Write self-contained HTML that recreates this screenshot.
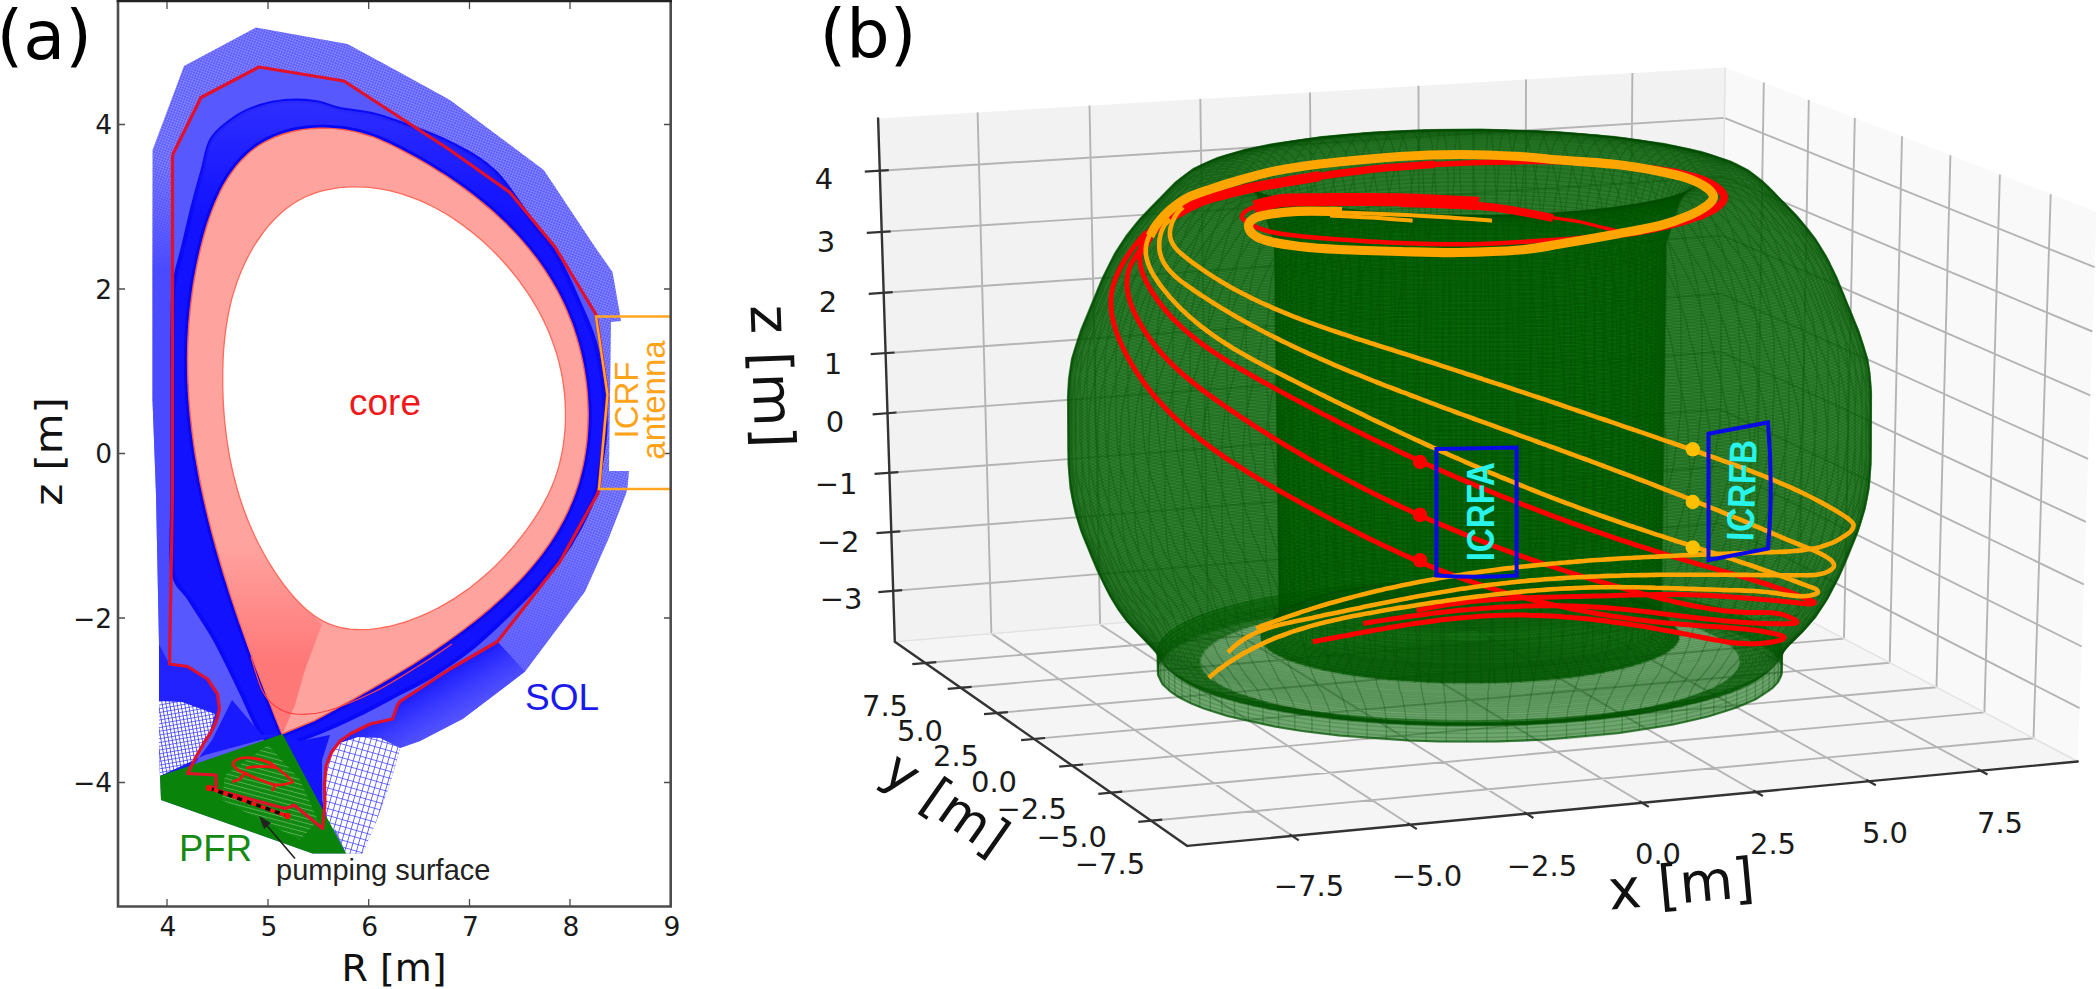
<!DOCTYPE html>
<html><head><meta charset="utf-8"><title>Figure</title>
<style>html,body{margin:0;padding:0;background:#fff}svg{display:block}</style></head><body>
<svg width="2100" height="989" viewBox="0 0 2100 989">
<rect width="2100" height="989" fill="#fff"/>
<g id="pa">
<defs>
<pattern id="mesh" width="2.6" height="2.6" patternUnits="userSpaceOnUse" patternTransform="rotate(20)"><rect width="2.6" height="2.6" fill="#5a5aff"/><path d="M0 0H2.6M0 0V2.6" stroke="#a0a0ff" stroke-width="0.9"/></pattern>
<pattern id="cmesh" width="3.7" height="3.7" patternUnits="userSpaceOnUse" patternTransform="rotate(-10)"><rect width="3.7" height="3.7" fill="#fff"/><path d="M0 0H3.7M0 0V3.7" stroke="#3a3aff" stroke-width="1.6"/></pattern>
<pattern id="cmesh2" width="5.6" height="6.6" patternUnits="userSpaceOnUse" patternTransform="rotate(16)"><rect width="5.6" height="6.6" fill="#fff"/><path d="M0 0H5.6M0 0V6.6" stroke="#3c3cff" stroke-width="1.5"/></pattern>
<pattern id="gmesh" width="4" height="4.5" patternUnits="userSpaceOnUse" patternTransform="rotate(15)"><rect width="4" height="4.5" fill="#128a12"/><path d="M0 0H4" stroke="#8fd08f" stroke-width="1.5"/><path d="M0 0V4.5" stroke="#2a962a" stroke-width="1"/></pattern>
<linearGradient id="pinkg" x1="300" y1="590" x2="283" y2="734" gradientUnits="userSpaceOnUse"><stop offset="0" stop-color="#ff7f7f"/><stop offset="1" stop-color="#ff9a9a"/></linearGradient>
<linearGradient id="lrg" x1="0" y1="510" x2="0" y2="650" gradientUnits="userSpaceOnUse"><stop offset="0" stop-color="#5a5aff" stop-opacity="0"/><stop offset="1" stop-color="#5858ff" stop-opacity="0.6"/></linearGradient>
<linearGradient id="pinkv" x1="0" y1="545" x2="0" y2="660" gradientUnits="userSpaceOnUse"><stop offset="0" stop-color="#ff7474" stop-opacity="0"/><stop offset="1" stop-color="#ff7474" stop-opacity="0.9"/></linearGradient>
<linearGradient id="bandg" x1="0" y1="105" x2="0" y2="250" gradientUnits="userSpaceOnUse"><stop offset="0" stop-color="#5a5aff" stop-opacity="0.38"/><stop offset="0.35" stop-color="#5252ff" stop-opacity="0.22"/><stop offset="0.8" stop-color="#4040ff" stop-opacity="0"/></linearGradient>
<linearGradient id="leftg" x1="0" y1="160" x2="0" y2="270" gradientUnits="userSpaceOnUse"><stop offset="0" stop-color="#4e4eff" stop-opacity="0"/><stop offset="1" stop-color="#4646ff" stop-opacity="0.9"/></linearGradient>
<linearGradient id="lwg" x1="440" y1="672" x2="470" y2="722" gradientUnits="userSpaceOnUse"><stop offset="0" stop-color="#1818ff"/><stop offset="0.45" stop-color="#3a3aff"/><stop offset="1" stop-color="#5c5cff"/></linearGradient>
</defs>
<path d="M256 27.5L347.5 44L400 72.5L450 100L543.8 170L595 247L612.5 272L620 314.5L621 321L611 322L610 400L609 471L629 471L627.5 488L626 494L608 540L585 591.5L525 671.5L462.5 719L420 741L400 748L394 770L387.5 791L376 822L362.5 853.5L346 853.5L312.5 853.5L161 800L160 776L159 741L159 644L156 494L152.5 400L152.5 150L184 66Z" fill="url(#mesh)"/>
<path d="M152.5 150L172.5 155L172.5 494L169.5 664L159 644L156 494L152.5 400Z" fill="url(#leftg)"/>
<path d="M172.5 155L201 97.5L259 67L344 81L400 117.5L450 150L510 192.5L555 247L596 314.5L607.5 394.5L599 489L597.5 494L560 561.5L497.5 641.5L450 669L400 701.5L397.5 705L392.5 719L370 724L350 734L340 741L331 753L326 766L324.5 785L325 803L322.5 828.5L294 805L290 807L285 808.5L287.5 816L209 788L216 787L216 775L187.5 773.5L196 757L205 741L210 734L216 722L219.5 709L217.5 694L207.5 679L187.5 666.5L169.5 664L171 580L172.5 494Z" fill="#5858ff"/>
<path d="M159 644L169.5 664L187.5 666.5L207.5 679L217.5 694L219.5 709L210 734L205 741L187.5 773.5L160 776L159 741Z" fill="#2222ff"/>
<path d="M597.5 494L626 494L608 540L585 591.5L525 671.5L462.5 719L450 669L497.5 641.5L560 561.5Z" fill="url(#lrg)"/>
<path d="M450 669L497.5 641.5L525 671.5L462.5 719L420 741L400 748L394 770L340 741L350 734L370 724L392.5 719L397.5 705L400 701.5Z" fill="url(#lwg)"/>
<path d="M159 701L182 702L215 714L208 738L190 770L160 776L159 741Z" fill="url(#cmesh)"/>
<path d="M340 743L358 737L380 738L400 748L394 770L387.5 791L376 822L362.5 853.5L346 853.5L336 830L328 828L325 803L324.5 785L326 766L331 753Z" fill="url(#cmesh2)"/>
<path d="M172.5 494C172.5 465.7 172.5 427.3 172.5 400C172.5 372.7 172.2 349.2 172.5 330C172.8 310.8 172.2 298.8 174 285C175.8 271.2 179.8 260.3 183 247C186.2 233.7 189.7 217.8 193 205C196.3 192.2 199.4 181.1 202.6 170C205.8 158.9 206.3 147.4 212 138.5C217.7 129.6 228.6 122.1 236.6 116.7C244.6 111.3 251.9 108.6 260 106C268.1 103.4 275.8 101.7 285 101C294.2 100.3 305.8 100.7 315 102C324.2 103.3 330.5 107 340 109C349.5 111 362 111.7 372 114C382 116.3 387 118.2 400 123C413 127.8 434.2 134.8 450 143C465.8 151.2 480.8 158.2 495 172C509.2 185.8 525.2 213 535 226C544.8 239 546.4 237.7 553.6 250C560.8 262.3 570.8 283.3 578 300C585.2 316.7 592.4 330 597 350C601.6 370 605.1 400 605.6 420C606.1 440 602.1 456.7 600 470C597.9 483.3 598 487.5 593 500C588 512.5 578.4 531.7 570 545C561.6 558.3 553.2 567.8 542.4 580C531.6 592.2 517.2 606.3 505 618C492.8 629.7 481.9 640.2 469.4 650C456.9 659.8 441.6 669.8 430 677C418.4 684.2 411.7 686.8 400 693C388.3 699.2 371.7 708.2 360 714C348.3 719.8 340 723.7 330 728C320 732.3 307.9 736.8 300 740C292.1 743.2 288.8 747.8 282.5 747C276.2 746.2 269.1 744.5 262 735C254.9 725.5 247.8 705.8 240 690C232.2 674.2 223.3 655 215 640C206.7 625 197.1 611.7 190 600C182.9 588.3 175.4 587.7 172.5 570C169.6 552.3 172.5 522.3 172.5 494Z" fill="#1212ff" stroke="#0a0af6" stroke-width="4"/>
<clipPath id="bandc"><path d="M172.5 494C172.5 465.7 172.5 427.3 172.5 400C172.5 372.7 172.2 349.2 172.5 330C172.8 310.8 172.2 298.8 174 285C175.8 271.2 179.8 260.3 183 247C186.2 233.7 189.7 217.8 193 205C196.3 192.2 199.4 181.1 202.6 170C205.8 158.9 206.3 147.4 212 138.5C217.7 129.6 228.6 122.1 236.6 116.7C244.6 111.3 251.9 108.6 260 106C268.1 103.4 275.8 101.7 285 101C294.2 100.3 305.8 100.7 315 102C324.2 103.3 330.5 107 340 109C349.5 111 362 111.7 372 114C382 116.3 387 118.2 400 123C413 127.8 434.2 134.8 450 143C465.8 151.2 480.8 158.2 495 172C509.2 185.8 525.2 213 535 226C544.8 239 546.4 237.7 553.6 250C560.8 262.3 570.8 283.3 578 300C585.2 316.7 592.4 330 597 350C601.6 370 605.1 400 605.6 420C606.1 440 602.1 456.7 600 470C597.9 483.3 598 487.5 593 500C588 512.5 578.4 531.7 570 545C561.6 558.3 553.2 567.8 542.4 580C531.6 592.2 517.2 606.3 505 618C492.8 629.7 481.9 640.2 469.4 650C456.9 659.8 441.6 669.8 430 677C418.4 684.2 411.7 686.8 400 693C388.3 699.2 371.7 708.2 360 714C348.3 719.8 340 723.7 330 728C320 732.3 307.9 736.8 300 740C292.1 743.2 288.8 747.8 282.5 747C276.2 746.2 269.1 744.5 262 735C254.9 725.5 247.8 705.8 240 690C232.2 674.2 223.3 655 215 640C206.7 625 197.1 611.7 190 600C182.9 588.3 175.4 587.7 172.5 570C169.6 552.3 172.5 522.3 172.5 494Z"/></clipPath>
<rect x="150" y="95" width="480" height="160" fill="url(#bandg)" clip-path="url(#bandc)"/>
<path d="M282.5 734L262 735L232 700L222 720L212 740L196 762L187.5 773.5L160 776L205 755L282.5 734Z" fill="#1a1aff"/>
<path d="M282.5 734L300 741L330 735L322 760L322 800L330 830L346 853.5L320 815L300 770Z" fill="#1414ff"/>
<path d="M282 734C281.4 732.5 279.6 727.8 278.3 724.7C277.1 721.6 275.9 718.5 274.6 715.4C273.4 712.3 272.2 709.2 271 706.1C269.7 703 268.5 699.9 267.3 696.8C266.1 693.6 264.9 690.5 263.7 687.4C262.4 684.3 261.2 681.1 260 678C258.8 674.8 257.6 671.7 256.4 668.5C255.3 665.4 254.1 662.2 252.9 659.1C251.7 655.9 250.5 652.7 249.4 649.6C248.2 646.4 247.1 643.2 245.9 640C244.8 636.9 243.6 633.7 242.5 630.5C241.4 627.3 240.2 624.1 239.1 620.9C238 617.7 236.9 614.5 235.8 611.3C234.7 608.1 233.7 604.9 232.6 601.7C231.5 598.5 230.5 595.3 229.4 592C228.4 588.8 227.4 585.6 226.4 582.4C225.3 579.1 224.3 575.9 223.3 572.7C222.4 569.4 221.4 566.2 220.4 563C219.5 559.7 218.5 556.5 217.6 553.2C216.7 550 215.7 546.7 214.9 543.5C214 540.2 213.1 537 212.2 533.7C211.4 530.4 210.5 527.2 209.7 523.9C208.9 520.6 208.1 517.4 207.3 514.1C206.5 510.8 205.7 507.5 205 504.2C204.2 501 203.5 497.7 202.8 494.4C202.1 491.1 201.4 487.8 200.7 484.5C200 481.2 199.4 477.9 198.8 474.6C198.2 471.3 197.6 468 197 464.7C196.4 461.4 195.9 458.1 195.3 454.8C194.8 451.5 194.3 448.2 193.8 444.9C193.3 441.5 192.9 438.2 192.5 434.9C192 431.6 191.6 428.3 191.3 425C190.9 421.6 190.5 418.3 190.2 415C189.9 411.6 189.6 408.3 189.3 405C189.1 401.7 188.8 398.3 188.6 395C188.4 391.6 188.2 388.3 188.1 385C187.9 381.6 187.8 378.3 187.7 374.9C187.6 371.6 187.6 368.3 187.6 364.9C187.5 361.6 187.5 358.2 187.6 354.9C187.6 351.5 187.7 348.2 187.8 344.8C187.9 341.5 188 338.1 188.2 334.7C188.4 331.4 188.6 328 188.8 324.7C189.1 321.3 189.3 318 189.7 314.6C190 311.2 190.3 307.9 190.7 304.5C191.1 301.2 191.5 297.8 192 294.4C192.4 291.1 192.9 287.7 193.4 284.3C194 281 194.5 277.6 195.2 274.2C195.8 270.9 196.4 267.5 197.1 264.1C197.8 260.8 198.5 257.4 199.3 254C200.1 250.6 200.9 247.3 201.7 243.9C202.6 240.5 203.5 237.2 204.4 233.8C205.4 230.5 206.4 227.1 207.4 223.8C208.5 220.5 209.6 217.3 210.8 214C212 210.8 213.2 207.6 214.5 204.5C215.8 201.3 217.1 198.2 218.6 195.2C220 192.1 221.5 189.1 223.1 186.2C224.7 183.3 226.4 180.5 228.1 177.7C229.9 175 231.7 172.3 233.7 169.7C235.6 167.1 237.6 164.6 239.7 162.3C241.8 159.9 244 157.6 246.4 155.4C248.7 153.2 251.1 151.2 253.6 149.3C256.1 147.3 258.7 145.5 261.5 143.9C264.2 142.2 267.1 140.6 270 139.3C272.9 137.9 276 136.6 279.1 135.5C282.3 134.3 285.5 133.4 288.8 132.5C292 131.6 295.4 130.9 298.8 130.3C302.1 129.7 305.6 129.2 309 128.9C312.5 128.6 316 128.4 319.5 128.3C323 128.2 326.5 128.2 330 128.4C333.5 128.6 337 128.9 340.5 129.3C344 129.7 347.4 130.2 350.8 130.9C354.2 131.5 357.6 132.3 360.9 133.2C364.2 134.1 367.4 135.1 370.6 136.2C373.8 137.3 377 138.6 380.1 139.8C383.2 141.1 386.2 142.5 389.2 143.9C392.3 145.4 395.3 146.9 398.3 148.4C401.2 149.9 404.2 151.5 407.2 153.1C410.2 154.6 413.1 156.3 416.1 157.9C419 159.5 422 161.2 424.9 162.9C427.8 164.6 430.7 166.4 433.6 168.1C436.5 169.9 439.4 171.7 442.2 173.5C445.1 175.4 447.9 177.2 450.7 179.1C453.5 181 456.3 182.9 459.1 184.9C461.8 186.8 464.6 188.8 467.3 190.9C470 192.9 472.7 194.9 475.4 197C478 199.1 480.6 201.2 483.2 203.4C485.8 205.5 488.4 207.7 491 209.9C493.5 212.1 496 214.4 498.5 216.7C500.9 218.9 503.4 221.3 505.8 223.6C508.1 226 510.5 228.3 512.8 230.8C515.1 233.2 517.4 235.6 519.7 238.1C521.9 240.6 524.1 243.1 526.2 245.7C528.4 248.2 530.5 250.8 532.5 253.5C534.6 256.1 536.6 258.8 538.6 261.4C540.5 264.1 542.4 266.9 544.3 269.6C546.2 272.4 548 275.2 549.7 278.1C551.5 280.9 553.2 283.8 554.8 286.7C556.5 289.6 558.1 292.5 559.6 295.5C561.1 298.5 562.6 301.5 564 304.6C565.4 307.7 566.8 310.8 568.1 313.9C569.4 317 570.6 320.2 571.8 323.3C573 326.5 574.1 329.7 575.1 333C576.2 336.2 577.2 339.5 578.1 342.7C579 346 579.9 349.3 580.7 352.6C581.5 356 582.2 359.3 582.9 362.7C583.6 366 584.2 369.4 584.7 372.8C585.3 376.1 585.8 379.5 586.2 382.9C586.6 386.3 587 389.7 587.2 393.1C587.5 396.5 587.7 399.9 587.9 403.3C588 406.7 588.1 410.1 588.2 413.5C588.2 416.9 588.1 420.4 588 423.7C587.9 427.1 587.7 430.5 587.4 433.9C587.2 437.3 586.9 440.7 586.5 444C586.1 447.4 585.6 450.7 585.1 454C584.6 457.3 584 460.7 583.3 463.9C582.6 467.2 581.9 470.5 581 473.7C580.2 477 579.3 480.2 578.4 483.4C577.4 486.6 576.4 489.7 575.3 492.8C574.2 496 573 499.1 571.7 502.1C570.5 505.2 569.2 508.2 567.8 511.2C566.4 514.2 564.9 517.2 563.4 520.1C561.8 523.1 560.2 525.9 558.6 528.8C556.9 531.7 555.2 534.5 553.4 537.3C551.6 540.1 549.8 542.9 547.9 545.6C546 548.3 544 551.1 542 553.7C540 556.4 538 559 535.8 561.6C533.7 564.3 531.6 566.8 529.4 569.4C527.2 571.9 524.9 574.5 522.6 576.9C520.3 579.4 518 581.9 515.6 584.3C513.3 586.8 510.8 589.2 508.4 591.5C506 593.9 503.5 596.2 501 598.6C498.5 600.9 495.9 603.2 493.3 605.4C490.8 607.7 488.2 609.9 485.5 612.1C482.9 614.3 480.3 616.5 477.6 618.6C474.9 620.8 472.2 622.9 469.5 625C466.8 627.1 464.1 629.2 461.3 631.2C458.6 633.3 455.8 635.3 453.1 637.3C450.3 639.3 447.5 641.2 444.7 643.2C441.9 645.1 439.1 647 436.4 648.9C433.6 650.8 430.8 652.6 427.9 654.5C425.1 656.3 422.3 658.1 419.5 659.9C416.7 661.7 413.9 663.5 411.1 665.3C408.3 667 405.4 668.8 402.6 670.5C399.8 672.2 397 673.9 394.1 675.6C391.3 677.3 388.4 679 385.6 680.7C382.7 682.4 379.8 684 377 685.7C374.1 687.4 371.2 689 368.3 690.7C365.4 692.3 362.5 693.9 359.6 695.6C356.7 697.2 353.8 698.9 350.9 700.5C347.9 702.1 345 703.8 342 705.4C339.1 707.1 336.1 708.7 333.1 710.4C330.1 712 327.1 713.7 324.1 715.3C321.1 717 316.5 719.5 315 720.4Z" fill="none" stroke="#0606f4" stroke-width="7"/>
<path d="M282 734C281.4 732.5 279.6 727.8 278.3 724.7C277.1 721.6 275.9 718.5 274.6 715.4C273.4 712.3 272.2 709.2 271 706.1C269.7 703 268.5 699.9 267.3 696.8C266.1 693.6 264.9 690.5 263.7 687.4C262.4 684.3 261.2 681.1 260 678C258.8 674.8 257.6 671.7 256.4 668.5C255.3 665.4 254.1 662.2 252.9 659.1C251.7 655.9 250.5 652.7 249.4 649.6C248.2 646.4 247.1 643.2 245.9 640C244.8 636.9 243.6 633.7 242.5 630.5C241.4 627.3 240.2 624.1 239.1 620.9C238 617.7 236.9 614.5 235.8 611.3C234.7 608.1 233.7 604.9 232.6 601.7C231.5 598.5 230.5 595.3 229.4 592C228.4 588.8 227.4 585.6 226.4 582.4C225.3 579.1 224.3 575.9 223.3 572.7C222.4 569.4 221.4 566.2 220.4 563C219.5 559.7 218.5 556.5 217.6 553.2C216.7 550 215.7 546.7 214.9 543.5C214 540.2 213.1 537 212.2 533.7C211.4 530.4 210.5 527.2 209.7 523.9C208.9 520.6 208.1 517.4 207.3 514.1C206.5 510.8 205.7 507.5 205 504.2C204.2 501 203.5 497.7 202.8 494.4C202.1 491.1 201.4 487.8 200.7 484.5C200 481.2 199.4 477.9 198.8 474.6C198.2 471.3 197.6 468 197 464.7C196.4 461.4 195.9 458.1 195.3 454.8C194.8 451.5 194.3 448.2 193.8 444.9C193.3 441.5 192.9 438.2 192.5 434.9C192 431.6 191.6 428.3 191.3 425C190.9 421.6 190.5 418.3 190.2 415C189.9 411.6 189.6 408.3 189.3 405C189.1 401.7 188.8 398.3 188.6 395C188.4 391.6 188.2 388.3 188.1 385C187.9 381.6 187.8 378.3 187.7 374.9C187.6 371.6 187.6 368.3 187.6 364.9C187.5 361.6 187.5 358.2 187.6 354.9C187.6 351.5 187.7 348.2 187.8 344.8C187.9 341.5 188 338.1 188.2 334.7C188.4 331.4 188.6 328 188.8 324.7C189.1 321.3 189.3 318 189.7 314.6C190 311.2 190.3 307.9 190.7 304.5C191.1 301.2 191.5 297.8 192 294.4C192.4 291.1 192.9 287.7 193.4 284.3C194 281 194.5 277.6 195.2 274.2C195.8 270.9 196.4 267.5 197.1 264.1C197.8 260.8 198.5 257.4 199.3 254C200.1 250.6 200.9 247.3 201.7 243.9C202.6 240.5 203.5 237.2 204.4 233.8C205.4 230.5 206.4 227.1 207.4 223.8C208.5 220.5 209.6 217.3 210.8 214C212 210.8 213.2 207.6 214.5 204.5C215.8 201.3 217.1 198.2 218.6 195.2C220 192.1 221.5 189.1 223.1 186.2C224.7 183.3 226.4 180.5 228.1 177.7C229.9 175 231.7 172.3 233.7 169.7C235.6 167.1 237.6 164.6 239.7 162.3C241.8 159.9 244 157.6 246.4 155.4C248.7 153.2 251.1 151.2 253.6 149.3C256.1 147.3 258.7 145.5 261.5 143.9C264.2 142.2 267.1 140.6 270 139.3C272.9 137.9 276 136.6 279.1 135.5C282.3 134.3 285.5 133.4 288.8 132.5C292 131.6 295.4 130.9 298.8 130.3C302.1 129.7 305.6 129.2 309 128.9C312.5 128.6 316 128.4 319.5 128.3C323 128.2 326.5 128.2 330 128.4C333.5 128.6 337 128.9 340.5 129.3C344 129.7 347.4 130.2 350.8 130.9C354.2 131.5 357.6 132.3 360.9 133.2C364.2 134.1 367.4 135.1 370.6 136.2C373.8 137.3 377 138.6 380.1 139.8C383.2 141.1 386.2 142.5 389.2 143.9C392.3 145.4 395.3 146.9 398.3 148.4C401.2 149.9 404.2 151.5 407.2 153.1C410.2 154.6 413.1 156.3 416.1 157.9C419 159.5 422 161.2 424.9 162.9C427.8 164.6 430.7 166.4 433.6 168.1C436.5 169.9 439.4 171.7 442.2 173.5C445.1 175.4 447.9 177.2 450.7 179.1C453.5 181 456.3 182.9 459.1 184.9C461.8 186.8 464.6 188.8 467.3 190.9C470 192.9 472.7 194.9 475.4 197C478 199.1 480.6 201.2 483.2 203.4C485.8 205.5 488.4 207.7 491 209.9C493.5 212.1 496 214.4 498.5 216.7C500.9 218.9 503.4 221.3 505.8 223.6C508.1 226 510.5 228.3 512.8 230.8C515.1 233.2 517.4 235.6 519.7 238.1C521.9 240.6 524.1 243.1 526.2 245.7C528.4 248.2 530.5 250.8 532.5 253.5C534.6 256.1 536.6 258.8 538.6 261.4C540.5 264.1 542.4 266.9 544.3 269.6C546.2 272.4 548 275.2 549.7 278.1C551.5 280.9 553.2 283.8 554.8 286.7C556.5 289.6 558.1 292.5 559.6 295.5C561.1 298.5 562.6 301.5 564 304.6C565.4 307.7 566.8 310.8 568.1 313.9C569.4 317 570.6 320.2 571.8 323.3C573 326.5 574.1 329.7 575.1 333C576.2 336.2 577.2 339.5 578.1 342.7C579 346 579.9 349.3 580.7 352.6C581.5 356 582.2 359.3 582.9 362.7C583.6 366 584.2 369.4 584.7 372.8C585.3 376.1 585.8 379.5 586.2 382.9C586.6 386.3 587 389.7 587.2 393.1C587.5 396.5 587.7 399.9 587.9 403.3C588 406.7 588.1 410.1 588.2 413.5C588.2 416.9 588.1 420.4 588 423.7C587.9 427.1 587.7 430.5 587.4 433.9C587.2 437.3 586.9 440.7 586.5 444C586.1 447.4 585.6 450.7 585.1 454C584.6 457.3 584 460.7 583.3 463.9C582.6 467.2 581.9 470.5 581 473.7C580.2 477 579.3 480.2 578.4 483.4C577.4 486.6 576.4 489.7 575.3 492.8C574.2 496 573 499.1 571.7 502.1C570.5 505.2 569.2 508.2 567.8 511.2C566.4 514.2 564.9 517.2 563.4 520.1C561.8 523.1 560.2 525.9 558.6 528.8C556.9 531.7 555.2 534.5 553.4 537.3C551.6 540.1 549.8 542.9 547.9 545.6C546 548.3 544 551.1 542 553.7C540 556.4 538 559 535.8 561.6C533.7 564.3 531.6 566.8 529.4 569.4C527.2 571.9 524.9 574.5 522.6 576.9C520.3 579.4 518 581.9 515.6 584.3C513.3 586.8 510.8 589.2 508.4 591.5C506 593.9 503.5 596.2 501 598.6C498.5 600.9 495.9 603.2 493.3 605.4C490.8 607.7 488.2 609.9 485.5 612.1C482.9 614.3 480.3 616.5 477.6 618.6C474.9 620.8 472.2 622.9 469.5 625C466.8 627.1 464.1 629.2 461.3 631.2C458.6 633.3 455.8 635.3 453.1 637.3C450.3 639.3 447.5 641.2 444.7 643.2C441.9 645.1 439.1 647 436.4 648.9C433.6 650.8 430.8 652.6 427.9 654.5C425.1 656.3 422.3 658.1 419.5 659.9C416.7 661.7 413.9 663.5 411.1 665.3C408.3 667 405.4 668.8 402.6 670.5C399.8 672.2 397 673.9 394.1 675.6C391.3 677.3 388.4 679 385.6 680.7C382.7 682.4 379.8 684 377 685.7C374.1 687.4 371.2 689 368.3 690.7C365.4 692.3 362.5 693.9 359.6 695.6C356.7 697.2 353.8 698.9 350.9 700.5C347.9 702.1 345 703.8 342 705.4C339.1 707.1 336.1 708.7 333.1 710.4C330.1 712 327.1 713.7 324.1 715.3C321.1 717 316.5 719.5 315 720.4Z" fill="#ffa39f" stroke="#ff5a48" stroke-width="1.4"/>
<path d="M214 540L250 530L262 552L280 579L300 604L322 624L305 670L295 705L283 733L266 694L249 650L225.4 580Z" fill="url(#pinkv)"/>
<path d="M354.9 186.8C358.2 186.8 361.6 186.9 364.9 187.1C368.2 187.3 371.5 187.7 374.7 188.1C378 188.5 381.3 189 384.5 189.7C387.8 190.3 391 191 394.2 191.9C397.4 192.7 400.6 193.6 403.8 194.6C406.9 195.6 410.1 196.7 413.2 197.9C416.3 199.1 419.4 200.4 422.5 201.7C425.5 203.1 428.6 204.5 431.6 206C434.6 207.5 437.6 209.1 440.5 210.8C443.5 212.4 446.4 214.2 449.3 216C452.2 217.8 455 219.7 457.8 221.6C460.6 223.5 463.4 225.5 466.1 227.6C468.9 229.6 471.6 231.8 474.2 233.9C476.9 236.1 479.5 238.3 482 240.6C484.6 242.9 487.1 245.2 489.6 247.6C492.1 249.9 494.5 252.4 496.9 254.8C499.3 257.3 501.6 259.8 503.9 262.3C506.1 264.8 508.4 267.4 510.5 270C512.7 272.6 514.8 275.2 516.9 277.9C518.9 280.6 520.9 283.3 522.9 286C524.8 288.7 526.7 291.4 528.5 294.2C530.4 297 532.1 299.8 533.8 302.6C535.5 305.4 537.2 308.3 538.8 311.2C540.3 314.1 541.9 317 543.3 319.9C544.8 322.9 546.1 325.8 547.5 328.8C548.8 331.8 550 334.9 551.2 337.9C552.4 341 553.5 344.1 554.5 347.2C555.6 350.3 556.6 353.4 557.5 356.6C558.4 359.8 559.2 363 559.9 366.2C560.7 369.4 561.4 372.7 562 375.9C562.6 379.2 563.1 382.5 563.6 385.9C564 389.2 564.4 392.6 564.7 395.9C565 399.3 565.2 402.7 565.3 406.1C565.5 409.5 565.5 413 565.5 416.4C565.5 419.8 565.4 423.2 565.2 426.7C565 430.1 564.7 433.5 564.3 436.9C564 440.3 563.5 443.7 563 447C562.4 450.4 561.8 453.7 561.1 457C560.4 460.3 559.6 463.6 558.7 466.9C557.8 470.1 556.8 473.3 555.7 476.4C554.6 479.6 553.4 482.7 552.2 485.7C550.9 488.8 549.5 491.8 548.1 494.8C546.7 497.7 545.1 500.6 543.5 503.5C542 506.4 540.3 509.3 538.6 512.1C536.8 514.9 535 517.7 533.2 520.4C531.4 523.2 529.4 525.9 527.5 528.6C525.5 531.3 523.5 533.9 521.5 536.6C519.4 539.2 517.3 541.8 515.2 544.4C513 547 510.8 549.5 508.6 552C506.3 554.5 504.1 557 501.7 559.4C499.4 561.8 497 564.2 494.6 566.6C492.2 568.9 489.7 571.2 487.2 573.5C484.7 575.7 482.1 577.9 479.5 580.1C476.9 582.3 474.3 584.4 471.6 586.4C468.9 588.5 466.2 590.5 463.4 592.4C460.6 594.4 457.8 596.3 455 598.1C452.1 599.9 449.2 601.7 446.3 603.4C443.4 605.1 440.4 606.8 437.4 608.3C434.4 609.9 431.3 611.4 428.2 612.8C425.1 614.3 422 615.6 418.9 616.9C415.7 618.2 412.5 619.4 409.3 620.6C406 621.7 402.8 622.8 399.5 623.7C396.2 624.7 392.9 625.6 389.6 626.3C386.2 627 382.9 627.7 379.6 628.2C376.3 628.7 373 629.1 369.7 629.4C366.4 629.6 363.1 629.8 359.8 629.7C356.6 629.7 353.4 629.5 350.2 629.2C347 628.8 343.9 628.3 340.8 627.6C337.7 626.9 334.7 626 331.7 624.9C328.8 623.9 325.9 622.6 323 621.1C320.2 619.6 317.5 617.9 314.8 616.1C312.2 614.3 309.6 612.2 307 610.1C304.5 607.9 302.1 605.6 299.7 603.2C297.3 600.8 295 598.3 292.7 595.7C290.5 593.1 288.3 590.4 286.2 587.6C284 584.9 282 582.1 280 579.3C278 576.5 276 573.6 274.2 570.8C272.3 567.9 270.5 565 268.7 562.1C266.9 559.2 265.2 556.2 263.6 553.3C261.9 550.3 260.4 547.3 258.8 544.3C257.3 541.3 255.8 538.3 254.4 535.2C253 532.2 251.6 529.1 250.3 526C249 523 247.7 519.9 246.5 516.7C245.3 513.6 244.1 510.5 243 507.3C241.9 504.2 240.9 501 239.8 497.8C238.8 494.6 237.9 491.4 237 488.2C236.1 485 235.2 481.8 234.4 478.5C233.6 475.3 232.8 472.1 232.1 468.8C231.4 465.5 230.7 462.3 230 459C229.4 455.7 228.8 452.4 228.3 449.1C227.7 445.8 227.2 442.5 226.8 439.2C226.3 435.8 225.9 432.5 225.5 429.2C225.1 425.8 224.8 422.5 224.5 419.2C224.2 415.8 223.9 412.5 223.7 409.1C223.5 405.8 223.3 402.4 223.1 399C223 395.7 222.9 392.3 222.8 388.9C222.7 385.6 222.7 382.2 222.7 378.8C222.7 375.5 222.7 372.1 222.8 368.7C222.9 365.4 223 362 223.1 358.6C223.3 355.3 223.5 351.9 223.7 348.6C224 345.2 224.3 341.9 224.7 338.6C225 335.2 225.4 331.9 225.9 328.6C226.4 325.3 226.9 322 227.5 318.7C228.1 315.4 228.7 312.2 229.4 308.9C230.1 305.7 230.9 302.4 231.7 299.2C232.6 296 233.5 292.8 234.5 289.6C235.5 286.5 236.5 283.3 237.7 280.2C238.8 277.1 240 274 241.3 270.9C242.6 267.8 244 264.8 245.5 261.7C246.9 258.7 248.5 255.7 250.1 252.8C251.7 249.8 253.5 246.9 255.3 244C257.1 241.1 259 238.3 261 235.5C263 232.7 265.1 230 267.2 227.4C269.4 224.8 271.7 222.2 274 219.8C276.4 217.3 278.8 215 281.3 212.8C283.8 210.5 286.4 208.4 289.1 206.5C291.8 204.5 294.6 202.7 297.5 201C300.3 199.4 303.3 197.9 306.3 196.5C309.3 195.1 312.4 194 315.6 192.9C318.7 191.9 321.9 191 325.1 190.2C328.4 189.4 331.7 188.8 335 188.3C338.3 187.8 341.6 187.5 344.9 187.2C348.2 187 351.6 186.8 354.9 186.8Z" fill="#fff" stroke="#ff6a5a" stroke-width="1.3"/>
<path d="M251 657C252.8 662.5 258 681.8 262 690C266 698.2 269.5 702 275 706C280.5 710 286.7 713.1 295 714C303.3 714.9 311.7 715.2 325 711.5C338.3 707.8 359.2 699.2 375 691.5C390.8 683.8 407.2 672.9 420 665C432.8 657.1 446.7 647.5 452 644" fill="none" stroke="#ff4040" stroke-width="1.2"/>
<path d="M282.5 734L160 776L161 800L312.5 853.5L346 853.5Z" fill="#0a830a"/>
<path d="M268 745L225 775L222 800L300 840L318 820L300 780Z" fill="url(#gmesh)" opacity="0.75"/>
<path d="M172.5 155L201 97.5L259 67L344 81L400 117.5L450 150L510 192.5L555 247L596 314.5L607.5 394.5L599 489L597.5 494L560 561.5L497.5 641.5L450 669L400 701.5L397.5 705L392.5 719L370 724L350 734L340 741L331 753L326 766L324.5 785L325 803L322.5 828.5L294 805L290 807L285 808.5L209 788" fill="none" stroke="#e3102a" stroke-width="3.2" stroke-linejoin="round"/>
<path d="M287.5 816L209 788L216 787L216 775L187.5 773.5L196 757L205 741L210 734L216 722L219.5 709L217.5 694L207.5 679L187.5 666.5L169.5 664L171 580L172.5 494L172.5 155" fill="none" stroke="#e3102a" stroke-width="3.2" stroke-linejoin="round"/>
<path d="M209 788L287.5 816" stroke="#ff1010" stroke-width="3.4"/>
<path d="M209 788L287.5 816" stroke="#000" stroke-width="3.4" stroke-dasharray="5 5"/>
<circle cx="209" cy="788" r="3.2" fill="#f01010"/><circle cx="287.5" cy="816" r="3.2" fill="#f01010"/>
<path d="M232.5 764C236 757 247 757 255 758.5C264 760 272 763 277 768C285 774 291 779 292.5 782C286 785 278 785 275 785L272.5 791M232.5 764C236 770 240 772 245 773L240 779L232 782M245 773C253 778 262 781 275 785M277 768C270 766 255 766 246 768" fill="none" stroke="#ee1515" stroke-width="2.8" stroke-linejoin="round"/>
<path d="M670 316.5H596L607.5 394.5L599 489H670" fill="none" stroke="#ffa722" stroke-width="2.4"/>
<path d="M295 858.5L263 821" stroke="#222" stroke-width="1.6"/><path d="M259 816L271 823L264 829Z" fill="#222"/>
<path d="M118 0V906.5H670.7V0" fill="none" stroke="#4d4d4d" stroke-width="2.6"/>
<path d="M116.7 1H672" stroke="#222" stroke-width="2.4"/>
<path d="M167 906V899M167 2V9M268 906V899M268 2V9M368.7 906V899M368.7 2V9M469.5 906V899M469.5 2V9M570 906V899M570 2V9M118 124.5H125M670.7 124.5H664M118 289H125M670.7 289H664M118 453.5H125M670.7 453.5H664M118 618H125M670.7 618H664M118 782.5H125M670.7 782.5H664" stroke="#4d4d4d" stroke-width="1.3"/>
<text transform="translate(168 935.5)" font-family="'DejaVu Sans','Liberation Sans',sans-serif" font-size="26.5" fill="#1a1a1a" text-anchor="middle">4</text>
<text transform="translate(269 935.5)" font-family="'DejaVu Sans','Liberation Sans',sans-serif" font-size="26.5" fill="#1a1a1a" text-anchor="middle">5</text>
<text transform="translate(369.7 935.5)" font-family="'DejaVu Sans','Liberation Sans',sans-serif" font-size="26.5" fill="#1a1a1a" text-anchor="middle">6</text>
<text transform="translate(470.5 935.5)" font-family="'DejaVu Sans','Liberation Sans',sans-serif" font-size="26.5" fill="#1a1a1a" text-anchor="middle">7</text>
<text transform="translate(571 935.5)" font-family="'DejaVu Sans','Liberation Sans',sans-serif" font-size="26.5" fill="#1a1a1a" text-anchor="middle">8</text>
<text transform="translate(672 935.5)" font-family="'DejaVu Sans','Liberation Sans',sans-serif" font-size="26.5" fill="#1a1a1a" text-anchor="middle">9</text>
<text transform="translate(112 134.2)" font-family="'DejaVu Sans','Liberation Sans',sans-serif" font-size="26.5" fill="#1a1a1a" text-anchor="end">4</text>
<text transform="translate(112 298.7)" font-family="'DejaVu Sans','Liberation Sans',sans-serif" font-size="26.5" fill="#1a1a1a" text-anchor="end">2</text>
<text transform="translate(112 463.2)" font-family="'DejaVu Sans','Liberation Sans',sans-serif" font-size="26.5" fill="#1a1a1a" text-anchor="end">0</text>
<text transform="translate(112 627.7)" font-family="'DejaVu Sans','Liberation Sans',sans-serif" font-size="26.5" fill="#1a1a1a" text-anchor="end">−2</text>
<text transform="translate(112 792.2)" font-family="'DejaVu Sans','Liberation Sans',sans-serif" font-size="26.5" fill="#1a1a1a" text-anchor="end">−4</text>
<text transform="translate(394 981)" font-family="'DejaVu Sans','Liberation Sans',sans-serif" font-size="38" fill="#111" text-anchor="middle">R [m]</text>
<text transform="translate(62 451.5) rotate(-90) scale(1.1 1)" font-family="'DejaVu Sans','Liberation Sans',sans-serif" font-size="38" fill="#111" text-anchor="middle">z [m]</text>
<text transform="translate(349 414.5)" font-family="'Liberation Sans','DejaVu Sans',sans-serif" font-size="37" fill="#f01818" text-anchor="start">core</text>
<text transform="translate(525 709.5)" font-family="'Liberation Sans','DejaVu Sans',sans-serif" font-size="37" fill="#1a1aee" text-anchor="start">SOL</text>
<text transform="translate(179 861)" font-family="'Liberation Sans','DejaVu Sans',sans-serif" font-size="36.5" fill="#148a14" text-anchor="start">PFR</text>
<text transform="translate(276 880)" font-family="'Liberation Sans','DejaVu Sans',sans-serif" font-size="29" fill="#222" text-anchor="start">pumping surface</text>
<text transform="translate(637.5 400) rotate(-90)" font-family="'Liberation Sans','DejaVu Sans',sans-serif" font-size="33" fill="#ffa31a" text-anchor="middle">ICRF</text>
<text transform="translate(665 400) rotate(-90)" font-family="'Liberation Sans','DejaVu Sans',sans-serif" font-size="33" fill="#ffa31a" text-anchor="middle">antenna</text>
<text transform="translate(-3.5 59)" font-family="'DejaVu Sans','Liberation Sans',sans-serif" font-size="68.5" fill="#000" text-anchor="start">(a)</text>
</g>
<g id="pb">
<path d="M894.8 641.8L878.1 118.4L1725.1 67.4L1718.1 572.5Z" fill="#f2f2f2"/>
<path d="M1718.1 572.5L1725.1 67.4L2096.5 212.1L2077.8 761.5Z" fill="#f9f9f9"/>
<path d="M894.8 641.8L1718.1 572.5L2077.8 761.5L1187.3 845.9Z" fill="#f5f5f5"/>
<path d="M991.4 633.6L977.6 112.4M991.4 633.6L1292.2 835.9M1100.1 624.5L1089.5 105.6M1100.1 624.5L1410 824.8M1207.8 615.4L1200.3 99M1207.8 615.4L1526.6 813.7M1314.4 606.5L1310 92.4M1314.4 606.5L1641.9 802.8M1419.9 597.6L1418.5 85.8M1419.9 597.6L1756 792M1524.4 588.8L1526 79.4M1524.4 588.8L1868.9 781.3M1627.9 580.1L1632.4 73M1627.9 580.1L1980.5 770.7M2033.5 738.3L2050.7 194.3M2033.5 738.3L1151.3 820.7M1984.4 712.4L1999.9 174.5M1984.4 712.4L1111.2 792.8M1936.5 687.2L1950.4 155.2M1936.5 687.2L1072.2 765.5M1889.7 662.7L1902 136.3M1889.7 662.7L1034.1 738.9M1844 638.6L1854.8 118M1844 638.6L996.9 713M1799.3 615.2L1808.8 100M1799.3 615.2L960.7 687.7M1755.7 592.2L1763.8 82.5M1755.7 592.2L925.3 663M893.2 590.9L1718.8 523.3M1718.8 523.3L2079.6 708.2M891.3 532L1719.6 466.5M1719.6 466.5L2081.7 646.5M889.4 472.8L1720.4 409.3M1720.4 409.3L2083.8 584.3M887.5 413.2L1721.2 351.8M1721.2 351.8L2085.9 521.8M885.6 353.2L1722 293.8M1722 293.8L2088.1 458.8M883.7 292.7L1722.8 235.6M1722.8 235.6L2090.3 395.4M881.8 231.9L1723.6 176.9M1723.6 176.9L2092.4 331.5M879.8 170.7L1724.4 117.9M1724.4 117.9L2094.6 267.2" stroke="#b4b4b4" stroke-width="1.9" fill="none"/>
<path d="M1725.1 67.4L1718.1 572.5M894.8 641.8L1718.1 572.5M1718.1 572.5L2077.8 761.5" stroke="#e2e2e2" stroke-width="1.5" fill="none"/>
<path d="M1126 236.5L1115 253.5L1102.5 278.5L1081 330.5L1072 359L1069 378.5L1068 397.5L1068.5 463.5L1070.5 488L1075.5 512.5L1081.5 531.5L1097.5 570.5L1110.5 596.5L1118.5 609.5L1127.5 621.5L1156.5 652.5L1157.5 654.5L1158 675L1162.5 684L1171 692L1179.5 697.5L1191.5 703.5L1204 708.5L1227.5 716L1274.5 726.5L1302.5 731L1339.5 735.5L1409 740.5L1440 741.5L1496 741.5L1546.5 739.5L1619 733L1673 724.5L1708 716.5L1736.5 707.5L1756 699L1772.5 688L1778 682L1781.5 674.5L1782 654L1783.5 651L1788.5 645L1802 632L1815 617L1827 599L1838.5 577L1857.5 531.5L1864.5 509L1868.5 488L1870.5 465L1871 393.5L1869.5 373.5L1867 358.5L1858.5 331.5L1836.5 278L1827 258.5L1815 239L1796 215.5L1762.5 181.5L1748 170.5L1731.5 162L1701.5 152L1664.5 144L1615.5 137L1556 132L1480.5 129.5L1427.5 130L1373 132.5L1322 137L1270.5 144.5L1244.5 150L1217.5 158L1193.5 169L1175 183L1140.5 218.5Z" fill="rgb(0,100,0)" fill-opacity="0.55" fill-rule="evenodd" stroke="#0b5c0b" stroke-width="2.2" stroke-opacity="0.75"/>
<path d="M1126 236.5L1115 253.5L1102.5 278.5L1081 330.5L1072 359L1069 378.5L1068 397.5L1068.5 463.5L1071 491.5L1075.5 512.5L1084.5 539.5L1100.5 577L1108 592L1117.5 608L1130 624.5L1155.5 651L1157.5 654.5L1157.5 666L1158.5 666L1159.5 663L1161.5 662L1177 677L1194 687L1214 695L1235.5 701.5L1279 711L1340 719.5L1398 724L1437.5 725.5L1499 725.5L1538.5 724L1596.5 719.5L1626 716L1661 710.5L1702 701.5L1733.5 691.5L1753 682.5L1761 677.5L1766 673.5L1778 661L1779 661L1781 665L1782 665L1782 654L1783.5 651L1788.5 645L1802 632L1815 617L1827 599L1838.5 577L1857.5 531.5L1864.5 509L1868.5 488L1870.5 465L1871 393.5L1869.5 373.5L1867 358.5L1858.5 331.5L1836.5 278L1827 258.5L1815 239L1796 215.5L1762.5 181.5L1748 170.5L1731.5 162L1701.5 152L1664.5 144L1615.5 137L1556 132L1480.5 129.5L1427.5 130L1373 132.5L1322 137L1270.5 144.5L1244.5 150L1217.5 158L1193.5 169L1175 183L1140.5 218.5ZM1200 659L1204.5 650.5L1211.5 644L1220 638.5L1241.5 629L1269 621L1269.5 622.5L1263.5 629.5L1261 634.5L1261 639.5L1262.5 643L1269 650L1276 654.5L1288 660L1299.5 664L1322.5 670L1349.5 675L1376 678.5L1429 682.5L1495 683L1541 680.5L1578.5 676.5L1603.5 672.5L1630.5 666.5L1657 657.5L1665 653.5L1673 648L1677 643.5L1679 639.5L1679 633.5L1677 629.5L1671 622.5L1671.5 621L1673.5 621L1702.5 630L1725 641L1731 645.5L1737 652L1739.5 657L1740 663L1737.5 669.5L1731.5 676.5L1722.5 683L1712 688.5L1683 699L1645 708L1601 714L1553 718L1510 720L1449 720.5L1392 718.5L1345.5 715L1306.5 710.5L1274 704L1238.5 693.5L1225.5 688L1215.5 682.5L1210 678.5L1202.5 670.5L1200 664.5Z" fill="rgb(0,100,0)" fill-opacity="0.55" fill-rule="evenodd"/>
<path d="M1763.5 674.5L1742.5 684.5L1722.5 691.5L1694.5 699L1662.5 705.5L1622 712L1578.5 717.5L1541.5 720.5L1494 722.5L1443 722.5L1404 721L1364 718L1322 713L1269 704.5L1227 695L1198 685.5L1187.5 681L1177 675L1176 675L1176 676L1184.5 682L1194 687L1218.5 696.5L1249.5 705L1297 714L1340 719.5L1389 723.5L1437.5 725.5L1499 725.5L1547.5 723.5L1586.5 720.5L1626 716L1671.5 708.5L1702 701.5L1729.5 693L1753 682.5L1763 676ZM1255.5 192L1261 201.5L1274.5 242.5L1279 594.5L1278 595.5L1253 600L1223 607.5L1199 615.5L1180.5 624L1169 631.5L1160.5 640.5L1157.5 648L1157.5 655L1160.5 660L1161.5 660L1168 653L1177 646.5L1191.5 639L1202.5 634.5L1236.5 624L1273 616.5L1273.5 618L1262.5 631L1261 634.5L1261 639.5L1263.5 644.5L1269 650L1276 654.5L1293.5 662L1322.5 670L1349.5 675L1391 680L1443 683L1509 682.5L1566.5 678L1592 674.5L1620.5 669L1642.5 663L1653.5 659L1667.5 652L1675.5 645.5L1679 639.5L1679 633.5L1677 629.5L1666.5 617.5L1667 616L1703.5 623.5L1723 629L1741.5 635.5L1763 646L1772.5 653L1778 659L1779.5 659L1782 654.5L1782 646.5L1779 639.5L1771.5 631.5L1759.5 623.5L1743.5 616L1722 608.5L1693.5 601L1664 595.5L1661.5 594L1666 242L1679.5 201L1685 192L1675.5 195.5L1653.5 201L1606.5 208.5L1548 213.5L1489.5 215.5L1415.5 214.5L1344.5 209.5L1298.5 203L1269.5 196.5Z" fill="rgb(0,100,0)" fill-opacity="0.55" fill-rule="evenodd"/>
<path d="M1255.5 192L1261 201.5L1274.5 242.5L1279 612.5L1275.5 615.5L1272.5 620L1306 613L1348 607L1399 602.5L1448 600.5L1513 601L1570 604.5L1617.5 610L1644.5 614.5L1667.5 619.5L1665.5 616L1661 612L1666 242L1679.5 201L1685 192L1675.5 195.5L1653.5 201L1606.5 208.5L1548 213.5L1489.5 215.5L1415.5 214.5L1344.5 209.5L1298.5 203L1269.5 196.5Z" fill="rgb(0,100,0)" fill-opacity="0.55" fill-rule="evenodd"/>
<path d="M1277 614.5L1277 615.5L1280 617L1282 614.5L1300.5 611.5L1336 607L1374.5 603.5L1419 601L1476.5 600L1524 601L1575 604L1642 611.5L1657.5 614L1660 616.5L1663.5 615L1663.5 614L1661 612L1660.5 594.5L1623.5 589L1580 584.5L1503.5 580.5L1439.5 580.5L1400 582L1351.5 585.5L1300.5 591.5L1279.5 595L1279 612.5Z" fill="rgb(0,100,0)" fill-opacity="0.55" fill-rule="evenodd"/>
<g fill="none" stroke="#004800" stroke-opacity="0.19" stroke-width="1.5"><ellipse cx="1470.5" cy="635.9" rx="5.5" ry="24.8" transform="rotate(89.9 1470.5 635.9)"/><ellipse cx="1470.5" cy="636" rx="6.3" ry="28.3" transform="rotate(89.9 1470.5 636)"/><ellipse cx="1470.5" cy="636" rx="7.1" ry="31.8" transform="rotate(89.9 1470.5 636)"/><ellipse cx="1470.5" cy="636" rx="7.9" ry="35.3" transform="rotate(89.9 1470.5 636)"/><ellipse cx="1470.5" cy="636" rx="8.6" ry="38.8" transform="rotate(89.9 1470.5 636)"/><ellipse cx="1470.5" cy="636" rx="9.4" ry="42.2" transform="rotate(89.9 1470.5 636)"/><ellipse cx="1470.5" cy="636" rx="10.2" ry="45.7" transform="rotate(89.9 1470.5 636)"/><ellipse cx="1470.5" cy="636" rx="10.9" ry="49.2" transform="rotate(89.9 1470.5 636)"/><ellipse cx="1470.5" cy="636" rx="11.7" ry="52.7" transform="rotate(89.9 1470.5 636)"/><ellipse cx="1470.5" cy="636" rx="12.5" ry="56.2" transform="rotate(89.9 1470.5 636)"/><ellipse cx="1470.5" cy="636" rx="13.3" ry="59.7" transform="rotate(89.9 1470.5 636)"/><ellipse cx="1470.5" cy="636" rx="14" ry="63.1" transform="rotate(89.9 1470.5 636)"/><ellipse cx="1470.5" cy="636" rx="14.8" ry="66.6" transform="rotate(89.9 1470.5 636)"/><ellipse cx="1470.5" cy="636.1" rx="15.6" ry="70.1" transform="rotate(89.9 1470.5 636.1)"/><ellipse cx="1470.5" cy="636.1" rx="16.4" ry="73.6" transform="rotate(89.9 1470.5 636.1)"/><ellipse cx="1470.5" cy="636.1" rx="17.1" ry="77.1" transform="rotate(89.9 1470.5 636.1)"/><ellipse cx="1470.5" cy="636.1" rx="17.9" ry="80.5" transform="rotate(89.9 1470.5 636.1)"/><ellipse cx="1470.5" cy="636.1" rx="18.7" ry="84" transform="rotate(89.9 1470.5 636.1)"/><ellipse cx="1470.5" cy="636.1" rx="19.5" ry="87.5" transform="rotate(89.9 1470.5 636.1)"/><ellipse cx="1470.5" cy="636.1" rx="20.2" ry="91" transform="rotate(89.9 1470.5 636.1)"/><ellipse cx="1470.5" cy="636.2" rx="21" ry="94.5" transform="rotate(89.9 1470.5 636.2)"/><ellipse cx="1470.4" cy="636.2" rx="21.8" ry="98" transform="rotate(89.9 1470.4 636.2)"/><ellipse cx="1470.4" cy="636.2" rx="22.6" ry="101.4" transform="rotate(89.9 1470.4 636.2)"/><ellipse cx="1470.4" cy="636.2" rx="23.3" ry="104.9" transform="rotate(89.9 1470.4 636.2)"/><ellipse cx="1470.4" cy="636.2" rx="24.1" ry="108.4" transform="rotate(89.9 1470.4 636.2)"/><ellipse cx="1470.4" cy="636.2" rx="24.9" ry="111.9" transform="rotate(89.9 1470.4 636.2)"/><ellipse cx="1470.4" cy="636.3" rx="25.7" ry="115.4" transform="rotate(89.9 1470.4 636.3)"/><ellipse cx="1470.4" cy="636.3" rx="26.4" ry="118.8" transform="rotate(89.9 1470.4 636.3)"/><ellipse cx="1470.4" cy="636.3" rx="27.2" ry="122.3" transform="rotate(89.9 1470.4 636.3)"/><ellipse cx="1470.4" cy="636.3" rx="28" ry="125.8" transform="rotate(89.9 1470.4 636.3)"/><ellipse cx="1470.4" cy="636.3" rx="28.8" ry="129.3" transform="rotate(89.9 1470.4 636.3)"/><ellipse cx="1470.4" cy="636.4" rx="29.5" ry="132.8" transform="rotate(89.9 1470.4 636.4)"/><ellipse cx="1470.4" cy="636.4" rx="30.3" ry="136.3" transform="rotate(89.9 1470.4 636.4)"/><ellipse cx="1470.4" cy="636.4" rx="31.1" ry="139.7" transform="rotate(89.9 1470.4 636.4)"/><ellipse cx="1470.4" cy="636.4" rx="31.9" ry="143.2" transform="rotate(89.9 1470.4 636.4)"/><ellipse cx="1470.4" cy="636.5" rx="32.6" ry="146.7" transform="rotate(89.9 1470.4 636.5)"/><ellipse cx="1470.4" cy="636.5" rx="33.4" ry="150.2" transform="rotate(89.9 1470.4 636.5)"/><ellipse cx="1470.4" cy="636.5" rx="34.2" ry="153.7" transform="rotate(89.9 1470.4 636.5)"/><ellipse cx="1470.4" cy="636.5" rx="35" ry="157.2" transform="rotate(89.9 1470.4 636.5)"/><ellipse cx="1470.4" cy="636.6" rx="35.7" ry="160.6" transform="rotate(89.9 1470.4 636.6)"/><ellipse cx="1470.4" cy="636.6" rx="36.5" ry="164.1" transform="rotate(89.9 1470.4 636.6)"/><ellipse cx="1470.4" cy="636.6" rx="37.3" ry="167.6" transform="rotate(89.9 1470.4 636.6)"/><ellipse cx="1470.4" cy="636.7" rx="38.1" ry="171.1" transform="rotate(89.9 1470.4 636.7)"/><ellipse cx="1470.4" cy="636.7" rx="38.8" ry="174.6" transform="rotate(89.9 1470.4 636.7)"/><ellipse cx="1470.4" cy="636.7" rx="39.6" ry="178" transform="rotate(89.9 1470.4 636.7)"/><ellipse cx="1470.3" cy="636.7" rx="40.4" ry="181.5" transform="rotate(89.9 1470.3 636.7)"/><ellipse cx="1470.3" cy="636.8" rx="41.2" ry="185" transform="rotate(89.9 1470.3 636.8)"/><ellipse cx="1470.3" cy="636.8" rx="41.9" ry="188.5" transform="rotate(89.9 1470.3 636.8)"/><ellipse cx="1470.3" cy="636.8" rx="42.7" ry="192" transform="rotate(89.9 1470.3 636.8)"/><ellipse cx="1470.3" cy="636.9" rx="43.5" ry="195.5" transform="rotate(89.9 1470.3 636.9)"/><ellipse cx="1470.3" cy="636.9" rx="44.3" ry="198.9" transform="rotate(89.9 1470.3 636.9)"/><ellipse cx="1470.3" cy="636.9" rx="45" ry="202.4" transform="rotate(89.9 1470.3 636.9)"/><ellipse cx="1470.3" cy="637" rx="45.8" ry="205.9" transform="rotate(89.9 1470.3 637)"/><ellipse cx="1470.3" cy="637" rx="46.6" ry="209.4" transform="rotate(89.9 1470.3 637)"/><ellipse cx="1470.3" cy="634.6" rx="46.1" ry="207.3" transform="rotate(89.9 1470.3 634.6)"/><ellipse cx="1470.3" cy="632.2" rx="45.6" ry="205.3" transform="rotate(89.9 1470.3 632.2)"/><ellipse cx="1470.3" cy="629.7" rx="45.1" ry="203.2" transform="rotate(89.9 1470.3 629.7)"/><ellipse cx="1470.3" cy="627.3" rx="44.6" ry="201.2" transform="rotate(89.9 1470.3 627.3)"/><ellipse cx="1470.3" cy="624.9" rx="44" ry="199.1" transform="rotate(89.9 1470.3 624.9)"/><ellipse cx="1470.3" cy="623.8" rx="43.4" ry="196.4" transform="rotate(89.9 1470.3 623.8)"/><ellipse cx="1470.3" cy="622.8" rx="42.8" ry="193.8" transform="rotate(89.9 1470.3 622.8)"/><ellipse cx="1470.3" cy="621.8" rx="42.2" ry="191.1" transform="rotate(89.9 1470.3 621.8)"/><ellipse cx="1470.3" cy="617.4" rx="42.1" ry="191.1" transform="rotate(89.9 1470.3 617.4)"/><ellipse cx="1470.3" cy="612.9" rx="42" ry="191.2" transform="rotate(89.9 1470.3 612.9)"/><ellipse cx="1470.3" cy="608.5" rx="42" ry="191.3" transform="rotate(89.9 1470.3 608.5)"/><ellipse cx="1470.3" cy="604" rx="41.9" ry="191.3" transform="rotate(89.9 1470.3 604)"/><ellipse cx="1470.3" cy="599.6" rx="41.8" ry="191.4" transform="rotate(89.9 1470.3 599.6)"/><ellipse cx="1470.3" cy="595.2" rx="41.7" ry="191.4" transform="rotate(89.9 1470.3 595.2)"/><ellipse cx="1470.3" cy="590.7" rx="41.6" ry="191.5" transform="rotate(89.9 1470.3 590.7)"/><ellipse cx="1470.3" cy="586.3" rx="41.5" ry="191.5" transform="rotate(89.9 1470.3 586.3)"/><ellipse cx="1470.3" cy="581.8" rx="41.5" ry="191.6" transform="rotate(89.9 1470.3 581.8)"/><ellipse cx="1470.3" cy="577.4" rx="41.4" ry="191.7" transform="rotate(89.9 1470.3 577.4)"/><ellipse cx="1470.3" cy="572.9" rx="41.3" ry="191.7" transform="rotate(89.9 1470.3 572.9)"/><ellipse cx="1470.3" cy="568.4" rx="41.2" ry="191.8" transform="rotate(90 1470.3 568.4)"/><ellipse cx="1470.3" cy="564" rx="41.1" ry="191.8" transform="rotate(90 1470.3 564)"/><ellipse cx="1470.3" cy="559.5" rx="41.1" ry="191.9" transform="rotate(90 1470.3 559.5)"/><ellipse cx="1470.3" cy="555.1" rx="41" ry="192" transform="rotate(90 1470.3 555.1)"/><ellipse cx="1470.3" cy="550.6" rx="40.9" ry="192" transform="rotate(90 1470.3 550.6)"/><ellipse cx="1470.3" cy="546.1" rx="40.8" ry="192.1" transform="rotate(90 1470.3 546.1)"/><ellipse cx="1470.3" cy="541.7" rx="40.7" ry="192.1" transform="rotate(90 1470.3 541.7)"/><ellipse cx="1470.3" cy="537.2" rx="40.6" ry="192.2" transform="rotate(90 1470.3 537.2)"/><ellipse cx="1470.3" cy="532.7" rx="40.6" ry="192.2" transform="rotate(90 1470.3 532.7)"/><ellipse cx="1470.3" cy="528.2" rx="40.5" ry="192.3" transform="rotate(90 1470.3 528.2)"/><ellipse cx="1470.3" cy="523.8" rx="40.4" ry="192.4" transform="rotate(90 1470.3 523.8)"/><ellipse cx="1470.3" cy="519.3" rx="40.3" ry="192.4" transform="rotate(90 1470.3 519.3)"/><ellipse cx="1470.3" cy="514.8" rx="40.2" ry="192.5" transform="rotate(90 1470.3 514.8)"/><ellipse cx="1470.3" cy="510.3" rx="40.1" ry="192.5" transform="rotate(90 1470.3 510.3)"/><ellipse cx="1470.3" cy="505.8" rx="40.1" ry="192.6" transform="rotate(90 1470.3 505.8)"/><ellipse cx="1470.3" cy="501.3" rx="40" ry="192.7" transform="rotate(90 1470.3 501.3)"/><ellipse cx="1470.3" cy="496.8" rx="39.9" ry="192.7" transform="rotate(90 1470.3 496.8)"/><ellipse cx="1470.3" cy="492.3" rx="39.8" ry="192.8" transform="rotate(90 1470.3 492.3)"/><ellipse cx="1470.3" cy="487.8" rx="39.7" ry="192.8" transform="rotate(90 1470.3 487.8)"/><ellipse cx="1470.3" cy="483.3" rx="39.6" ry="192.9" transform="rotate(90 1470.3 483.3)"/><ellipse cx="1470.3" cy="478.8" rx="39.5" ry="193" transform="rotate(90 1470.3 478.8)"/><ellipse cx="1470.3" cy="474.3" rx="39.5" ry="193" transform="rotate(90 1470.3 474.3)"/><ellipse cx="1470.3" cy="469.8" rx="39.4" ry="193.1" transform="rotate(90 1470.3 469.8)"/><ellipse cx="1470.3" cy="465.3" rx="39.3" ry="193.1" transform="rotate(90 1470.3 465.3)"/><ellipse cx="1470.3" cy="460.8" rx="39.2" ry="193.2" transform="rotate(90 1470.3 460.8)"/><ellipse cx="1470.3" cy="456.3" rx="39.1" ry="193.3" transform="rotate(90 1470.3 456.3)"/><ellipse cx="1470.3" cy="451.8" rx="39" ry="193.3" transform="rotate(90 1470.3 451.8)"/><ellipse cx="1470.3" cy="447.3" rx="39" ry="193.4" transform="rotate(90 1470.3 447.3)"/><ellipse cx="1470.3" cy="442.7" rx="38.9" ry="193.4" transform="rotate(90 1470.3 442.7)"/><ellipse cx="1470.3" cy="438.2" rx="38.8" ry="193.5" transform="rotate(90 1470.3 438.2)"/><ellipse cx="1470.3" cy="433.7" rx="38.7" ry="193.6" transform="rotate(90 1470.3 433.7)"/><ellipse cx="1470.3" cy="429.2" rx="38.6" ry="193.6" transform="rotate(90 1470.3 429.2)"/><ellipse cx="1470.3" cy="424.6" rx="38.5" ry="193.7" transform="rotate(90 1470.3 424.6)"/><ellipse cx="1470.3" cy="420.1" rx="38.4" ry="193.7" transform="rotate(90 1470.3 420.1)"/><ellipse cx="1470.3" cy="415.6" rx="38.4" ry="193.8" transform="rotate(90 1470.3 415.6)"/><ellipse cx="1470.4" cy="411" rx="38.3" ry="193.8" transform="rotate(90 1470.4 411)"/><ellipse cx="1470.4" cy="406.5" rx="38.2" ry="193.9" transform="rotate(90 1470.4 406.5)"/><ellipse cx="1470.4" cy="402" rx="38.1" ry="194" transform="rotate(90 1470.4 402)"/><ellipse cx="1470.4" cy="397.4" rx="38" ry="194" transform="rotate(90 1470.4 397.4)"/><ellipse cx="1470.4" cy="392.9" rx="37.9" ry="194.1" transform="rotate(90 1470.4 392.9)"/><ellipse cx="1470.4" cy="388.3" rx="37.8" ry="194.1" transform="rotate(90 1470.4 388.3)"/><ellipse cx="1470.4" cy="383.8" rx="37.8" ry="194.2" transform="rotate(90 1470.4 383.8)"/><ellipse cx="1470.4" cy="379.2" rx="37.7" ry="194.3" transform="rotate(90 1470.4 379.2)"/><ellipse cx="1470.4" cy="374.7" rx="37.6" ry="194.3" transform="rotate(90 1470.4 374.7)"/><ellipse cx="1470.4" cy="370.1" rx="37.5" ry="194.4" transform="rotate(90 1470.4 370.1)"/><ellipse cx="1470.4" cy="365.6" rx="37.4" ry="194.4" transform="rotate(90 1470.4 365.6)"/><ellipse cx="1470.4" cy="361" rx="37.3" ry="194.5" transform="rotate(90 1470.4 361)"/><ellipse cx="1470.4" cy="356.4" rx="37.2" ry="194.6" transform="rotate(90 1470.4 356.4)"/><ellipse cx="1470.4" cy="351.9" rx="37.1" ry="194.6" transform="rotate(90 1470.4 351.9)"/><ellipse cx="1470.4" cy="347.3" rx="37.1" ry="194.7" transform="rotate(90 1470.4 347.3)"/><ellipse cx="1470.4" cy="342.7" rx="37" ry="194.7" transform="rotate(90 1470.4 342.7)"/><ellipse cx="1470.4" cy="338.2" rx="36.9" ry="194.8" transform="rotate(90 1470.4 338.2)"/><ellipse cx="1470.4" cy="333.6" rx="36.8" ry="194.9" transform="rotate(90 1470.4 333.6)"/><ellipse cx="1470.4" cy="329" rx="36.7" ry="194.9" transform="rotate(90 1470.4 329)"/><ellipse cx="1470.4" cy="324.4" rx="36.6" ry="195" transform="rotate(90 1470.4 324.4)"/><ellipse cx="1470.4" cy="319.9" rx="36.5" ry="195" transform="rotate(90 1470.4 319.9)"/><ellipse cx="1470.4" cy="315.3" rx="36.4" ry="195.1" transform="rotate(90 1470.4 315.3)"/><ellipse cx="1470.4" cy="310.7" rx="36.4" ry="195.2" transform="rotate(90 1470.4 310.7)"/><ellipse cx="1470.4" cy="306.1" rx="36.3" ry="195.2" transform="rotate(90 1470.4 306.1)"/><ellipse cx="1470.4" cy="301.5" rx="36.2" ry="195.3" transform="rotate(90 1470.4 301.5)"/><ellipse cx="1470.4" cy="296.9" rx="36.1" ry="195.4" transform="rotate(90 1470.4 296.9)"/><ellipse cx="1470.4" cy="292.3" rx="36" ry="195.4" transform="rotate(90 1470.4 292.3)"/><ellipse cx="1470.4" cy="287.7" rx="35.9" ry="195.5" transform="rotate(90 1470.4 287.7)"/><ellipse cx="1470.4" cy="283.1" rx="35.8" ry="195.5" transform="rotate(90 1470.4 283.1)"/><ellipse cx="1470.4" cy="278.5" rx="35.7" ry="195.6" transform="rotate(90 1470.4 278.5)"/><ellipse cx="1470.4" cy="273.9" rx="35.6" ry="195.7" transform="rotate(90 1470.4 273.9)"/><ellipse cx="1470.4" cy="269.3" rx="35.6" ry="195.7" transform="rotate(90 1470.4 269.3)"/><ellipse cx="1470.4" cy="264.7" rx="35.5" ry="195.8" transform="rotate(90 1470.4 264.7)"/><ellipse cx="1470.4" cy="260.1" rx="35.4" ry="195.8" transform="rotate(90 1470.4 260.1)"/><ellipse cx="1470.4" cy="255.5" rx="35.3" ry="195.9" transform="rotate(90 1470.4 255.5)"/><ellipse cx="1470.4" cy="250.9" rx="35.2" ry="196" transform="rotate(90 1470.4 250.9)"/><ellipse cx="1470.4" cy="246.3" rx="35.1" ry="196" transform="rotate(90 1470.4 246.3)"/><ellipse cx="1470.4" cy="241.6" rx="35" ry="196.1" transform="rotate(90 1470.4 241.6)"/><ellipse cx="1470.4" cy="237.6" rx="35.2" ry="197.4" transform="rotate(90 1470.4 237.6)"/><ellipse cx="1470.4" cy="233.7" rx="35.3" ry="198.7" transform="rotate(90 1470.4 233.7)"/><ellipse cx="1470.4" cy="229.7" rx="35.5" ry="200" transform="rotate(90 1470.4 229.7)"/><ellipse cx="1470.4" cy="225.7" rx="35.6" ry="201.4" transform="rotate(90 1470.4 225.7)"/><ellipse cx="1470.4" cy="221.7" rx="35.7" ry="202.7" transform="rotate(90 1470.4 221.7)"/><ellipse cx="1470.4" cy="217.7" rx="35.9" ry="204" transform="rotate(90 1470.4 217.7)"/><ellipse cx="1470.4" cy="213.7" rx="36" ry="205.3" transform="rotate(90 1470.4 213.7)"/><ellipse cx="1470.4" cy="209.7" rx="36.2" ry="206.7" transform="rotate(90 1470.4 209.7)"/><ellipse cx="1470.3" cy="205.7" rx="36.3" ry="208" transform="rotate(90 1470.3 205.7)"/><ellipse cx="1470.3" cy="201.7" rx="36.4" ry="209.3" transform="rotate(90 1470.3 201.7)"/><ellipse cx="1470.3" cy="197.7" rx="36.6" ry="210.6" transform="rotate(90 1470.3 197.7)"/><ellipse cx="1470.3" cy="194.8" rx="36.8" ry="212.5" transform="rotate(90.1 1470.3 194.8)"/><ellipse cx="1470.3" cy="191.9" rx="37.1" ry="214.3" transform="rotate(90.1 1470.3 191.9)"/><ellipse cx="1470.3" cy="189" rx="37.3" ry="216.2" transform="rotate(90.1 1470.3 189)"/><ellipse cx="1470.3" cy="186.9" rx="37.6" ry="218.2" transform="rotate(90.1 1470.3 186.9)"/><ellipse cx="1470.3" cy="184.7" rx="37.9" ry="220.3" transform="rotate(90.1 1470.3 184.7)"/><ellipse cx="1470.3" cy="182.6" rx="38.2" ry="222.3" transform="rotate(90.1 1470.3 182.6)"/><ellipse cx="1470.3" cy="181" rx="38.6" ry="224.5" transform="rotate(90.1 1470.3 181)"/><ellipse cx="1470.3" cy="179.5" rx="38.9" ry="226.7" transform="rotate(90.1 1470.3 179.5)"/><ellipse cx="1470.3" cy="178" rx="39.3" ry="229" transform="rotate(90.1 1470.3 178)"/><ellipse cx="1470.3" cy="177.1" rx="39.6" ry="231.3" transform="rotate(90.1 1470.3 177.1)"/><ellipse cx="1470.3" cy="176.1" rx="40" ry="233.7" transform="rotate(90.1 1470.3 176.1)"/><ellipse cx="1470.3" cy="175.2" rx="40.4" ry="236" transform="rotate(90.1 1470.3 175.2)"/><ellipse cx="1470.3" cy="174.7" rx="40.8" ry="238.5" transform="rotate(90.1 1470.3 174.7)"/><ellipse cx="1470.3" cy="174.2" rx="41.2" ry="241" transform="rotate(90.1 1470.3 174.2)"/><ellipse cx="1470.3" cy="173.7" rx="41.6" ry="243.4" transform="rotate(90.1 1470.3 173.7)"/><ellipse cx="1470.3" cy="173.6" rx="42.1" ry="245.9" transform="rotate(90.1 1470.3 173.6)"/><ellipse cx="1470.3" cy="173.6" rx="42.5" ry="248.5" transform="rotate(90.1 1470.3 173.6)"/><ellipse cx="1470.3" cy="173.5" rx="42.9" ry="251" transform="rotate(90.1 1470.3 173.5)"/><ellipse cx="1470.3" cy="173.7" rx="43.4" ry="253.6" transform="rotate(90.1 1470.3 173.7)"/><ellipse cx="1470.3" cy="173.9" rx="43.8" ry="256.1" transform="rotate(90.1 1470.3 173.9)"/><ellipse cx="1470.2" cy="174.1" rx="44.2" ry="258.7" transform="rotate(90.1 1470.2 174.1)"/><ellipse cx="1470.2" cy="174.5" rx="44.7" ry="261.2" transform="rotate(90.1 1470.2 174.5)"/><ellipse cx="1470.2" cy="174.9" rx="45.1" ry="263.8" transform="rotate(90.1 1470.2 174.9)"/><ellipse cx="1470.2" cy="175.3" rx="45.6" ry="266.3" transform="rotate(90.1 1470.2 175.3)"/><ellipse cx="1470.2" cy="175.9" rx="46" ry="268.8" transform="rotate(90.1 1470.2 175.9)"/><ellipse cx="1470.2" cy="176.5" rx="46.5" ry="271.3" transform="rotate(90.1 1470.2 176.5)"/><ellipse cx="1470.2" cy="177.1" rx="46.9" ry="273.9" transform="rotate(90.1 1470.2 177.1)"/><ellipse cx="1470.2" cy="178" rx="47.4" ry="276.3" transform="rotate(90.1 1470.2 178)"/><ellipse cx="1470.2" cy="178.8" rx="47.8" ry="278.7" transform="rotate(90.1 1470.2 178.8)"/><ellipse cx="1470.2" cy="179.7" rx="48.3" ry="281.1" transform="rotate(90.1 1470.2 179.7)"/><ellipse cx="1470.2" cy="180.9" rx="48.7" ry="283.5" transform="rotate(90.1 1470.2 180.9)"/><ellipse cx="1470.2" cy="182.2" rx="49.1" ry="285.8" transform="rotate(90.1 1470.2 182.2)"/><ellipse cx="1470.2" cy="183.4" rx="49.6" ry="288.1" transform="rotate(90.1 1470.2 183.4)"/><ellipse cx="1470.2" cy="185" rx="50" ry="290.2" transform="rotate(90.1 1470.2 185)"/><ellipse cx="1470.2" cy="186.6" rx="50.4" ry="292.4" transform="rotate(90.1 1470.2 186.6)"/><ellipse cx="1470.2" cy="188.2" rx="50.8" ry="294.6" transform="rotate(90.1 1470.2 188.2)"/><ellipse cx="1470.2" cy="190" rx="51.3" ry="296.7" transform="rotate(90.1 1470.2 190)"/><ellipse cx="1470.1" cy="191.9" rx="51.7" ry="298.7" transform="rotate(90.1 1470.1 191.9)"/><ellipse cx="1470.1" cy="193.8" rx="52.1" ry="300.8" transform="rotate(90.1 1470.1 193.8)"/><ellipse cx="1470.1" cy="195.8" rx="52.5" ry="302.8" transform="rotate(90 1470.1 195.8)"/><ellipse cx="1470.1" cy="197.8" rx="52.9" ry="304.8" transform="rotate(90 1470.1 197.8)"/><ellipse cx="1470.1" cy="199.9" rx="53.3" ry="306.8" transform="rotate(90 1470.1 199.9)"/><ellipse cx="1470.1" cy="201.9" rx="53.8" ry="308.8" transform="rotate(90 1470.1 201.9)"/><ellipse cx="1470.1" cy="204" rx="54.2" ry="310.8" transform="rotate(90 1470.1 204)"/><ellipse cx="1470.1" cy="206.1" rx="54.6" ry="312.7" transform="rotate(90 1470.1 206.1)"/><ellipse cx="1470.1" cy="208.2" rx="55" ry="314.7" transform="rotate(90 1470.1 208.2)"/><ellipse cx="1470.1" cy="210.3" rx="55.4" ry="316.7" transform="rotate(90 1470.1 210.3)"/><ellipse cx="1470.1" cy="212.3" rx="55.8" ry="318.6" transform="rotate(90 1470.1 212.3)"/><ellipse cx="1470.1" cy="214.4" rx="56.3" ry="320.6" transform="rotate(90 1470.1 214.4)"/><ellipse cx="1470.1" cy="216.4" rx="56.7" ry="322.6" transform="rotate(90 1470.1 216.4)"/><ellipse cx="1470.1" cy="218.5" rx="57.1" ry="324.5" transform="rotate(90 1470.1 218.5)"/><ellipse cx="1470.1" cy="220.6" rx="57.5" ry="326.5" transform="rotate(90 1470.1 220.6)"/><ellipse cx="1470.1" cy="222.6" rx="57.9" ry="328.4" transform="rotate(90 1470.1 222.6)"/><ellipse cx="1470.1" cy="224.7" rx="58.3" ry="330.3" transform="rotate(90 1470.1 224.7)"/><ellipse cx="1470" cy="226.8" rx="58.8" ry="332.2" transform="rotate(90 1470 226.8)"/><ellipse cx="1470" cy="229" rx="59.2" ry="334.1" transform="rotate(90 1470 229)"/><ellipse cx="1470" cy="231.1" rx="59.6" ry="336" transform="rotate(90 1470 231.1)"/><ellipse cx="1470" cy="233.3" rx="60" ry="337.8" transform="rotate(90 1470 233.3)"/><ellipse cx="1470" cy="235.6" rx="60.4" ry="339.6" transform="rotate(90 1470 235.6)"/><ellipse cx="1470" cy="237.8" rx="60.8" ry="341.4" transform="rotate(90 1470 237.8)"/><ellipse cx="1470" cy="240.1" rx="61.2" ry="343.2" transform="rotate(90 1470 240.1)"/><ellipse cx="1470" cy="242.5" rx="61.6" ry="344.9" transform="rotate(90 1470 242.5)"/><ellipse cx="1470" cy="244.8" rx="62" ry="346.7" transform="rotate(90 1470 244.8)"/><ellipse cx="1470" cy="247.3" rx="62.4" ry="348.3" transform="rotate(90 1470 247.3)"/><ellipse cx="1470" cy="249.7" rx="62.8" ry="350" transform="rotate(90 1470 249.7)"/><ellipse cx="1470" cy="252.2" rx="63.2" ry="351.6" transform="rotate(90 1470 252.2)"/><ellipse cx="1470" cy="254.8" rx="63.5" ry="353.2" transform="rotate(90 1470 254.8)"/><ellipse cx="1470" cy="257.3" rx="63.9" ry="354.7" transform="rotate(90 1470 257.3)"/><ellipse cx="1470" cy="259.9" rx="64.3" ry="356.3" transform="rotate(90 1470 259.9)"/><ellipse cx="1470" cy="262.5" rx="64.7" ry="357.7" transform="rotate(90 1470 262.5)"/><ellipse cx="1470" cy="265.2" rx="65" ry="359.2" transform="rotate(90 1470 265.2)"/><ellipse cx="1470" cy="267.8" rx="65.4" ry="360.6" transform="rotate(90 1470 267.8)"/><ellipse cx="1469.9" cy="270.5" rx="65.8" ry="362" transform="rotate(90 1469.9 270.5)"/><ellipse cx="1469.9" cy="273.3" rx="66.1" ry="363.3" transform="rotate(90 1469.9 273.3)"/><ellipse cx="1469.9" cy="276" rx="66.5" ry="364.7" transform="rotate(90 1469.9 276)"/><ellipse cx="1469.9" cy="278.8" rx="66.8" ry="365.9" transform="rotate(90 1469.9 278.8)"/><ellipse cx="1469.9" cy="281.6" rx="67.2" ry="367.2" transform="rotate(90 1469.9 281.6)"/><ellipse cx="1469.9" cy="284.4" rx="67.5" ry="368.4" transform="rotate(90 1469.9 284.4)"/><ellipse cx="1469.9" cy="287.2" rx="67.8" ry="369.6" transform="rotate(90 1469.9 287.2)"/><ellipse cx="1469.9" cy="290" rx="68.2" ry="370.8" transform="rotate(90 1469.9 290)"/><ellipse cx="1469.9" cy="292.9" rx="68.5" ry="372" transform="rotate(90 1469.9 292.9)"/><ellipse cx="1469.9" cy="295.7" rx="68.8" ry="373.2" transform="rotate(90 1469.9 295.7)"/><ellipse cx="1469.9" cy="298.6" rx="69.2" ry="374.4" transform="rotate(90 1469.9 298.6)"/><ellipse cx="1469.9" cy="301.5" rx="69.5" ry="375.5" transform="rotate(90 1469.9 301.5)"/><ellipse cx="1469.9" cy="304.3" rx="69.8" ry="376.7" transform="rotate(90 1469.9 304.3)"/><ellipse cx="1469.9" cy="307.2" rx="70.2" ry="377.8" transform="rotate(90 1469.9 307.2)"/><ellipse cx="1469.9" cy="310.1" rx="70.5" ry="379" transform="rotate(90 1469.9 310.1)"/><ellipse cx="1469.9" cy="313" rx="70.9" ry="380.2" transform="rotate(90 1469.9 313)"/><ellipse cx="1469.9" cy="315.9" rx="71.2" ry="381.4" transform="rotate(90 1469.9 315.9)"/><ellipse cx="1469.9" cy="318.8" rx="71.6" ry="382.6" transform="rotate(90 1469.9 318.8)"/><ellipse cx="1469.9" cy="321.6" rx="71.9" ry="383.8" transform="rotate(90 1469.9 321.6)"/><ellipse cx="1469.9" cy="324.5" rx="72.2" ry="385" transform="rotate(90 1469.9 324.5)"/><ellipse cx="1469.9" cy="327.4" rx="72.6" ry="386.2" transform="rotate(90 1469.9 327.4)"/><ellipse cx="1469.9" cy="330.3" rx="72.9" ry="387.3" transform="rotate(90 1469.9 330.3)"/><ellipse cx="1469.9" cy="333.2" rx="73.3" ry="388.5" transform="rotate(90 1469.9 333.2)"/><ellipse cx="1469.8" cy="336.1" rx="73.6" ry="389.6" transform="rotate(90 1469.8 336.1)"/><ellipse cx="1469.8" cy="339" rx="73.9" ry="390.7" transform="rotate(90 1469.8 339)"/><ellipse cx="1469.8" cy="341.9" rx="74.3" ry="391.8" transform="rotate(90 1469.8 341.9)"/><ellipse cx="1469.8" cy="344.8" rx="74.6" ry="392.8" transform="rotate(90 1469.8 344.8)"/><ellipse cx="1469.8" cy="347.8" rx="74.9" ry="393.8" transform="rotate(90 1469.8 347.8)"/><ellipse cx="1469.8" cy="350.8" rx="75.2" ry="394.7" transform="rotate(90 1469.8 350.8)"/><ellipse cx="1469.8" cy="353.7" rx="75.5" ry="395.7" transform="rotate(90 1469.8 353.7)"/><ellipse cx="1469.8" cy="356.8" rx="75.8" ry="396.5" transform="rotate(90 1469.8 356.8)"/><ellipse cx="1469.8" cy="359.8" rx="76.1" ry="397.2" transform="rotate(90 1469.8 359.8)"/><ellipse cx="1469.8" cy="362.8" rx="76.4" ry="398" transform="rotate(90 1469.8 362.8)"/><ellipse cx="1469.8" cy="365.9" rx="76.6" ry="398.6" transform="rotate(90 1469.8 365.9)"/><ellipse cx="1469.8" cy="369" rx="76.9" ry="399.1" transform="rotate(90 1469.8 369)"/><ellipse cx="1469.8" cy="372" rx="77.1" ry="399.7" transform="rotate(90 1469.8 372)"/><ellipse cx="1469.8" cy="375.2" rx="77.3" ry="400.1" transform="rotate(90 1469.8 375.2)"/><ellipse cx="1469.8" cy="378.3" rx="77.5" ry="400.4" transform="rotate(90 1469.8 378.3)"/><ellipse cx="1469.8" cy="381.5" rx="77.7" ry="400.8" transform="rotate(90 1469.8 381.5)"/><ellipse cx="1469.8" cy="384.7" rx="77.9" ry="401" transform="rotate(90 1469.8 384.7)"/><ellipse cx="1469.8" cy="387.9" rx="78.1" ry="401.2" transform="rotate(90 1469.8 387.9)"/><ellipse cx="1469.8" cy="391.1" rx="78.3" ry="401.4" transform="rotate(90 1469.8 391.1)"/><ellipse cx="1469.8" cy="394.3" rx="78.4" ry="401.5" transform="rotate(90 1469.8 394.3)"/><ellipse cx="1469.8" cy="397.5" rx="78.6" ry="401.6" transform="rotate(90 1469.8 397.5)"/><ellipse cx="1469.8" cy="400.8" rx="78.8" ry="401.6" transform="rotate(90 1469.8 400.8)"/><ellipse cx="1469.8" cy="404" rx="78.9" ry="401.6" transform="rotate(90 1469.8 404)"/><ellipse cx="1469.8" cy="407.3" rx="79.1" ry="401.7" transform="rotate(90 1469.8 407.3)"/><ellipse cx="1469.8" cy="410.5" rx="79.2" ry="401.7" transform="rotate(90 1469.8 410.5)"/><ellipse cx="1469.8" cy="413.8" rx="79.4" ry="401.6" transform="rotate(90 1469.8 413.8)"/><ellipse cx="1469.8" cy="417.1" rx="79.5" ry="401.6" transform="rotate(90 1469.8 417.1)"/><ellipse cx="1469.8" cy="420.3" rx="79.6" ry="401.6" transform="rotate(90 1469.8 420.3)"/><ellipse cx="1469.8" cy="423.6" rx="79.8" ry="401.6" transform="rotate(90 1469.8 423.6)"/><ellipse cx="1469.8" cy="426.9" rx="79.9" ry="401.5" transform="rotate(90 1469.8 426.9)"/><ellipse cx="1469.8" cy="430.2" rx="80.1" ry="401.5" transform="rotate(90 1469.8 430.2)"/><ellipse cx="1469.8" cy="433.4" rx="80.2" ry="401.5" transform="rotate(90 1469.8 433.4)"/><ellipse cx="1469.8" cy="436.7" rx="80.3" ry="401.5" transform="rotate(90 1469.8 436.7)"/><ellipse cx="1469.8" cy="439.9" rx="80.5" ry="401.5" transform="rotate(90 1469.8 439.9)"/><ellipse cx="1469.8" cy="443.2" rx="80.6" ry="401.5" transform="rotate(90 1469.8 443.2)"/><ellipse cx="1469.8" cy="446.4" rx="80.8" ry="401.5" transform="rotate(90 1469.8 446.4)"/><ellipse cx="1469.8" cy="449.7" rx="80.9" ry="401.4" transform="rotate(90 1469.8 449.7)"/><ellipse cx="1469.8" cy="452.9" rx="81" ry="401.4" transform="rotate(90 1469.8 452.9)"/><ellipse cx="1469.8" cy="456.1" rx="81.2" ry="401.3" transform="rotate(90 1469.8 456.1)"/><ellipse cx="1469.8" cy="459.3" rx="81.3" ry="401.2" transform="rotate(90 1469.8 459.3)"/><ellipse cx="1469.8" cy="462.5" rx="81.4" ry="401.1" transform="rotate(90 1469.8 462.5)"/><ellipse cx="1469.8" cy="465.7" rx="81.5" ry="400.9" transform="rotate(90 1469.8 465.7)"/><ellipse cx="1469.8" cy="468.9" rx="81.6" ry="400.8" transform="rotate(90 1469.8 468.9)"/><ellipse cx="1469.8" cy="472.1" rx="81.7" ry="400.6" transform="rotate(90 1469.8 472.1)"/><ellipse cx="1469.8" cy="475.3" rx="81.8" ry="400.3" transform="rotate(90 1469.8 475.3)"/><ellipse cx="1469.8" cy="478.4" rx="81.9" ry="400.1" transform="rotate(90 1469.8 478.4)"/><ellipse cx="1469.8" cy="481.5" rx="82" ry="399.7" transform="rotate(90 1469.8 481.5)"/><ellipse cx="1469.8" cy="484.7" rx="82" ry="399.3" transform="rotate(90 1469.8 484.7)"/><ellipse cx="1469.8" cy="487.8" rx="82.1" ry="399" transform="rotate(90 1469.8 487.8)"/><ellipse cx="1469.8" cy="490.9" rx="82.1" ry="398.4" transform="rotate(90 1469.8 490.9)"/><ellipse cx="1469.8" cy="493.9" rx="82.2" ry="397.9" transform="rotate(90 1469.8 493.9)"/><ellipse cx="1469.8" cy="497" rx="82.2" ry="397.4" transform="rotate(90 1469.8 497)"/><ellipse cx="1469.8" cy="500" rx="82.2" ry="396.7" transform="rotate(90 1469.8 500)"/><ellipse cx="1469.8" cy="503.1" rx="82.2" ry="396" transform="rotate(90 1469.8 503.1)"/><ellipse cx="1469.8" cy="506.1" rx="82.2" ry="395.3" transform="rotate(90 1469.8 506.1)"/><ellipse cx="1469.8" cy="509.1" rx="82.1" ry="394.4" transform="rotate(90 1469.8 509.1)"/><ellipse cx="1469.8" cy="512" rx="82.1" ry="393.6" transform="rotate(90 1469.8 512)"/><ellipse cx="1469.8" cy="515" rx="82" ry="392.7" transform="rotate(90 1469.8 515)"/><ellipse cx="1469.8" cy="518" rx="81.9" ry="391.7" transform="rotate(90 1469.8 518)"/><ellipse cx="1469.8" cy="520.9" rx="81.9" ry="390.8" transform="rotate(90 1469.8 520.9)"/><ellipse cx="1469.8" cy="523.8" rx="81.8" ry="389.8" transform="rotate(90 1469.8 523.8)"/><ellipse cx="1469.8" cy="526.7" rx="81.7" ry="388.7" transform="rotate(90 1469.8 526.7)"/><ellipse cx="1469.8" cy="529.6" rx="81.6" ry="387.6" transform="rotate(90 1469.8 529.6)"/><ellipse cx="1469.8" cy="532.5" rx="81.5" ry="386.5" transform="rotate(90 1469.8 532.5)"/><ellipse cx="1469.8" cy="535.4" rx="81.4" ry="385.4" transform="rotate(90 1469.8 535.4)"/><ellipse cx="1469.8" cy="538.3" rx="81.2" ry="384.2" transform="rotate(90 1469.8 538.3)"/><ellipse cx="1469.8" cy="541.2" rx="81.1" ry="383.1" transform="rotate(90 1469.8 541.2)"/><ellipse cx="1469.8" cy="544" rx="81" ry="381.9" transform="rotate(90 1469.8 544)"/><ellipse cx="1469.9" cy="546.9" rx="80.9" ry="380.7" transform="rotate(90 1469.9 546.9)"/><ellipse cx="1469.9" cy="549.7" rx="80.7" ry="379.5" transform="rotate(90 1469.9 549.7)"/><ellipse cx="1469.9" cy="552.6" rx="80.6" ry="378.3" transform="rotate(90 1469.9 552.6)"/><ellipse cx="1469.9" cy="555.4" rx="80.4" ry="377.1" transform="rotate(90 1469.9 555.4)"/><ellipse cx="1469.9" cy="558.2" rx="80.3" ry="375.9" transform="rotate(90 1469.9 558.2)"/><ellipse cx="1469.9" cy="561" rx="80.2" ry="374.6" transform="rotate(90 1469.9 561)"/><ellipse cx="1469.9" cy="563.8" rx="80" ry="373.4" transform="rotate(90 1469.9 563.8)"/><ellipse cx="1469.9" cy="566.6" rx="79.9" ry="372.1" transform="rotate(90 1469.9 566.6)"/><ellipse cx="1469.9" cy="569.4" rx="79.7" ry="370.8" transform="rotate(90 1469.9 569.4)"/><ellipse cx="1469.9" cy="572.1" rx="79.5" ry="369.5" transform="rotate(89.9 1469.9 572.1)"/><ellipse cx="1469.9" cy="574.8" rx="79.4" ry="368.2" transform="rotate(89.9 1469.9 574.8)"/><ellipse cx="1469.9" cy="577.5" rx="79.2" ry="366.9" transform="rotate(89.9 1469.9 577.5)"/><ellipse cx="1469.9" cy="580.2" rx="79" ry="365.5" transform="rotate(89.9 1469.9 580.2)"/><ellipse cx="1469.9" cy="582.8" rx="78.8" ry="364.1" transform="rotate(89.9 1469.9 582.8)"/><ellipse cx="1469.9" cy="585.4" rx="78.6" ry="362.7" transform="rotate(89.9 1469.9 585.4)"/><ellipse cx="1469.9" cy="588" rx="78.4" ry="361.2" transform="rotate(89.9 1469.9 588)"/><ellipse cx="1469.9" cy="590.6" rx="78.2" ry="359.8" transform="rotate(89.9 1469.9 590.6)"/><ellipse cx="1469.9" cy="593" rx="77.9" ry="358.2" transform="rotate(89.9 1469.9 593)"/><ellipse cx="1469.9" cy="595.5" rx="77.7" ry="356.7" transform="rotate(89.9 1469.9 595.5)"/><ellipse cx="1469.9" cy="597.9" rx="77.5" ry="355.1" transform="rotate(89.9 1469.9 597.9)"/><ellipse cx="1469.9" cy="600.3" rx="77.2" ry="353.5" transform="rotate(89.9 1469.9 600.3)"/><ellipse cx="1469.9" cy="602.6" rx="76.9" ry="351.8" transform="rotate(89.9 1469.9 602.6)"/><ellipse cx="1469.9" cy="604.9" rx="76.6" ry="350.2" transform="rotate(89.9 1469.9 604.9)"/><ellipse cx="1470" cy="607.1" rx="76.3" ry="348.4" transform="rotate(89.9 1470 607.1)"/><ellipse cx="1470" cy="609.3" rx="76" ry="346.6" transform="rotate(89.9 1470 609.3)"/><ellipse cx="1470" cy="611.5" rx="75.7" ry="344.8" transform="rotate(89.9 1470 611.5)"/><ellipse cx="1470" cy="613.5" rx="75.4" ry="342.9" transform="rotate(89.9 1470 613.5)"/><ellipse cx="1470" cy="615.6" rx="75" ry="341" transform="rotate(89.9 1470 615.6)"/><ellipse cx="1470" cy="617.7" rx="74.7" ry="339.1" transform="rotate(89.9 1470 617.7)"/><ellipse cx="1470" cy="619.6" rx="74.4" ry="337.2" transform="rotate(89.9 1470 619.6)"/><ellipse cx="1470" cy="621.6" rx="74" ry="335.2" transform="rotate(89.9 1470 621.6)"/><ellipse cx="1470" cy="623.6" rx="73.6" ry="333.3" transform="rotate(89.9 1470 623.6)"/><ellipse cx="1470" cy="625.5" rx="73.3" ry="331.3" transform="rotate(89.9 1470 625.5)"/><ellipse cx="1470" cy="627.5" rx="72.9" ry="329.3" transform="rotate(89.9 1470 627.5)"/><ellipse cx="1470" cy="629.4" rx="72.5" ry="327.4" transform="rotate(89.9 1470 629.4)"/><ellipse cx="1470" cy="631.5" rx="72.2" ry="325.5" transform="rotate(89.9 1470 631.5)"/><ellipse cx="1470" cy="633.5" rx="71.9" ry="323.6" transform="rotate(89.9 1470 633.5)"/><ellipse cx="1470" cy="635.6" rx="71.5" ry="321.7" transform="rotate(89.9 1470 635.6)"/><ellipse cx="1470" cy="637.9" rx="71.2" ry="320" transform="rotate(89.9 1470 637.9)"/><ellipse cx="1470" cy="640.1" rx="70.9" ry="318.4" transform="rotate(89.9 1470 640.1)"/><ellipse cx="1470" cy="642.4" rx="70.6" ry="316.7" transform="rotate(89.9 1470 642.4)"/><ellipse cx="1470" cy="645.1" rx="70.4" ry="315.3" transform="rotate(89.9 1470 645.1)"/><ellipse cx="1470" cy="647.7" rx="70.2" ry="313.9" transform="rotate(89.9 1470 647.7)"/><ellipse cx="1470.1" cy="650.4" rx="70" ry="312.6" transform="rotate(89.9 1470.1 650.4)"/><ellipse cx="1470.1" cy="652.7" rx="69.5" ry="310.2" transform="rotate(89.9 1470.1 652.7)"/><ellipse cx="1470.1" cy="655.1" rx="69.1" ry="307.8" transform="rotate(89.9 1470.1 655.1)"/><ellipse cx="1470.1" cy="657.5" rx="68.6" ry="305.3" transform="rotate(89.9 1470.1 657.5)"/><ellipse cx="1470.1" cy="657.9" rx="67.9" ry="302.1" transform="rotate(89.9 1470.1 657.9)"/><ellipse cx="1470.1" cy="658.3" rx="67.2" ry="298.9" transform="rotate(89.9 1470.1 658.3)"/><ellipse cx="1470.1" cy="658.6" rx="66.5" ry="295.6" transform="rotate(89.9 1470.1 658.6)"/><ellipse cx="1470.1" cy="659" rx="65.8" ry="292.4" transform="rotate(89.9 1470.1 659)"/><ellipse cx="1470.1" cy="659.4" rx="65.1" ry="289.1" transform="rotate(89.9 1470.1 659.4)"/><ellipse cx="1470.1" cy="659.8" rx="64.3" ry="285.9" transform="rotate(89.9 1470.1 659.8)"/><ellipse cx="1470.1" cy="660.2" rx="63.6" ry="282.7" transform="rotate(89.9 1470.1 660.2)"/><ellipse cx="1470.1" cy="660.6" rx="62.9" ry="279.4" transform="rotate(89.9 1470.1 660.6)"/><ellipse cx="1470.1" cy="661" rx="62.2" ry="276.2" transform="rotate(89.9 1470.1 661)"/><ellipse cx="1470.2" cy="661.4" rx="61.5" ry="273" transform="rotate(89.9 1470.2 661.4)"/><ellipse cx="1470.2" cy="661.8" rx="60.8" ry="269.7" transform="rotate(89.9 1470.2 661.8)"/><ellipse cx="1470.1" cy="650.4" rx="70" ry="312.6" transform="rotate(89.9 1470.1 650.4)"/><ellipse cx="1470.1" cy="654.6" rx="70.1" ry="312.5" transform="rotate(89.9 1470.1 654.6)"/><ellipse cx="1470.1" cy="658.8" rx="70.3" ry="312.4" transform="rotate(89.9 1470.1 658.8)"/><ellipse cx="1470.1" cy="663" rx="70.4" ry="312.4" transform="rotate(89.9 1470.1 663)"/><ellipse cx="1470.1" cy="667.2" rx="70.5" ry="312.3" transform="rotate(89.9 1470.1 667.2)"/><ellipse cx="1470.1" cy="671.4" rx="70.6" ry="312.2" transform="rotate(89.9 1470.1 671.4)"/></g>
<path d="M1650 621L1664 619L1655 608L1647 606L1648 585L1648 565L1648 544L1648 523L1649 503L1649 482L1649 461L1649 440L1650 419L1650 398L1650 377L1651 356L1651 335L1651 314L1651 293L1652 271L1652 250L1652 229L1657 214L1661 199L1665 184L1670 175L1676 168L1682 163L1689 160L1695 158L1702 157L1709 157L1716 158L1723 159L1730 161L1736 165L1742 169L1748 174L1753 179L1759 185L1764 191L1769 197L1774 202L1780 208L1785 214L1789 221L1794 228L1798 235L1802 242L1806 250L1809 258L1812 266L1815 274L1818 283L1822 291L1825 299L1828 307L1831 316L1833 324L1836 333L1837 342L1838 351L1839 360L1839 370L1839 379L1839 389L1839 398L1839 408L1839 418L1838 427L1838 437L1837 446L1836 455L1835 464L1833 474L1831 483L1828 491L1825 500L1822 509L1819 518L1816 526L1812 535L1809 543L1805 552L1801 560L1797 567L1792 575L1788 582L1782 588L1777 595L1772 601L1767 608L1762 615L1758 623L1752 631L1741 633L1730 636L1719 638M1758.3 623L1758 643.7M1645 618L1659 617L1650 606L1643 603L1643 583L1643 562L1643 542L1644 521L1644 500L1644 480L1644 459L1645 438L1645 417L1645 396L1645 375L1646 354L1646 333L1646 312L1646 290L1647 269L1647 248L1647 227L1651 212L1656 197L1660 182L1665 173L1671 166L1676 161L1683 158L1689 156L1696 155L1703 155L1710 156L1716 157L1723 159L1729 162L1735 166L1740 171L1745 176L1751 182L1756 188L1761 193L1766 199L1771 205L1776 211L1780 217L1785 224L1789 231L1793 239L1796 246L1799 254L1803 262L1806 270L1809 279L1812 287L1815 295L1818 303L1821 311L1823 320L1825 328L1827 337L1828 346L1828 356L1828 365L1828 375L1828 384L1828 394L1828 404L1828 413L1828 423L1828 432L1827 441L1826 451L1825 460L1823 469L1821 478L1818 487L1815 496L1812 505L1809 513L1806 522L1803 531L1799 539L1796 547L1792 555L1788 563L1783 570L1779 577L1774 584L1769 591L1763 597L1758 604L1754 611L1750 619L1744 627L1733 629L1723 632L1713 635M1750.3 619.1L1750 639.8M1639 616L1653 614L1644 603L1637 601L1637 581L1638 560L1638 539L1638 519L1638 498L1639 477L1639 457L1639 436L1639 415L1640 394L1640 373L1640 352L1640 331L1641 310L1641 288L1641 267L1641 246L1642 225L1646 210L1650 195L1654 180L1659 171L1664 164L1670 159L1676 156L1682 153L1689 153L1695 152L1702 153L1708 154L1715 156L1720 159L1726 163L1731 168L1736 174L1741 179L1746 185L1751 190L1756 196L1761 202L1766 208L1770 214L1774 221L1778 228L1782 235L1785 243L1789 251L1792 259L1795 267L1798 275L1801 283L1804 291L1806 299L1809 307L1812 316L1814 324L1815 333L1816 342L1816 352L1817 361L1817 371L1817 380L1816 390L1816 399L1816 409L1816 418L1816 428L1815 437L1814 446L1813 455L1811 464L1809 474L1807 482L1804 491L1801 500L1798 509L1795 518L1792 526L1788 535L1785 543L1781 551L1777 559L1773 566L1769 573L1764 580L1759 587L1754 593L1749 600L1745 607L1741 615L1735 623L1725 626L1715 629L1705 631M1741.2 615.2L1740.9 635.9M1633 613L1646 612L1638 601L1631 599L1631 578L1632 558L1632 537L1632 517L1632 496L1632 475L1633 454L1633 434L1633 413L1633 392L1634 371L1634 350L1634 329L1634 308L1635 287L1635 265L1635 244L1635 223L1639 208L1643 193L1647 178L1652 169L1657 162L1663 157L1668 153L1674 151L1681 150L1687 150L1693 151L1699 152L1705 154L1711 156L1716 160L1722 165L1727 171L1731 176L1736 182L1741 187L1746 193L1750 198L1755 204L1759 211L1763 217L1767 224L1770 232L1774 239L1777 247L1780 255L1782 263L1785 271L1788 279L1791 287L1794 295L1796 303L1799 312L1801 320L1802 329L1803 338L1803 347L1804 357L1804 366L1803 376L1803 386L1803 395L1803 405L1803 414L1803 423L1802 433L1801 442L1800 451L1798 460L1796 469L1794 478L1791 487L1789 496L1786 505L1783 513L1780 522L1776 531L1773 539L1770 547L1766 555L1762 562L1757 569L1753 576L1748 583L1743 589L1739 596L1735 603L1731 612L1725 619L1716 622L1706 625L1696 628M1731.2 611.6L1730.9 632.2M1626 611L1639 609L1631 599L1624 597L1625 576L1625 556L1625 535L1625 515L1625 494L1626 473L1626 452L1626 432L1626 411L1627 390L1627 369L1627 348L1627 327L1627 306L1628 285L1628 264L1628 242L1628 221L1632 206L1636 191L1640 176L1644 167L1649 160L1654 155L1660 151L1666 149L1672 148L1678 148L1684 148L1690 149L1696 151L1701 154L1706 158L1711 163L1716 168L1720 174L1725 179L1729 184L1734 190L1738 195L1743 201L1747 208L1751 214L1754 221L1758 228L1761 236L1764 244L1766 252L1769 260L1772 268L1775 276L1777 284L1780 292L1782 300L1785 308L1786 317L1788 325L1789 334L1789 344L1789 353L1789 362L1789 372L1789 382L1789 391L1789 401L1789 410L1789 419L1788 429L1787 438L1786 447L1784 456L1782 465L1780 474L1778 483L1775 492L1772 501L1769 509L1766 518L1763 527L1760 535L1757 543L1753 551L1749 558L1745 566L1741 572L1736 579L1732 586L1727 592L1723 600L1720 608L1714 616L1705 619L1696 622L1687 625M1720.1 608.1L1719.8 628.7M1619 609L1631 607L1623 596L1617 595L1617 574L1617 554L1618 533L1618 513L1618 492L1618 471L1619 450L1619 430L1619 409L1619 388L1619 367L1620 346L1620 325L1620 304L1620 283L1620 262L1621 241L1621 219L1625 204L1628 189L1632 174L1636 165L1641 158L1646 153L1651 149L1657 147L1662 146L1668 146L1674 146L1679 147L1685 149L1690 152L1695 155L1699 160L1704 165L1708 171L1713 176L1717 182L1721 187L1725 193L1730 198L1733 205L1737 211L1740 218L1744 225L1747 233L1749 241L1752 248L1755 256L1757 264L1760 272L1762 280L1765 288L1767 296L1769 304L1771 313L1772 322L1773 331L1774 340L1774 349L1774 359L1774 368L1774 378L1774 387L1774 397L1773 406L1773 415L1773 425L1772 434L1771 443L1769 452L1767 461L1765 470L1763 479L1760 488L1758 497L1755 506L1752 514L1749 523L1746 531L1743 539L1740 547L1736 555L1732 562L1728 569L1723 575L1719 582L1715 589L1711 596L1708 605L1703 613L1694 616L1685 619L1676 622M1708.1 604.7L1707.8 625.3M1611 607L1622 605L1615 594L1609 593L1609 572L1610 552L1610 531L1610 511L1610 490L1610 469L1611 449L1611 428L1611 407L1611 386L1611 365L1612 344L1612 323L1612 302L1612 281L1612 260L1613 239L1613 218L1616 203L1620 188L1623 173L1627 163L1632 156L1636 151L1641 147L1647 145L1652 144L1657 144L1663 144L1668 145L1673 147L1678 149L1683 153L1687 158L1691 163L1695 168L1700 174L1704 179L1708 184L1712 190L1715 196L1719 202L1723 208L1726 215L1729 222L1732 230L1734 237L1737 245L1739 253L1742 261L1744 269L1747 277L1749 285L1751 293L1753 301L1755 309L1756 318L1757 327L1757 336L1757 346L1757 355L1757 365L1757 374L1757 384L1757 393L1757 402L1757 412L1756 421L1755 430L1754 439L1753 449L1751 458L1749 467L1747 476L1744 484L1742 493L1739 502L1737 511L1734 519L1731 528L1728 536L1725 544L1722 551L1718 559L1714 565L1710 572L1706 579L1702 586L1698 593L1695 602L1690 610L1682 613L1673 616L1665 620M1695.2 601.6L1695 622.1M1602 605L1613 603L1606 593L1601 591L1601 570L1601 550L1601 529L1602 509L1602 488L1602 468L1602 447L1602 426L1603 405L1603 385L1603 364L1603 343L1603 322L1603 301L1604 280L1604 259L1604 237L1604 216L1607 201L1611 186L1614 171L1618 162L1622 155L1626 149L1631 146L1636 143L1641 142L1646 142L1651 142L1656 143L1661 144L1665 147L1670 151L1674 156L1678 161L1682 166L1686 171L1689 177L1693 182L1697 187L1701 193L1704 199L1707 206L1710 213L1713 220L1716 227L1718 235L1720 242L1723 250L1725 258L1727 266L1730 274L1732 282L1734 290L1736 298L1737 306L1738 315L1739 324L1739 333L1740 342L1740 352L1740 361L1740 371L1740 380L1740 390L1739 399L1739 408L1739 418L1738 427L1737 436L1736 445L1734 454L1732 463L1730 472L1728 481L1725 490L1723 499L1720 507L1718 516L1715 524L1712 533L1709 541L1706 548L1703 555L1699 562L1695 569L1691 576L1688 583L1684 590L1682 599L1677 607L1669 610L1661 614L1653 617M1681.5 598.6L1681.3 619.1M1593 604L1603 601L1597 591L1592 589L1592 569L1592 548L1592 528L1593 507L1593 487L1593 466L1593 445L1593 425L1594 404L1594 383L1594 362L1594 341L1594 320L1594 299L1595 278L1595 257L1595 236L1595 215L1598 200L1601 185L1604 170L1608 160L1611 153L1616 148L1620 144L1625 142L1629 140L1634 140L1639 140L1643 141L1648 142L1652 145L1656 149L1660 154L1664 159L1667 164L1671 169L1674 174L1678 180L1681 185L1685 191L1688 197L1691 203L1694 210L1696 217L1699 224L1701 232L1703 240L1705 247L1707 255L1710 263L1712 271L1714 279L1716 287L1718 295L1719 303L1720 312L1721 321L1721 330L1721 339L1721 349L1721 358L1721 368L1721 377L1721 386L1721 396L1721 405L1720 414L1720 424L1719 433L1717 442L1716 451L1714 460L1712 469L1710 478L1708 487L1706 496L1703 504L1701 513L1698 521L1696 530L1693 537L1690 545L1687 552L1683 559L1680 566L1676 573L1673 580L1670 587L1667 596L1663 604L1655 607L1648 611L1641 615M1667.1 595.8L1666.9 616.3M1584 602L1593 599L1587 589L1583 588L1583 567L1583 547L1583 526L1583 506L1583 485L1584 465L1584 444L1584 423L1584 402L1584 382L1584 361L1585 340L1585 319L1585 298L1585 277L1585 256L1585 235L1586 213L1588 198L1591 183L1594 168L1597 159L1601 152L1604 146L1609 143L1613 140L1617 139L1621 138L1626 138L1630 139L1634 141L1638 143L1642 147L1645 152L1649 157L1652 162L1655 167L1659 172L1662 177L1665 183L1668 188L1671 194L1674 201L1676 208L1679 215L1681 222L1683 229L1685 237L1687 245L1689 253L1691 260L1693 268L1695 276L1697 284L1698 292L1700 300L1701 309L1701 318L1702 327L1702 336L1702 346L1702 355L1702 365L1702 374L1702 384L1701 393L1701 402L1701 411L1700 421L1699 430L1698 439L1697 448L1695 457L1693 466L1691 475L1689 484L1687 493L1685 501L1683 510L1681 518L1678 527L1676 535L1673 542L1670 550L1667 557L1664 563L1660 570L1657 577L1654 585L1652 593L1648 601L1641 605L1634 609L1628 612M1651.9 593.2L1651.7 613.7M1574 600L1583 598L1577 588L1573 586L1573 566L1573 545L1573 525L1573 504L1574 484L1574 463L1574 442L1574 422L1574 401L1574 380L1575 359L1575 338L1575 318L1575 297L1575 276L1575 254L1575 233L1576 212L1578 197L1581 182L1583 167L1586 158L1589 150L1593 145L1597 141L1600 139L1604 137L1608 137L1612 137L1616 138L1620 139L1623 142L1627 145L1630 150L1633 155L1636 160L1639 165L1642 170L1645 175L1648 181L1651 186L1654 192L1656 199L1658 205L1661 212L1663 220L1665 227L1666 235L1668 243L1670 250L1672 258L1674 266L1675 274L1677 281L1678 290L1680 298L1680 307L1681 315L1681 325L1681 334L1681 343L1681 353L1681 362L1681 371L1681 381L1681 390L1681 399L1681 409L1680 418L1679 427L1678 436L1677 445L1675 454L1674 463L1672 472L1670 481L1668 490L1666 499L1665 507L1662 516L1660 524L1658 532L1655 540L1653 547L1650 554L1647 561L1644 568L1641 575L1638 582L1636 591L1632 599L1626 603L1620 607L1614 610M1636.1 590.9L1635.9 611.3M1564 599L1571 596L1567 586L1563 585L1563 564L1563 544L1563 524L1563 503L1563 482L1564 462L1564 441L1564 421L1564 400L1564 379L1564 358L1564 337L1565 316L1565 295L1565 274L1565 253L1565 232L1565 211L1567 196L1570 181L1572 166L1575 156L1578 149L1581 144L1584 140L1587 137L1591 136L1595 135L1598 135L1602 136L1605 137L1608 140L1611 144L1614 148L1617 153L1620 158L1622 163L1625 168L1628 174L1630 179L1633 184L1635 190L1638 197L1640 203L1642 210L1644 218L1645 225L1647 233L1649 240L1650 248L1652 256L1653 264L1655 271L1656 279L1658 287L1659 296L1660 304L1660 313L1660 322L1660 331L1660 341L1660 350L1660 360L1660 369L1660 378L1660 388L1660 397L1660 406L1659 415L1659 425L1658 434L1656 443L1655 452L1654 461L1652 470L1650 479L1649 487L1647 496L1645 505L1643 513L1641 522L1639 530L1637 537L1634 545L1632 552L1629 559L1626 566L1624 573L1622 580L1620 589L1616 597L1611 601L1605 605L1600 608M1619.6 588.7L1619.5 609.2M1553 598L1560 595L1556 585L1552 584L1552 563L1553 543L1553 522L1553 502L1553 481L1553 461L1553 440L1553 419L1553 399L1553 378L1554 357L1554 336L1554 315L1554 294L1554 273L1554 252L1554 231L1554 210L1556 195L1559 180L1561 165L1563 155L1565 148L1568 143L1571 139L1574 136L1577 135L1581 134L1584 134L1587 135L1590 136L1593 139L1595 142L1598 147L1600 152L1603 157L1605 162L1608 167L1610 172L1612 177L1614 183L1617 189L1619 195L1620 202L1622 209L1624 216L1625 223L1627 231L1628 238L1630 246L1631 254L1633 262L1634 269L1635 277L1636 285L1637 294L1638 302L1638 311L1639 320L1639 329L1639 339L1639 348L1639 357L1639 367L1639 376L1639 386L1638 395L1638 404L1638 413L1637 422L1636 431L1635 441L1634 450L1633 459L1631 468L1630 476L1628 485L1627 494L1625 503L1624 511L1622 520L1620 528L1618 535L1616 543L1613 550L1611 557L1609 564L1606 571L1604 578L1603 587L1600 595L1595 599L1590 603L1585 607M1602.7 586.8L1602.5 607.2M1542 597L1548 594L1544 584L1542 583L1542 562L1542 542L1542 521L1542 501L1542 480L1542 460L1542 439L1542 418L1542 398L1543 377L1543 356L1543 335L1543 314L1543 293L1543 272L1543 251L1543 230L1543 209L1545 194L1547 179L1549 164L1551 154L1553 147L1555 142L1558 138L1561 135L1563 134L1566 133L1569 133L1571 134L1574 135L1577 137L1579 141L1581 145L1583 150L1585 155L1587 161L1589 165L1592 171L1594 176L1595 181L1597 187L1599 194L1601 200L1602 207L1604 214L1605 222L1606 229L1607 237L1609 245L1610 252L1611 260L1612 268L1613 275L1614 283L1615 292L1616 300L1616 309L1616 318L1617 327L1617 337L1617 346L1616 356L1616 365L1616 374L1616 384L1616 393L1616 402L1616 411L1615 420L1614 430L1613 439L1612 448L1611 457L1610 466L1609 475L1608 483L1606 492L1605 501L1603 509L1602 518L1600 526L1598 534L1597 541L1595 548L1593 555L1590 562L1588 569L1587 577L1585 585L1583 594L1578 597L1574 601L1570 605M1585.2 585.2L1585.1 605.6M1531 596L1536 593L1533 583L1530 582L1531 561L1531 541L1531 521L1531 500L1531 480L1531 459L1531 438L1531 418L1531 397L1531 376L1531 355L1532 335L1532 314L1532 293L1532 272L1532 251L1532 230L1532 208L1534 193L1535 178L1537 163L1538 154L1540 146L1542 141L1544 137L1547 134L1549 133L1551 132L1553 132L1556 133L1558 134L1560 136L1562 140L1564 144L1566 149L1567 154L1569 159L1571 164L1573 169L1574 175L1576 180L1578 186L1579 192L1580 199L1582 206L1583 213L1584 220L1585 228L1586 235L1587 243L1588 251L1589 258L1590 266L1591 274L1592 282L1593 290L1593 299L1594 308L1594 317L1594 326L1594 335L1594 345L1594 354L1594 363L1594 373L1594 382L1594 391L1593 400L1593 410L1593 419L1592 428L1591 437L1590 446L1589 455L1588 464L1587 473L1586 482L1585 491L1584 499L1583 508L1581 516L1580 524L1579 532L1577 539L1575 547L1574 553L1572 560L1570 567L1569 575L1567 584L1565 592L1562 596L1558 600L1554 604M1567.3 583.7L1567.2 604.1M1520 595L1524 592L1521 582L1519 581L1519 561L1519 540L1519 520L1519 499L1520 479L1520 458L1520 438L1520 417L1520 396L1520 376L1520 355L1520 334L1520 313L1520 292L1520 271L1520 250L1520 229L1520 208L1522 193L1523 178L1524 162L1525 153L1527 146L1529 140L1530 136L1532 134L1534 132L1536 131L1538 131L1540 132L1542 133L1543 136L1545 139L1546 143L1548 148L1549 153L1551 158L1552 163L1553 168L1555 174L1556 179L1557 185L1559 191L1560 198L1561 205L1562 212L1563 219L1564 227L1564 234L1565 242L1566 250L1567 257L1568 265L1568 273L1569 281L1570 289L1570 297L1570 306L1571 315L1571 325L1571 334L1571 343L1571 353L1571 362L1571 371L1570 381L1570 390L1570 399L1570 408L1570 417L1569 427L1568 436L1568 445L1567 454L1566 463L1565 472L1564 480L1564 489L1563 498L1562 507L1561 515L1559 523L1558 531L1557 538L1556 545L1554 552L1553 559L1551 566L1550 574L1549 583L1547 591L1544 595L1542 599L1539 603M1549.1 582.6L1549 602.9M1508 595L1511 591L1509 582L1508 580L1508 560L1508 540L1508 519L1508 499L1508 478L1508 458L1508 437L1508 416L1508 396L1508 375L1508 354L1508 333L1508 312L1509 292L1509 271L1509 250L1509 228L1509 207L1510 192L1511 177L1512 162L1513 152L1514 145L1515 140L1516 136L1518 133L1519 131L1521 131L1522 131L1523 131L1525 132L1526 135L1527 138L1528 143L1530 148L1531 153L1532 158L1533 163L1534 168L1535 173L1536 178L1537 184L1538 190L1539 197L1540 204L1540 211L1541 218L1542 226L1542 233L1543 241L1544 249L1544 256L1545 264L1545 272L1546 280L1546 288L1547 296L1547 305L1547 314L1547 323L1547 333L1547 342L1547 352L1547 361L1547 370L1547 380L1547 389L1547 398L1547 407L1546 416L1546 425L1545 434L1545 444L1544 453L1544 462L1543 470L1542 479L1542 488L1541 497L1540 505L1539 514L1538 522L1538 530L1537 537L1536 544L1534 551L1533 558L1532 565L1531 573L1531 582L1529 590L1527 594L1525 598L1523 602M1530.6 581.6L1530.6 602M1496 594L1499 591L1497 581L1496 580L1496 560L1496 539L1496 519L1496 498L1496 478L1496 457L1496 437L1496 416L1497 395L1497 375L1497 354L1497 333L1497 312L1497 291L1497 270L1497 249L1497 228L1497 207L1497 192L1498 177L1499 161L1499 152L1500 145L1501 139L1502 135L1503 133L1504 131L1505 130L1506 130L1507 131L1508 132L1509 134L1510 138L1510 142L1511 147L1512 152L1513 157L1513 162L1514 167L1515 172L1516 178L1516 183L1517 190L1518 196L1518 203L1519 210L1519 217L1520 225L1520 233L1520 240L1521 248L1521 255L1522 263L1522 271L1522 279L1523 287L1523 296L1523 304L1523 313L1523 323L1523 332L1523 341L1523 351L1523 360L1523 369L1523 379L1523 388L1523 397L1523 406L1523 416L1522 425L1522 434L1522 443L1521 452L1521 461L1520 470L1520 479L1519 487L1519 496L1518 505L1518 513L1517 521L1517 529L1516 536L1515 544L1515 551L1514 557L1513 565L1512 572L1512 581L1511 589L1509 593L1508 597L1506 602M1511.9 581L1511.9 601.3M1485 594L1486 591L1485 581L1484 580L1484 559L1485 539L1485 519L1485 498L1485 478L1485 457L1485 436L1485 416L1485 395L1485 374L1485 354L1485 333L1485 312L1485 291L1485 270L1485 249L1485 228L1485 207L1485 192L1486 176L1486 161L1486 152L1487 144L1487 139L1488 135L1488 132L1489 131L1489 130L1490 130L1490 130L1491 132L1491 134L1492 137L1492 142L1493 147L1493 152L1494 157L1494 162L1494 167L1495 172L1495 177L1495 183L1496 189L1496 196L1496 203L1497 210L1497 217L1497 225L1497 232L1498 240L1498 247L1498 255L1498 263L1499 270L1499 278L1499 287L1499 295L1499 304L1499 313L1499 322L1499 332L1499 341L1499 350L1499 360L1499 369L1499 378L1499 387L1499 397L1499 406L1499 415L1499 424L1499 433L1498 442L1498 451L1498 460L1498 469L1497 478L1497 487L1497 496L1497 504L1496 513L1496 521L1496 528L1495 536L1495 543L1494 550L1494 557L1494 564L1493 572L1493 581L1493 589L1492 593L1491 597L1490 601M1493 580.5L1493 600.9M1473 594L1473 590L1473 581L1473 580L1473 559L1473 539L1473 518L1473 498L1473 478L1473 457L1473 436L1473 416L1473 395L1473 374L1473 353L1473 333L1473 312L1473 291L1473 270L1473 249L1473 228L1473 207L1473 191L1473 176L1473 161L1473 152L1473 144L1473 139L1473 135L1473 132L1473 131L1474 130L1474 130L1474 130L1474 131L1474 134L1474 137L1474 142L1474 147L1474 152L1474 157L1474 161L1474 166L1474 172L1474 177L1475 183L1475 189L1475 196L1475 202L1475 210L1475 217L1475 224L1475 232L1475 240L1475 247L1475 255L1475 262L1475 270L1475 278L1475 286L1475 295L1475 304L1475 313L1475 322L1475 331L1475 341L1475 350L1475 359L1475 369L1475 378L1475 387L1475 397L1475 406L1475 415L1475 424L1475 433L1475 442L1475 451L1475 460L1475 469L1475 478L1475 487L1475 495L1475 504L1475 512L1475 520L1475 528L1474 536L1474 543L1474 550L1474 557L1474 564L1474 572L1474 580L1474 589L1474 593L1474 597L1474 601M1474.1 580.4L1474.1 600.7M1461 594L1460 590L1461 581L1461 580L1461 559L1461 539L1461 519L1461 498L1461 478L1461 457L1461 436L1461 416L1461 395L1461 374L1461 354L1461 333L1461 312L1461 291L1461 270L1461 249L1461 228L1461 207L1461 191L1460 176L1460 161L1460 152L1460 144L1459 139L1459 135L1458 132L1458 131L1458 130L1457 130L1457 130L1457 131L1456 134L1456 137L1456 142L1455 147L1455 152L1455 157L1455 161L1454 166L1454 172L1454 177L1454 183L1453 189L1453 196L1453 202L1453 210L1453 217L1452 224L1452 232L1452 240L1452 247L1452 255L1452 263L1451 270L1451 278L1451 286L1451 295L1451 304L1451 313L1451 322L1451 331L1451 341L1451 350L1451 360L1451 369L1451 378L1451 387L1451 397L1451 406L1451 415L1451 424L1451 433L1452 442L1452 451L1452 460L1452 469L1452 478L1452 487L1453 496L1453 504L1453 512L1453 521L1453 528L1454 536L1454 543L1454 550L1454 557L1455 564L1455 572L1455 580L1455 589L1456 593L1457 597L1457 601M1455.1 580.5L1455.1 600.8M1449 594L1447 591L1448 581L1449 580L1449 560L1449 539L1449 519L1449 498L1449 478L1449 457L1449 437L1449 416L1449 395L1449 374L1449 354L1449 333L1449 312L1449 291L1449 270L1449 249L1449 228L1449 207L1448 192L1448 176L1447 161L1447 152L1446 145L1445 139L1444 135L1444 132L1443 131L1442 130L1441 130L1440 130L1440 132L1439 134L1438 138L1438 142L1437 147L1436 152L1436 157L1435 162L1434 167L1434 172L1433 177L1433 183L1432 189L1432 196L1431 203L1431 210L1430 217L1430 225L1430 232L1429 240L1429 248L1429 255L1428 263L1428 271L1428 279L1427 287L1427 295L1427 304L1427 313L1427 322L1427 332L1427 341L1427 351L1427 360L1427 369L1427 379L1427 388L1427 397L1427 406L1427 415L1428 424L1428 434L1428 443L1428 452L1429 461L1429 470L1430 478L1430 487L1430 496L1431 505L1431 513L1432 521L1432 529L1433 536L1433 543L1434 550L1435 557L1435 565L1436 572L1436 581L1437 589L1438 593L1440 597L1441 601M1436.2 580.8L1436.3 601.2M1437 595L1435 591L1436 582L1438 580L1438 560L1438 540L1437 519L1437 499L1437 478L1437 458L1437 437L1437 416L1437 396L1437 375L1437 354L1437 333L1437 312L1437 291L1437 270L1437 249L1437 228L1437 207L1436 192L1435 177L1434 162L1433 152L1432 145L1431 139L1430 135L1429 133L1428 131L1426 130L1425 130L1424 131L1423 132L1422 134L1420 138L1419 142L1418 147L1417 152L1416 157L1416 162L1415 167L1414 172L1413 178L1412 184L1411 190L1410 196L1410 203L1409 210L1408 218L1408 225L1407 233L1407 241L1406 248L1405 256L1405 263L1404 271L1404 279L1404 287L1403 296L1403 305L1403 314L1403 323L1403 332L1403 342L1403 351L1403 361L1403 370L1403 379L1403 388L1403 398L1403 407L1404 416L1404 425L1404 434L1405 443L1405 452L1406 461L1407 470L1407 479L1408 488L1408 497L1409 505L1410 514L1410 522L1411 529L1412 537L1413 544L1414 551L1415 558L1416 565L1417 573L1417 581L1419 590L1421 594L1423 598L1424 602M1417.4 581.4L1417.5 601.8M1426 595L1422 592L1424 582L1426 581L1426 560L1426 540L1426 520L1426 499L1426 479L1426 458L1426 437L1426 417L1426 396L1426 375L1425 354L1425 334L1425 313L1425 292L1425 271L1425 250L1425 229L1425 208L1424 192L1423 177L1422 162L1420 153L1419 145L1418 140L1416 136L1414 133L1413 132L1411 131L1409 131L1407 131L1406 133L1404 135L1403 139L1401 143L1400 148L1399 153L1398 158L1396 163L1395 168L1394 173L1392 179L1391 184L1390 191L1389 197L1388 204L1387 211L1387 219L1386 226L1385 234L1384 241L1383 249L1383 257L1382 264L1381 272L1381 280L1380 288L1380 297L1379 306L1379 315L1379 324L1379 333L1379 343L1379 352L1379 362L1379 371L1379 380L1379 389L1380 399L1380 408L1380 417L1381 426L1381 435L1382 444L1383 453L1383 462L1384 471L1385 480L1386 489L1387 498L1387 506L1388 515L1389 523L1391 530L1392 538L1393 545L1394 552L1396 559L1397 566L1398 574L1399 582L1400 591L1403 595L1406 599L1408 603M1398.8 582.3L1398.9 602.7M1414 596L1410 592L1412 583L1415 581L1415 561L1415 541L1415 520L1414 500L1414 479L1414 459L1414 438L1414 417L1414 397L1414 376L1414 355L1414 334L1414 313L1414 292L1414 271L1414 250L1413 229L1413 208L1412 193L1411 178L1409 163L1408 153L1406 146L1404 140L1402 136L1400 134L1398 132L1396 132L1393 132L1391 132L1389 133L1387 136L1386 139L1384 144L1382 149L1380 154L1379 159L1377 164L1376 169L1374 174L1372 179L1371 185L1370 192L1368 198L1367 205L1366 212L1365 220L1364 227L1363 235L1362 242L1361 250L1360 258L1359 265L1358 273L1358 281L1357 290L1356 298L1356 307L1356 316L1356 325L1356 335L1356 344L1356 353L1356 363L1356 372L1356 381L1356 391L1356 400L1357 409L1357 418L1358 427L1358 436L1359 445L1360 455L1361 463L1362 472L1363 481L1364 490L1365 499L1366 507L1367 516L1369 524L1370 532L1372 539L1373 546L1375 553L1376 560L1378 567L1379 575L1380 583L1382 592L1386 596L1389 600L1392 604M1380.5 583.4L1380.6 603.8M1403 597L1397 593L1401 584L1404 582L1404 562L1403 542L1403 521L1403 501L1403 480L1403 459L1403 439L1403 418L1403 397L1403 377L1403 356L1402 335L1402 314L1402 293L1402 272L1402 251L1402 230L1402 209L1400 194L1399 178L1397 163L1395 154L1393 147L1391 141L1388 137L1386 135L1383 133L1381 132L1378 132L1375 133L1373 134L1371 137L1369 140L1366 145L1364 150L1362 155L1360 160L1358 165L1357 170L1355 175L1353 181L1351 187L1349 193L1348 199L1346 206L1345 213L1344 221L1343 228L1342 236L1340 244L1339 251L1338 259L1337 267L1336 275L1335 283L1334 291L1334 300L1333 308L1333 317L1333 327L1333 336L1333 345L1333 355L1333 364L1333 374L1333 383L1333 392L1333 401L1334 411L1334 420L1335 429L1336 438L1337 447L1338 456L1339 465L1340 474L1341 483L1343 492L1344 500L1345 509L1347 517L1348 525L1350 533L1352 540L1354 548L1356 555L1357 561L1359 569L1361 576L1362 585L1365 593L1369 597L1373 601L1377 605M1362.4 584.8L1362.5 605.2M1392 598L1385 595L1389 585L1393 583L1393 563L1392 543L1392 522L1392 502L1392 481L1392 460L1392 440L1392 419L1392 398L1392 378L1392 357L1391 336L1391 315L1391 294L1391 273L1391 252L1391 231L1391 210L1389 194L1387 179L1385 164L1383 155L1380 148L1378 142L1375 138L1372 136L1369 134L1366 133L1363 133L1360 134L1357 135L1354 138L1352 142L1349 146L1347 151L1345 156L1342 161L1340 166L1338 171L1336 176L1334 182L1332 188L1330 194L1328 201L1326 208L1325 215L1323 222L1322 230L1320 238L1319 245L1318 253L1316 261L1315 268L1314 276L1313 284L1312 293L1311 301L1311 310L1311 319L1310 328L1310 338L1310 347L1310 357L1310 366L1310 375L1311 385L1311 394L1311 403L1311 412L1312 422L1313 431L1314 440L1315 449L1316 458L1317 467L1319 476L1320 485L1322 493L1323 502L1325 511L1326 519L1328 527L1330 535L1332 542L1334 549L1337 556L1339 563L1341 570L1343 578L1345 586L1348 595L1352 599L1357 602L1362 606M1344.8 586.4L1344.9 606.8M1381 599L1374 596L1378 586L1382 584L1382 564L1382 544L1382 523L1382 503L1381 482L1381 461L1381 441L1381 420L1381 399L1381 379L1381 358L1381 337L1380 316L1380 295L1380 274L1380 253L1380 232L1380 211L1378 195L1375 180L1373 165L1371 156L1368 149L1365 143L1362 139L1358 137L1355 135L1352 135L1348 135L1345 135L1342 137L1339 139L1336 143L1333 147L1330 152L1328 157L1325 163L1322 168L1320 173L1317 178L1315 184L1313 189L1310 196L1308 202L1306 209L1305 217L1303 224L1301 232L1300 239L1298 247L1297 255L1295 263L1294 270L1292 278L1291 286L1290 295L1289 303L1289 312L1289 321L1288 330L1288 340L1288 349L1288 359L1289 368L1289 378L1289 387L1289 396L1289 405L1290 415L1290 424L1291 433L1292 442L1294 451L1295 460L1297 469L1298 478L1300 487L1301 496L1303 504L1305 513L1307 521L1309 529L1311 537L1313 544L1316 551L1318 558L1321 565L1324 572L1326 580L1328 588L1331 597L1336 600L1341 604L1347 608M1327.6 588.2L1327.7 608.7M1371 600L1363 597L1368 587L1372 586L1372 565L1372 545L1371 524L1371 504L1371 483L1371 463L1371 442L1371 421L1371 401L1370 380L1370 359L1370 338L1370 317L1370 296L1370 275L1370 254L1369 233L1369 212L1367 196L1364 181L1362 166L1359 157L1356 150L1353 144L1349 140L1345 138L1342 136L1338 136L1334 136L1330 137L1327 138L1323 141L1320 144L1317 149L1314 154L1311 159L1308 164L1305 169L1302 174L1299 180L1297 185L1294 191L1292 198L1289 204L1287 211L1285 219L1283 226L1282 234L1280 241L1278 249L1276 257L1275 265L1273 273L1271 280L1270 289L1269 297L1268 305L1268 314L1267 323L1267 333L1267 342L1267 352L1267 361L1267 370L1267 380L1267 389L1268 399L1268 408L1268 417L1269 426L1270 435L1271 444L1273 453L1274 462L1276 471L1278 480L1280 489L1282 498L1283 507L1285 515L1288 523L1290 531L1292 539L1295 546L1298 553L1301 560L1304 567L1306 574L1309 582L1311 590L1314 599L1320 602L1326 606L1332 610M1310.9 590.3L1311 610.8M1361 602L1352 599L1357 589L1362 587L1362 567L1362 546L1361 526L1361 505L1361 485L1361 464L1361 443L1361 423L1361 402L1360 381L1360 360L1360 339L1360 318L1360 297L1360 276L1359 255L1359 234L1359 213L1356 198L1354 183L1351 167L1348 158L1345 151L1341 146L1337 142L1333 139L1329 138L1324 137L1320 137L1316 138L1312 140L1308 142L1305 146L1301 151L1298 156L1295 161L1291 166L1288 171L1285 176L1282 182L1279 187L1276 193L1274 200L1271 206L1269 213L1266 221L1264 228L1262 236L1261 244L1259 251L1257 259L1255 267L1253 275L1251 283L1250 291L1248 299L1248 308L1247 317L1247 326L1246 335L1246 345L1247 354L1247 364L1247 373L1247 382L1247 392L1247 401L1247 410L1248 420L1249 429L1250 438L1251 447L1253 456L1255 465L1256 474L1258 483L1260 492L1262 501L1264 509L1267 518L1269 526L1272 534L1274 542L1277 549L1280 556L1283 563L1287 570L1290 577L1293 584L1295 593L1299 601L1305 605L1312 608L1318 612M1294.7 592.6L1294.9 613.1M1351 603L1341 600L1348 590L1352 589L1352 568L1352 548L1352 527L1352 507L1352 486L1351 466L1351 445L1351 424L1351 403L1351 382L1351 362L1350 341L1350 320L1350 299L1350 278L1350 256L1350 235L1349 214L1346 199L1344 184L1341 169L1337 159L1333 152L1329 147L1325 143L1321 141L1316 139L1312 139L1307 139L1302 140L1298 141L1294 144L1290 148L1286 152L1283 157L1279 163L1276 168L1272 173L1269 178L1265 184L1262 189L1259 195L1256 202L1253 209L1251 216L1248 223L1246 231L1244 238L1242 246L1240 254L1238 262L1236 270L1234 277L1232 285L1230 294L1229 302L1228 311L1227 320L1227 329L1227 338L1227 348L1227 357L1227 366L1227 376L1227 385L1227 395L1227 404L1228 413L1228 423L1229 432L1230 441L1232 450L1234 459L1236 468L1238 477L1240 486L1242 495L1244 503L1246 512L1249 520L1251 529L1254 537L1257 544L1260 552L1263 559L1267 565L1270 572L1274 579L1277 587L1279 595L1284 603L1291 607L1298 610L1305 614M1279.3 595.2L1279.5 615.7M1342 605L1331 602L1338 592L1343 590L1343 570L1343 549L1343 529L1343 508L1342 488L1342 467L1342 446L1342 426L1342 405L1342 384L1341 363L1341 342L1341 321L1341 300L1341 279L1340 258L1340 237L1340 215L1337 200L1334 185L1331 170L1327 161L1323 154L1319 148L1314 145L1309 142L1304 141L1299 141L1294 141L1289 142L1285 143L1280 146L1276 150L1272 154L1268 160L1264 165L1261 170L1257 175L1253 181L1250 186L1246 192L1243 198L1240 204L1237 211L1234 218L1231 226L1229 233L1226 241L1224 249L1222 257L1220 265L1218 272L1215 280L1213 288L1211 296L1210 305L1209 314L1208 323L1208 332L1208 341L1208 351L1208 360L1208 370L1208 379L1208 388L1208 398L1208 407L1209 416L1209 426L1210 435L1212 444L1213 453L1215 462L1217 471L1219 480L1222 489L1224 498L1226 506L1229 515L1231 523L1234 532L1237 540L1240 547L1244 555L1247 562L1251 568L1255 575L1259 582L1262 589L1264 598L1269 606L1277 609L1284 613L1292 616M1264.5 597.9L1264.7 618.4M1333 607L1322 604L1329 594L1335 592L1335 572L1334 551L1334 531L1334 510L1334 489L1334 469L1333 448L1333 427L1333 406L1333 386L1333 365L1332 344L1332 323L1332 302L1332 281L1332 259L1331 238L1331 217L1328 202L1324 187L1321 172L1317 163L1313 155L1308 150L1303 146L1298 144L1293 143L1288 143L1282 143L1277 144L1272 145L1267 148L1263 152L1259 157L1254 162L1250 167L1246 172L1242 178L1238 183L1234 188L1231 194L1227 200L1224 207L1221 214L1218 221L1215 228L1212 236L1210 244L1207 252L1205 260L1203 267L1200 275L1198 283L1196 291L1194 300L1192 308L1191 317L1190 326L1190 335L1190 344L1190 354L1190 363L1190 373L1190 382L1190 392L1190 401L1190 411L1191 420L1191 429L1193 438L1194 447L1196 456L1198 465L1200 474L1202 483L1205 492L1207 501L1210 510L1212 518L1215 527L1218 535L1221 543L1225 550L1228 558L1232 565L1236 571L1240 578L1244 585L1248 592L1250 601L1255 609L1264 612L1272 616L1280 619M1250.4 600.8L1250.7 621.4M1325 609L1313 606L1321 596L1327 594L1326 574L1326 553L1326 533L1326 512L1326 491L1325 471L1325 450L1325 429L1325 408L1325 387L1324 366L1324 345L1324 324L1324 303L1324 282L1323 261L1323 240L1323 218L1319 203L1316 188L1312 173L1308 164L1304 157L1299 152L1293 148L1288 146L1282 145L1277 145L1271 145L1266 146L1260 147L1255 150L1250 154L1246 159L1241 164L1237 170L1233 175L1229 180L1224 186L1220 191L1216 197L1212 203L1209 210L1205 217L1202 224L1199 231L1197 239L1194 247L1191 255L1189 263L1186 271L1184 279L1181 287L1179 295L1177 303L1175 311L1174 320L1173 329L1173 338L1173 348L1173 357L1173 367L1173 376L1173 386L1173 395L1173 405L1173 414L1174 423L1175 433L1176 442L1177 451L1179 460L1181 469L1183 478L1186 487L1189 496L1191 505L1194 513L1197 522L1200 530L1203 538L1206 546L1210 554L1214 561L1218 568L1222 575L1226 581L1231 588L1234 596L1237 604L1242 612L1251 615L1260 618L1269 622M1237.2 604L1237.4 624.6M1317 611L1305 609L1313 598L1319 596L1319 576L1319 555L1318 535L1318 514L1318 493L1318 473L1318 452L1317 431L1317 410L1317 389L1317 368L1317 347L1316 326L1316 305L1316 284L1316 263L1315 241L1315 220L1311 205L1308 190L1304 175L1300 166L1295 159L1290 154L1284 150L1278 148L1272 147L1267 147L1261 147L1255 148L1249 150L1244 153L1239 157L1234 161L1229 167L1225 172L1220 178L1216 183L1211 188L1207 194L1203 200L1199 206L1195 213L1191 220L1188 227L1185 234L1182 242L1179 250L1177 258L1174 266L1171 274L1168 282L1166 290L1163 298L1161 306L1159 315L1158 324L1157 333L1157 342L1157 351L1157 361L1157 371L1157 380L1157 390L1157 399L1157 409L1157 418L1158 427L1159 437L1160 446L1161 455L1163 464L1166 473L1168 482L1171 491L1173 500L1176 508L1179 517L1182 526L1185 534L1189 542L1192 550L1196 557L1200 565L1204 571L1209 578L1213 585L1218 591L1222 599L1225 607L1230 615L1240 618L1249 621L1258 625M1224.8 607.3L1225.1 627.9M1310 613L1297 611L1306 600L1312 598L1312 578L1312 557L1311 537L1311 516L1311 495L1311 475L1311 454L1310 433L1310 412L1310 391L1310 370L1309 349L1309 328L1309 307L1309 286L1309 264L1308 243L1308 222L1304 207L1300 192L1296 177L1292 168L1287 161L1281 156L1275 152L1269 150L1263 149L1257 149L1251 149L1245 150L1239 152L1233 155L1228 159L1223 164L1218 169L1213 175L1208 180L1204 186L1199 191L1195 197L1190 203L1186 209L1182 216L1178 223L1175 230L1171 238L1168 245L1166 253L1163 261L1160 269L1157 277L1154 285L1151 294L1149 302L1147 310L1145 319L1143 328L1143 337L1142 346L1142 355L1142 365L1142 374L1142 384L1142 394L1142 403L1142 413L1143 422L1143 431L1144 441L1145 450L1147 459L1149 468L1151 477L1154 486L1157 495L1160 504L1162 512L1165 521L1169 529L1172 538L1175 546L1179 554L1183 561L1187 568L1192 575L1197 582L1201 588L1206 595L1210 602L1213 611L1219 619L1229 622L1238 625L1248 628M1213.3 610.8L1213.6 631.4M1304 615L1290 613L1299 603L1306 601L1306 580L1305 559L1305 539L1305 518L1305 497L1304 477L1304 456L1304 435L1304 414L1303 393L1303 372L1303 351L1303 330L1303 309L1302 288L1302 266L1302 245L1302 224L1297 209L1293 194L1289 179L1284 170L1279 163L1274 158L1268 154L1261 152L1255 151L1248 151L1242 152L1236 153L1229 155L1224 158L1218 162L1213 167L1208 172L1203 178L1198 183L1193 189L1188 194L1183 200L1179 206L1174 212L1170 219L1166 226L1163 233L1159 241L1156 249L1153 257L1150 265L1147 273L1144 281L1141 289L1138 297L1136 306L1133 314L1131 323L1130 331L1129 341L1128 350L1128 359L1128 369L1128 379L1128 388L1128 398L1128 407L1129 417L1129 426L1130 435L1130 445L1132 454L1134 463L1136 472L1138 481L1141 490L1144 499L1147 508L1150 516L1153 525L1156 534L1160 542L1163 550L1167 558L1171 565L1176 572L1180 579L1185 586L1190 592L1195 599L1199 606L1203 614L1209 622L1219 625L1229 628L1239 631M1202.8 614.4L1203.1 635.1M1298 618L1284 616L1293 605L1300 603L1300 582L1300 562L1299 541L1299 520L1299 500L1299 479L1298 458L1298 437L1298 416L1298 395L1297 374L1297 353L1297 332L1297 311L1296 290L1296 268L1296 247L1296 226L1291 211L1287 196L1283 181L1278 172L1273 165L1267 160L1260 156L1254 154L1247 154L1241 153L1234 154L1227 155L1221 157L1215 160L1209 164L1204 169L1198 175L1193 181L1188 186L1183 192L1178 197L1173 203L1168 209L1164 216L1159 222L1155 230L1151 237L1148 245L1145 253L1142 261L1139 269L1135 277L1132 285L1129 293L1126 301L1123 310L1121 318L1119 327L1118 336L1117 345L1116 354L1116 364L1116 373L1116 383L1116 392L1116 402L1116 412L1116 421L1117 430L1117 440L1118 449L1120 458L1121 467L1124 477L1126 485L1129 494L1132 503L1135 512L1138 521L1141 529L1145 538L1148 546L1152 554L1156 562L1161 569L1165 576L1170 583L1175 590L1180 596L1185 603L1190 610L1193 618L1200 626L1210 629L1220 631L1231 634M1193.3 618.2L1193.6 638.9M1293 620L1278 619L1288 608L1295 605L1295 585L1295 564L1294 543L1294 523L1294 502L1294 481L1293 460L1293 439L1293 418L1293 397L1292 376L1292 355L1292 334L1292 313L1291 292L1291 270L1291 249L1290 228L1286 213L1282 198L1277 183L1272 174L1267 167L1261 162L1254 159L1247 157L1241 156L1234 156L1227 157L1220 158L1213 160L1207 163L1201 167L1196 172L1190 178L1185 184L1179 189L1174 195L1169 201L1164 206L1159 213L1154 219L1150 226L1146 233L1142 241L1138 248L1135 256L1131 264L1128 272L1125 281L1122 289L1119 297L1116 305L1113 314L1110 322L1108 331L1107 340L1106 349L1105 358L1105 368L1105 378L1105 387L1105 397L1105 406L1105 416L1105 426L1106 435L1106 444L1107 454L1109 463L1111 472L1113 481L1115 490L1118 499L1121 508L1125 516L1128 525L1131 534L1135 542L1138 551L1142 559L1147 566L1151 574L1156 581L1161 587L1166 594L1172 600L1177 607L1181 614L1185 622L1191 630L1202 632L1213 635L1224 637M1184.8 622.1L1185.2 642.9M1289 622L1273 621L1283 610L1291 608L1290 587L1290 566L1290 546L1290 525L1289 504L1289 483L1289 462L1289 442L1288 421L1288 400L1288 378L1288 357L1287 336L1287 315L1287 294L1286 272L1286 251L1286 230L1281 215L1277 200L1272 185L1267 176L1261 169L1255 164L1249 161L1242 159L1235 158L1228 159L1220 159L1213 161L1207 163L1200 166L1194 170L1188 175L1183 181L1177 187L1172 192L1166 198L1161 204L1156 210L1151 216L1146 223L1141 230L1137 237L1133 244L1129 252L1126 260L1122 268L1119 276L1116 285L1113 293L1109 301L1106 310L1103 318L1101 327L1099 335L1097 344L1096 353L1095 363L1095 372L1095 382L1095 392L1095 401L1095 411L1095 421L1096 430L1096 440L1097 449L1098 458L1099 468L1101 477L1103 486L1106 495L1109 504L1112 512L1116 521L1119 530L1122 538L1126 547L1130 555L1134 563L1138 571L1143 578L1148 585L1153 592L1158 598L1164 604L1169 611L1174 618L1177 626L1184 634L1195 636L1206 639L1217 641M1177.4 626.1L1177.8 646.9M1285 625L1269 624L1279 613L1287 610L1287 590L1286 569L1286 548L1286 527L1286 507L1285 486L1285 465L1285 444L1285 423L1284 402L1284 381L1284 360L1284 338L1283 317L1283 296L1283 275L1282 253L1282 232L1278 217L1273 202L1268 187L1263 178L1257 172L1251 167L1244 163L1237 162L1230 161L1222 161L1215 162L1208 163L1201 165L1194 169L1188 173L1182 178L1177 184L1171 190L1165 196L1160 201L1154 207L1149 213L1144 220L1139 226L1134 233L1130 241L1126 248L1122 256L1118 264L1115 272L1112 281L1108 289L1105 297L1102 306L1098 314L1095 322L1093 331L1090 340L1089 349L1088 358L1087 367L1087 377L1087 387L1087 396L1087 406L1087 416L1087 425L1087 435L1088 444L1088 454L1089 463L1091 472L1093 482L1095 491L1098 499L1101 508L1104 517L1108 526L1111 534L1115 543L1118 551L1122 560L1126 568L1131 575L1136 583L1141 589L1146 596L1152 602L1157 608L1162 615L1167 622L1171 630L1178 638L1189 640L1201 642L1212 645M1171.2 630.2L1171.5 651.1M1282 628L1266 627L1276 615L1284 613L1284 592L1283 571L1283 551L1283 530L1283 509L1282 488L1282 467L1282 446L1282 425L1281 404L1281 383L1281 362L1280 341L1280 319L1280 298L1280 277L1279 255L1279 234L1274 219L1270 204L1265 189L1260 181L1254 174L1247 169L1240 166L1233 164L1226 164L1218 164L1211 165L1204 166L1197 168L1190 172L1184 176L1177 181L1172 187L1166 193L1160 199L1155 205L1149 211L1143 217L1138 223L1133 230L1128 237L1124 244L1120 252L1116 260L1112 268L1109 276L1105 285L1102 293L1098 301L1095 310L1092 318L1089 327L1086 335L1084 344L1082 353L1081 363L1080 372L1080 382L1080 391L1080 401L1080 411L1080 421L1080 430L1080 440L1081 449L1082 459L1083 468L1084 477L1086 486L1089 495L1092 504L1095 513L1098 522L1101 531L1105 539L1109 548L1112 556L1116 564L1120 572L1125 580L1130 587L1135 594L1140 600L1146 607L1152 613L1157 619L1162 626L1166 634L1173 642L1185 644L1196 646L1208 648M1166 634.5L1166.4 655.4M1279 630L1264 630L1274 618L1282 615L1281 595L1281 574L1281 553L1281 532L1280 512L1280 491L1280 470L1280 449L1279 428L1279 407L1279 385L1278 364L1278 343L1278 322L1278 300L1277 279L1277 257L1277 236L1272 221L1267 206L1262 192L1257 183L1251 176L1244 171L1237 168L1230 167L1223 166L1215 167L1208 167L1200 169L1193 171L1186 175L1180 179L1174 185L1168 190L1162 197L1156 202L1150 208L1145 214L1139 221L1134 227L1129 234L1124 241L1119 248L1115 256L1111 264L1107 272L1104 281L1100 289L1097 297L1093 306L1090 314L1087 323L1083 331L1081 340L1078 349L1077 358L1076 367L1075 377L1075 387L1075 396L1075 406L1075 416L1075 425L1075 435L1075 445L1076 454L1076 464L1077 473L1079 482L1081 491L1084 500L1086 509L1090 518L1093 527L1096 536L1100 544L1104 553L1108 561L1112 569L1116 577L1120 585L1125 592L1130 599L1136 605L1142 611L1148 617L1153 624L1158 631L1162 639L1169 646L1181 648L1193 650L1204 652M1162.1 638.8L1162.5 659.7M1278 633L1262 633L1272 621L1280 618L1280 597L1280 577L1279 556L1279 535L1279 514L1279 493L1278 472L1278 451L1278 430L1277 409L1277 388L1277 367L1277 345L1276 324L1276 303L1276 281L1275 260L1275 238L1270 223L1266 209L1261 194L1255 185L1249 179L1242 174L1235 171L1228 169L1221 169L1213 169L1205 170L1198 172L1191 174L1184 178L1177 182L1171 188L1165 194L1159 200L1153 206L1148 212L1142 218L1136 224L1131 231L1126 238L1121 245L1116 252L1112 260L1108 268L1104 276L1100 285L1097 293L1093 302L1090 310L1086 319L1083 327L1080 336L1077 345L1075 354L1073 363L1072 372L1071 382L1071 391L1071 401L1071 411L1071 421L1071 430L1071 440L1071 450L1072 459L1073 469L1074 478L1075 487L1077 497L1080 506L1083 514L1086 523L1089 532L1093 541L1097 549L1100 558L1104 566L1108 574L1113 582L1117 589L1122 597L1127 603L1133 610L1139 616L1145 622L1150 628L1155 635L1159 643L1167 650L1178 652L1190 654L1202 656M1159.4 643.1L1159.7 664.1M1277 636L1261 636L1271 624L1279 621L1279 600L1279 579L1279 558L1278 537L1278 517L1278 496L1277 475L1277 454L1277 432L1277 411L1276 390L1276 369L1276 348L1276 326L1275 305L1275 283L1275 262L1274 240L1270 226L1265 211L1260 196L1254 187L1248 181L1242 176L1234 173L1227 172L1219 172L1212 172L1204 173L1197 175L1189 177L1182 181L1176 186L1170 191L1164 197L1158 203L1152 209L1146 216L1140 222L1134 228L1129 235L1124 241L1119 249L1114 256L1110 264L1106 272L1102 281L1098 289L1095 298L1091 306L1088 315L1084 323L1081 332L1078 341L1075 349L1072 358L1071 368L1070 377L1069 387L1069 396L1069 406L1069 416L1069 426L1069 435L1069 445L1069 455L1070 464L1070 474L1071 483L1073 493L1075 502L1078 511L1081 520L1084 528L1087 537L1091 546L1095 554L1098 563L1102 571L1106 579L1111 587L1115 594L1120 601L1126 608L1131 614L1137 620L1143 626L1149 633L1154 639L1158 647L1165 655L1177 656L1189 658L1201 660M1157.8 647.5L1158.2 668.5M1277 638L1261 639L1271 626L1279 623L1279 603L1279 582L1279 561L1278 540L1278 519L1278 498L1277 477L1277 456L1277 435L1277 414L1276 392L1276 371L1276 350L1275 329L1275 307L1275 286L1275 264L1274 243L1270 228L1265 213L1260 199L1254 190L1248 183L1241 179L1234 176L1227 175L1219 174L1212 175L1204 176L1196 178L1189 180L1182 184L1176 189L1169 194L1163 200L1157 207L1151 213L1146 219L1140 225L1134 232L1129 238L1123 245L1118 253L1114 260L1109 268L1105 277L1102 285L1098 293L1094 302L1091 311L1087 319L1084 328L1080 337L1077 345L1074 354L1072 363L1070 373L1069 382L1068 392L1068 401L1068 411L1068 421L1068 431L1068 441L1068 450L1069 460L1069 470L1070 479L1071 489L1072 498L1075 507L1077 516L1080 525L1083 533L1087 542L1090 551L1094 559L1098 568L1102 576L1106 584L1110 592L1115 599L1120 606L1125 613L1131 619L1137 625L1143 631L1148 637L1153 644L1158 652L1165 659L1177 660L1189 662L1200 663M1157.5 651.9L1157.9 672.9M1278 641L1262 641L1272 629L1280 626L1280 605L1280 584L1279 563L1279 543L1279 522L1278 501L1278 480L1278 458L1278 437L1277 416L1277 395L1277 374L1277 352L1276 331L1276 309L1276 288L1275 266L1275 245L1270 230L1265 215L1261 201L1255 192L1249 186L1242 181L1235 178L1228 177L1220 177L1213 178L1205 179L1197 181L1190 183L1183 187L1177 192L1170 198L1164 204L1158 210L1152 216L1147 223L1141 229L1135 235L1130 242L1124 249L1119 257L1115 264L1110 272L1106 281L1102 289L1099 298L1095 306L1092 315L1088 324L1085 332L1081 341L1078 350L1075 359L1073 368L1071 377L1070 387L1069 397L1069 406L1069 416L1069 426L1069 436L1069 446L1069 455L1070 465L1070 475L1071 484L1072 494L1073 503L1076 512L1078 521L1081 530L1084 539L1088 547L1091 556L1095 564L1099 573L1103 581L1107 589L1111 597L1116 604L1121 611L1126 618L1132 624L1138 630L1144 635L1149 642L1154 648L1158 656L1166 663L1178 665L1189 666L1201 667M1158.5 656.3L1158.8 677.4M1279 644L1263 644L1274 632L1282 629L1281 608L1281 587L1281 566L1280 545L1280 524L1280 503L1280 482L1279 461L1279 440L1279 419L1279 397L1278 376L1278 355L1278 333L1277 312L1277 290L1277 269L1277 247L1272 232L1267 218L1262 203L1257 195L1251 188L1244 184L1237 181L1230 180L1222 180L1214 180L1207 182L1199 184L1192 186L1185 190L1179 195L1172 201L1166 207L1161 214L1155 220L1149 226L1143 233L1137 239L1132 246L1127 253L1122 261L1117 269L1113 277L1109 285L1105 293L1101 302L1098 311L1094 319L1091 328L1087 337L1084 346L1080 355L1078 364L1075 373L1074 382L1073 392L1072 401L1072 411L1072 421L1072 431L1072 441L1072 451L1072 460L1072 470L1073 480L1073 489L1074 499L1076 508L1078 517L1081 526L1084 535L1087 544L1090 552L1094 561L1097 569L1101 578L1105 586L1109 594L1114 602L1118 609L1123 616L1128 622L1134 628L1140 634L1146 640L1152 646L1157 653L1161 661L1168 668L1180 669L1192 670L1203 671M1160.6 660.7L1161 681.8M1282 646L1266 647L1276 635L1284 631L1284 610L1283 589L1283 569L1283 548L1282 527L1282 506L1282 484L1282 463L1281 442L1281 421L1281 400L1281 378L1280 357L1280 335L1280 314L1279 292L1279 271L1279 249L1274 235L1269 220L1265 205L1259 197L1253 191L1247 186L1240 184L1232 182L1225 182L1217 183L1210 185L1202 187L1195 189L1188 193L1182 198L1176 204L1170 211L1164 217L1158 223L1152 230L1147 236L1141 243L1136 250L1130 257L1125 265L1121 273L1117 281L1113 289L1109 298L1105 306L1102 315L1098 324L1095 333L1091 342L1088 350L1085 359L1082 368L1079 378L1078 387L1077 397L1076 406L1076 416L1076 426L1076 436L1076 446L1076 456L1076 466L1076 475L1077 485L1077 495L1079 504L1080 513L1082 522L1085 531L1088 540L1091 549L1094 557L1098 566L1101 574L1105 583L1109 591L1113 599L1117 606L1122 614L1127 621L1132 627L1138 633L1144 639L1149 644L1155 650L1160 657L1164 665L1171 672L1183 673L1195 674L1206 675M1164.1 665L1164.4 686.2M1285 649L1269 650L1279 637L1287 634L1287 613L1286 592L1286 571L1286 550L1285 529L1285 508L1285 487L1285 466L1284 445L1284 423L1284 402L1284 381L1283 359L1283 338L1283 316L1283 295L1282 273L1282 251L1277 237L1273 222L1268 208L1263 199L1257 193L1250 189L1243 186L1236 185L1229 185L1221 186L1214 187L1207 190L1199 192L1193 196L1186 202L1180 207L1174 214L1169 220L1163 227L1157 233L1151 240L1146 247L1141 254L1136 261L1131 269L1126 277L1122 285L1118 293L1114 302L1111 311L1107 319L1104 328L1100 337L1097 346L1093 355L1090 364L1087 373L1085 382L1084 392L1082 401L1082 411L1082 421L1082 431L1082 441L1082 451L1082 461L1082 471L1082 480L1082 490L1083 500L1084 509L1086 518L1088 527L1090 536L1093 545L1096 554L1100 562L1103 571L1107 579L1111 588L1114 596L1118 604L1123 611L1127 619L1132 625L1137 632L1143 638L1149 643L1154 649L1160 655L1165 662L1169 669L1176 676L1187 677L1199 678L1210 679M1168.7 669.4L1169.1 690.6M1288 652L1273 653L1283 640L1291 636L1290 615L1290 595L1290 574L1290 553L1289 532L1289 510L1289 489L1288 468L1288 447L1288 426L1288 404L1287 383L1287 361L1287 340L1287 318L1286 297L1286 275L1286 253L1281 239L1277 224L1272 210L1267 201L1261 195L1255 191L1248 188L1241 187L1234 188L1226 189L1219 190L1212 192L1205 195L1198 199L1192 205L1186 211L1180 217L1175 224L1169 230L1163 237L1158 243L1152 250L1147 257L1142 265L1137 272L1133 280L1129 289L1125 297L1121 306L1118 315L1114 324L1111 333L1107 342L1104 350L1101 359L1097 369L1095 378L1093 387L1091 397L1090 406L1089 416L1089 426L1089 436L1089 446L1089 456L1089 466L1089 476L1089 485L1090 495L1090 505L1092 514L1093 523L1095 532L1098 541L1100 550L1104 559L1107 567L1110 576L1114 584L1117 593L1121 601L1125 608L1129 616L1134 623L1139 630L1144 636L1149 642L1155 648L1160 653L1166 659L1171 666L1175 674L1182 680L1193 681L1204 682L1216 682M1174.6 673.6L1175 694.9M1293 654L1278 656L1288 643L1295 639L1295 618L1294 597L1294 576L1294 555L1294 534L1293 513L1293 492L1293 470L1293 449L1292 428L1292 406L1292 385L1292 364L1291 342L1291 320L1291 299L1291 277L1290 255L1286 241L1281 226L1277 212L1272 204L1266 197L1260 193L1253 191L1246 190L1239 190L1232 191L1225 193L1218 195L1211 198L1205 202L1199 208L1193 214L1187 220L1182 227L1176 234L1171 240L1165 247L1160 254L1155 261L1150 268L1145 276L1141 284L1137 293L1133 301L1129 310L1126 319L1123 328L1119 337L1116 346L1113 355L1109 364L1106 373L1104 382L1101 392L1100 401L1099 411L1098 421L1098 431L1098 441L1098 451L1098 460L1098 470L1098 480L1098 490L1099 500L1099 510L1100 519L1102 528L1104 537L1106 546L1109 555L1112 564L1115 572L1119 581L1122 589L1126 597L1129 605L1133 613L1137 621L1142 628L1146 635L1151 641L1157 647L1162 652L1168 658L1173 663L1178 670L1182 678L1189 684L1200 685L1211 685L1222 686M1181.7 677.8L1182.1 699.1M1298 657L1284 658L1293 645L1300 641L1300 620L1300 599L1299 578L1299 557L1299 536L1299 515L1298 494L1298 473L1298 451L1298 430L1297 409L1297 387L1297 366L1297 344L1296 323L1296 301L1296 279L1296 257L1291 243L1287 229L1283 214L1278 206L1272 200L1266 196L1260 193L1253 192L1246 193L1239 194L1232 196L1225 198L1219 201L1212 205L1206 211L1201 217L1195 223L1190 230L1185 237L1179 244L1174 250L1169 257L1164 264L1159 272L1154 280L1150 288L1146 296L1142 305L1139 314L1136 323L1132 332L1129 341L1126 350L1123 359L1120 368L1117 377L1114 387L1112 396L1110 406L1109 415L1109 425L1108 435L1108 445L1108 455L1109 465L1109 475L1109 485L1109 495L1109 505L1110 514L1111 524L1112 533L1114 542L1117 551L1119 560L1122 568L1125 577L1129 585L1132 594L1136 602L1139 610L1143 618L1147 625L1151 632L1156 639L1161 645L1166 651L1171 656L1177 662L1182 668L1186 674L1190 682L1197 688L1207 689L1218 689L1229 689M1190 681.8L1190.4 703.1M1304 659L1290 661L1299 648L1306 644L1306 623L1306 602L1305 581L1305 560L1305 538L1305 517L1304 496L1304 475L1304 453L1304 432L1303 411L1303 389L1303 368L1303 346L1302 325L1302 303L1302 281L1302 259L1298 245L1293 231L1289 216L1284 208L1279 202L1273 198L1267 195L1260 195L1254 195L1247 196L1240 198L1234 201L1227 204L1221 208L1215 213L1210 220L1205 226L1199 233L1194 240L1189 247L1184 254L1179 261L1174 268L1169 276L1165 283L1161 292L1157 300L1153 309L1150 318L1147 327L1144 336L1141 345L1137 354L1134 363L1131 372L1128 382L1126 391L1124 400L1122 410L1121 420L1121 430L1120 440L1120 450L1120 460L1121 470L1121 480L1121 490L1121 500L1121 509L1122 519L1123 528L1124 538L1126 547L1128 556L1131 564L1134 573L1137 582L1140 590L1143 598L1147 606L1150 614L1154 622L1158 630L1162 637L1166 643L1171 649L1176 655L1181 661L1186 666L1191 672L1196 678L1199 686L1206 692L1216 692L1227 693L1237 693M1199.5 685.8L1199.8 707.1M1311 661L1297 663L1306 650L1313 646L1312 625L1312 604L1312 583L1312 562L1311 541L1311 519L1311 498L1311 477L1311 456L1310 434L1310 413L1310 391L1310 370L1309 348L1309 326L1309 305L1309 283L1308 261L1304 247L1300 233L1296 218L1292 210L1286 204L1281 200L1275 198L1269 197L1262 197L1256 199L1249 201L1243 203L1237 206L1231 211L1225 216L1220 223L1215 229L1210 236L1205 243L1200 250L1195 257L1190 264L1186 271L1181 279L1177 287L1173 295L1169 304L1166 312L1162 321L1159 330L1156 340L1153 349L1150 358L1147 367L1144 376L1142 386L1139 395L1137 405L1136 414L1135 424L1134 434L1134 444L1134 454L1134 464L1134 474L1134 484L1134 494L1134 504L1135 514L1135 523L1136 533L1138 542L1139 551L1142 560L1144 569L1147 578L1150 586L1153 594L1156 603L1159 611L1163 619L1166 627L1170 634L1174 641L1178 648L1183 654L1187 659L1192 665L1197 670L1202 676L1207 682L1210 690L1216 696L1226 696L1236 696L1246 696M1210.1 689.6L1210.4 710.9M1318 664L1305 666L1313 652L1320 648L1320 627L1319 606L1319 585L1319 564L1319 543L1318 521L1318 500L1318 479L1318 458L1318 436L1317 415L1317 393L1317 372L1317 350L1316 328L1316 307L1316 285L1316 263L1312 249L1308 234L1304 220L1300 212L1295 206L1289 202L1284 200L1278 199L1272 200L1265 201L1259 203L1253 206L1247 209L1242 213L1236 219L1231 225L1226 232L1222 239L1217 246L1212 253L1207 260L1203 267L1198 274L1194 282L1190 290L1186 299L1183 307L1179 316L1176 325L1173 334L1170 343L1167 353L1165 362L1162 371L1159 380L1156 390L1154 399L1152 409L1150 418L1150 428L1149 438L1149 448L1149 458L1149 468L1149 478L1149 488L1149 498L1149 508L1150 518L1150 528L1151 537L1152 547L1154 556L1156 565L1159 573L1161 582L1164 590L1167 599L1170 607L1173 615L1176 623L1180 631L1183 638L1187 645L1191 652L1195 658L1200 663L1205 668L1210 674L1214 679L1218 686L1222 693L1228 699L1237 699L1247 699L1256 699M1221.7 693.2L1222 714.6M1326 666L1314 668L1321 654L1328 650L1327 629L1327 608L1327 587L1327 566L1327 545L1326 523L1326 502L1326 481L1326 459L1325 438L1325 417L1325 395L1325 373L1325 352L1324 330L1324 308L1324 287L1324 265L1320 251L1316 236L1313 222L1309 214L1304 208L1299 204L1293 202L1288 201L1282 202L1276 203L1270 205L1264 208L1259 211L1253 216L1248 221L1244 228L1239 235L1234 242L1230 249L1225 256L1221 263L1216 270L1212 277L1208 285L1204 293L1201 302L1197 310L1194 319L1191 328L1188 338L1186 347L1183 356L1180 365L1177 375L1175 384L1172 393L1170 403L1168 413L1167 422L1166 432L1165 442L1165 452L1165 462L1165 472L1165 482L1165 492L1165 502L1165 512L1166 522L1166 532L1167 541L1168 551L1170 560L1172 569L1174 577L1177 586L1180 594L1182 603L1185 611L1188 619L1191 627L1194 635L1198 642L1201 649L1205 655L1209 661L1214 667L1218 672L1223 677L1227 683L1231 689L1234 697L1240 703L1249 703L1258 702L1267 702M1234.4 696.7L1234.7 718.1M1334 668L1323 670L1330 656L1336 652L1336 631L1336 610L1335 589L1335 568L1335 546L1335 525L1335 504L1334 483L1334 461L1334 440L1334 418L1334 397L1333 375L1333 354L1333 332L1333 310L1333 288L1332 266L1329 252L1325 238L1322 224L1318 215L1314 210L1309 206L1304 204L1298 203L1293 204L1287 205L1282 207L1276 210L1271 214L1266 218L1261 224L1257 230L1252 237L1248 244L1244 251L1239 258L1235 266L1231 273L1227 280L1223 288L1220 296L1216 305L1213 314L1210 322L1207 332L1205 341L1202 350L1199 359L1197 369L1194 378L1192 388L1189 397L1187 407L1185 416L1184 426L1183 436L1183 446L1183 456L1183 466L1183 476L1183 486L1183 496L1183 506L1183 516L1183 526L1184 536L1185 545L1186 555L1187 564L1189 573L1192 581L1194 590L1196 598L1199 607L1202 615L1205 623L1207 631L1210 638L1214 646L1217 653L1221 659L1225 665L1229 670L1233 676L1237 681L1241 686L1245 692L1248 700L1253 706L1262 706L1271 705L1279 705M1248.2 699.9L1248.4 721.4M1343 669L1333 672L1340 658L1345 654L1345 633L1345 612L1344 591L1344 569L1344 548L1344 527L1344 506L1343 484L1343 463L1343 441L1343 420L1343 398L1343 377L1342 355L1342 333L1342 312L1342 290L1342 268L1338 254L1335 239L1332 225L1328 217L1324 211L1320 207L1315 205L1310 205L1305 206L1299 207L1294 209L1289 212L1284 216L1280 220L1275 226L1271 233L1267 240L1263 247L1259 254L1255 261L1251 268L1247 275L1243 283L1240 291L1236 299L1233 308L1230 317L1227 325L1225 335L1222 344L1220 353L1217 363L1215 372L1212 381L1210 391L1208 400L1206 410L1204 420L1203 429L1202 439L1202 449L1202 459L1202 470L1202 480L1202 490L1202 500L1202 510L1202 520L1202 530L1203 540L1203 549L1205 558L1206 567L1208 576L1210 585L1212 593L1214 602L1217 610L1219 618L1222 626L1225 634L1227 642L1230 649L1234 656L1237 662L1241 668L1245 674L1249 679L1253 684L1257 689L1260 696L1263 703L1268 709L1276 709L1284 708L1292 708M1262.8 703L1263.1 724.5M1353 671L1343 674L1349 660L1354 655L1354 634L1354 613L1354 592L1354 571L1353 550L1353 529L1353 507L1353 486L1353 464L1353 443L1352 421L1352 400L1352 378L1352 357L1352 335L1352 313L1351 291L1351 269L1348 255L1345 241L1342 227L1339 219L1335 213L1331 209L1326 207L1322 207L1317 207L1312 209L1308 211L1303 214L1298 218L1294 222L1290 228L1286 235L1282 242L1278 249L1275 256L1271 263L1267 271L1264 278L1260 286L1257 294L1254 302L1251 310L1248 319L1245 328L1243 337L1241 347L1238 356L1236 366L1234 375L1232 384L1229 394L1227 403L1225 413L1224 423L1223 433L1222 443L1222 453L1222 463L1222 473L1222 483L1222 493L1222 503L1222 513L1222 523L1222 533L1223 543L1223 552L1224 562L1226 571L1227 580L1229 588L1231 597L1234 605L1236 613L1238 622L1241 630L1243 638L1246 645L1248 652L1251 659L1255 666L1258 671L1262 677L1265 682L1269 687L1273 692L1276 698L1278 706L1283 712L1290 711L1298 711L1305 710M1278.4 705.9L1278.6 727.4M1363 673L1354 676L1360 662L1364 657L1364 636L1364 615L1364 594L1364 573L1364 551L1363 530L1363 509L1363 487L1363 466L1363 444L1363 423L1362 401L1362 380L1362 358L1362 336L1362 314L1362 293L1361 271L1359 256L1356 242L1353 228L1350 220L1347 214L1343 211L1339 209L1335 208L1330 209L1326 211L1321 213L1317 216L1313 220L1309 224L1305 230L1302 237L1298 244L1295 251L1291 258L1288 266L1284 273L1281 280L1278 288L1275 296L1272 304L1269 313L1267 322L1264 331L1262 340L1260 349L1258 359L1256 368L1254 378L1252 387L1250 397L1248 406L1246 416L1245 426L1244 436L1243 446L1243 456L1243 466L1243 476L1243 486L1243 496L1243 506L1243 516L1243 526L1243 536L1244 546L1244 556L1245 565L1246 574L1248 583L1250 591L1252 600L1254 608L1256 617L1258 625L1260 633L1262 641L1265 648L1267 655L1270 662L1273 668L1276 674L1279 680L1283 685L1286 690L1289 695L1292 701L1295 709L1299 715L1306 714L1313 713L1319 712M1294.7 708.5L1294.9 730.1M1374 674L1365 677L1371 663L1375 658L1375 637L1374 616L1374 595L1374 574L1374 553L1374 531L1374 510L1374 489L1373 467L1373 446L1373 424L1373 403L1373 381L1373 359L1373 337L1372 316L1372 294L1372 272L1370 258L1367 243L1365 229L1362 221L1359 216L1355 212L1352 210L1348 210L1344 210L1340 212L1336 215L1332 217L1328 221L1325 226L1321 232L1318 239L1315 246L1312 253L1309 260L1306 268L1303 275L1300 282L1297 290L1294 298L1291 307L1289 315L1287 324L1284 333L1282 342L1281 352L1279 361L1277 371L1275 380L1273 390L1271 399L1270 409L1268 419L1267 428L1266 438L1265 448L1265 458L1265 469L1265 479L1265 489L1265 499L1265 509L1265 519L1265 529L1265 539L1266 549L1266 558L1267 568L1268 577L1270 586L1271 594L1273 603L1275 611L1277 619L1279 628L1281 636L1283 643L1285 651L1287 658L1289 665L1292 671L1295 677L1298 682L1301 687L1304 692L1307 697L1310 704L1312 711L1316 717L1322 716L1328 715L1334 714M1311.8 710.9L1312 732.5M1384 675L1377 679L1382 664L1385 660L1385 639L1385 618L1385 596L1385 575L1385 554L1385 533L1385 511L1384 490L1384 468L1384 447L1384 425L1384 404L1384 382L1384 360L1384 339L1383 317L1383 295L1383 273L1381 259L1379 245L1377 230L1374 222L1371 217L1368 213L1365 211L1362 211L1358 212L1355 214L1351 216L1348 219L1344 223L1341 228L1338 233L1335 240L1332 247L1330 255L1327 262L1324 269L1321 277L1319 284L1316 292L1314 300L1311 308L1309 317L1307 326L1305 335L1304 345L1302 354L1300 363L1299 373L1297 383L1295 392L1294 402L1292 411L1291 421L1290 431L1289 441L1288 451L1288 461L1288 471L1288 481L1288 491L1288 502L1288 512L1288 522L1288 532L1288 542L1289 552L1289 561L1290 570L1291 579L1292 588L1293 597L1295 605L1297 614L1298 622L1300 630L1302 638L1304 646L1306 653L1308 660L1310 667L1312 673L1315 679L1317 685L1320 690L1323 694L1325 700L1328 706L1330 713L1333 719L1338 718L1344 717L1349 716M1329.6 713.1L1329.8 734.7M1396 677L1389 680L1393 666L1397 661L1396 640L1396 619L1396 597L1396 576L1396 555L1396 534L1396 512L1396 491L1396 469L1396 448L1395 426L1395 405L1395 383L1395 361L1395 340L1395 318L1395 296L1395 274L1393 260L1391 246L1389 231L1387 223L1384 218L1382 214L1379 212L1376 212L1373 213L1370 215L1367 217L1364 220L1361 224L1358 229L1355 235L1353 242L1350 249L1348 256L1346 264L1343 271L1341 278L1339 286L1336 294L1334 302L1332 310L1330 319L1329 328L1327 337L1325 346L1324 356L1322 365L1321 375L1320 385L1318 394L1317 404L1315 413L1314 423L1313 433L1313 443L1312 453L1312 463L1312 473L1312 483L1312 494L1312 504L1312 514L1312 524L1312 534L1312 544L1312 554L1313 563L1313 573L1314 582L1315 591L1317 599L1318 608L1319 616L1321 624L1322 632L1324 640L1325 648L1327 655L1329 663L1331 669L1333 676L1335 681L1337 687L1340 691L1342 696L1344 702L1346 708L1348 715L1351 721L1356 720L1361 719L1365 718M1348 715L1348.2 736.6M1407 678L1402 681L1405 667L1408 662L1408 641L1408 620L1408 598L1408 577L1408 556L1407 535L1407 513L1407 492L1407 470L1407 449L1407 427L1407 406L1407 384L1407 362L1407 340L1407 319L1406 297L1406 275L1405 261L1403 246L1402 232L1400 224L1398 219L1395 215L1393 213L1391 213L1388 214L1385 216L1383 218L1380 221L1378 225L1375 230L1373 236L1371 243L1369 250L1367 258L1365 265L1363 272L1361 280L1359 287L1357 295L1355 303L1354 312L1352 320L1350 329L1349 339L1348 348L1347 357L1345 367L1344 377L1343 386L1342 396L1340 405L1339 415L1338 425L1337 435L1337 445L1337 455L1336 465L1336 475L1336 485L1336 495L1336 506L1336 516L1336 526L1336 536L1337 546L1337 556L1337 565L1338 575L1338 584L1339 592L1340 601L1341 609L1343 618L1344 626L1345 634L1346 642L1348 650L1349 657L1351 664L1352 671L1354 677L1356 683L1358 688L1360 693L1362 698L1364 703L1366 709L1367 717L1369 722L1373 721L1378 720L1382 719M1367 716.6L1367.1 738.2M1419 678L1415 682L1418 667L1420 663L1420 641L1420 620L1420 599L1419 578L1419 557L1419 535L1419 514L1419 493L1419 471L1419 449L1419 428L1419 406L1419 385L1419 363L1419 341L1419 319L1418 297L1418 275L1417 261L1416 247L1414 233L1413 225L1411 219L1409 216L1408 214L1406 214L1403 215L1401 217L1399 219L1397 222L1395 226L1393 231L1391 237L1390 244L1388 251L1386 259L1385 266L1383 273L1381 281L1380 288L1378 296L1377 304L1375 313L1374 322L1373 331L1372 340L1371 349L1370 359L1369 368L1368 378L1367 388L1366 397L1365 407L1364 417L1363 426L1362 436L1362 446L1362 456L1361 466L1361 477L1361 487L1361 497L1361 507L1361 517L1361 528L1361 538L1362 548L1362 557L1362 567L1363 576L1363 585L1364 594L1365 603L1366 611L1367 619L1368 628L1369 636L1370 644L1371 651L1372 659L1373 666L1374 673L1376 679L1377 685L1379 690L1381 695L1382 699L1384 705L1385 711L1386 718L1388 724L1392 723L1395 722L1398 720M1386.3 717.9L1386.4 739.6M1431 679L1428 683L1430 668L1432 663L1432 642L1432 621L1431 600L1431 579L1431 557L1431 536L1431 515L1431 493L1431 472L1431 450L1431 428L1431 407L1431 385L1431 363L1431 342L1431 320L1431 298L1431 276L1430 262L1429 248L1428 233L1426 226L1425 220L1424 216L1422 215L1421 214L1419 215L1418 217L1416 220L1414 223L1413 227L1411 232L1410 238L1409 245L1407 252L1406 260L1405 267L1404 274L1402 282L1401 289L1400 297L1399 305L1398 314L1397 323L1396 332L1395 341L1394 350L1393 360L1393 369L1392 379L1391 389L1390 398L1390 408L1389 418L1388 428L1388 438L1387 447L1387 458L1387 468L1387 478L1387 488L1387 498L1387 509L1387 519L1387 529L1387 539L1387 549L1387 559L1388 568L1388 577L1388 587L1389 595L1390 604L1390 612L1391 621L1392 629L1393 637L1393 645L1394 653L1395 660L1396 667L1397 674L1398 680L1399 686L1400 691L1402 696L1403 701L1404 706L1405 712L1406 719L1408 725L1410 724L1413 722L1415 721M1406.1 719L1406.2 740.6M1443 679L1441 683L1443 669L1444 664L1444 643L1444 621L1444 600L1444 579L1444 558L1444 536L1443 515L1443 494L1443 472L1443 450L1443 429L1443 407L1443 386L1443 364L1443 342L1443 320L1443 298L1443 276L1442 262L1442 248L1441 234L1440 226L1439 220L1438 217L1437 215L1436 215L1435 216L1434 218L1433 220L1432 224L1431 227L1430 232L1429 238L1428 245L1427 253L1426 260L1425 268L1424 275L1424 282L1423 290L1422 298L1421 306L1420 315L1420 324L1419 333L1418 342L1418 351L1417 361L1417 370L1416 380L1416 390L1415 399L1415 409L1414 419L1414 429L1413 438L1413 448L1413 458L1413 469L1413 479L1413 489L1413 499L1413 509L1413 520L1413 530L1413 540L1413 550L1413 560L1413 569L1414 578L1414 587L1414 596L1415 605L1415 613L1416 622L1416 630L1417 638L1417 646L1418 653L1418 661L1419 668L1420 675L1421 681L1421 686L1422 692L1423 697L1424 701L1425 706L1426 712L1426 720L1427 725L1429 724L1431 723L1432 722M1426.1 719.7L1426.2 741.4M1456 680L1454 684L1455 669L1456 664L1456 643L1456 622L1456 600L1456 579L1456 558L1456 537L1456 515L1456 494L1456 472L1456 451L1456 429L1456 408L1456 386L1456 364L1456 342L1456 320L1456 299L1456 277L1455 262L1455 248L1454 234L1454 226L1454 221L1453 217L1452 215L1452 215L1451 216L1451 218L1450 221L1449 224L1449 228L1448 233L1448 239L1447 246L1447 253L1446 261L1446 268L1445 275L1445 283L1444 290L1444 298L1444 307L1443 315L1443 324L1442 333L1442 342L1442 352L1442 361L1441 371L1441 380L1441 390L1440 400L1440 409L1440 419L1440 429L1439 439L1439 449L1439 459L1439 469L1439 479L1439 490L1439 500L1439 510L1439 520L1439 530L1439 540L1439 550L1439 560L1439 570L1439 579L1440 588L1440 597L1440 605L1440 614L1441 622L1441 630L1441 638L1442 646L1442 654L1442 661L1443 669L1443 675L1443 681L1444 687L1444 692L1445 697L1445 702L1446 707L1446 713L1446 720L1447 726L1448 725L1449 724L1450 722M1446.3 720.2L1446.3 741.9M1468 680L1468 684L1468 669L1468 664L1468 643L1468 622L1468 601L1468 579L1468 558L1468 537L1468 515L1468 494L1468 472L1468 451L1468 429L1468 408L1468 386L1468 364L1468 342L1468 321L1468 299L1468 277L1468 263L1468 248L1468 234L1468 226L1468 221L1468 217L1468 216L1468 215L1467 216L1467 218L1467 221L1467 224L1467 228L1467 233L1467 239L1467 246L1467 253L1467 261L1467 268L1467 276L1466 283L1466 291L1466 299L1466 307L1466 315L1466 324L1466 333L1466 342L1466 352L1466 361L1466 371L1466 381L1466 390L1466 400L1466 410L1466 419L1466 429L1466 439L1466 449L1466 459L1466 469L1466 480L1466 490L1466 500L1466 510L1466 520L1466 531L1466 541L1466 551L1466 560L1466 570L1466 579L1466 588L1466 597L1466 606L1466 614L1466 622L1466 630L1466 639L1466 646L1466 654L1466 662L1466 669L1466 675L1466 682L1466 687L1466 692L1466 697L1466 702L1467 707L1467 713L1467 720L1467 726L1467 725L1467 724L1467 723M1466.6 720.4L1466.6 742M1481 680L1481 684L1481 669L1480 664L1480 643L1480 622L1480 601L1480 579L1481 558L1481 537L1481 515L1481 494L1481 472L1481 451L1481 429L1481 408L1481 386L1481 364L1481 342L1481 320L1481 299L1481 277L1481 263L1481 248L1482 234L1482 226L1482 221L1482 217L1483 216L1483 215L1484 216L1484 218L1485 221L1485 224L1485 228L1486 233L1486 239L1486 246L1487 253L1487 261L1487 268L1488 276L1488 283L1488 291L1489 299L1489 307L1489 315L1489 324L1490 333L1490 342L1490 352L1490 361L1490 371L1491 381L1491 390L1491 400L1491 410L1491 419L1492 429L1492 439L1492 449L1492 459L1492 469L1492 479L1492 490L1492 500L1492 510L1492 520L1492 530L1492 541L1492 550L1492 560L1492 570L1492 579L1492 588L1491 597L1491 605L1491 614L1491 622L1491 630L1490 638L1490 646L1490 654L1490 662L1490 669L1489 675L1489 681L1489 687L1488 692L1488 697L1488 702L1487 707L1487 713L1487 720L1487 726L1486 725L1485 724L1485 722M1487 720.3L1486.9 741.9M1493 680L1495 683L1494 669L1493 664L1493 643L1493 621L1493 600L1493 579L1493 558L1493 536L1493 515L1493 494L1493 472L1493 451L1493 429L1493 407L1493 386L1493 364L1493 342L1493 320L1493 298L1493 276L1494 262L1494 248L1495 234L1496 226L1496 221L1497 217L1498 215L1499 215L1500 216L1501 218L1502 221L1503 224L1503 228L1504 233L1505 239L1506 246L1507 253L1507 260L1508 268L1509 275L1509 283L1510 290L1511 298L1511 306L1512 315L1513 324L1513 333L1514 342L1514 351L1515 361L1515 370L1515 380L1516 390L1516 399L1517 409L1517 419L1517 429L1518 439L1518 449L1518 459L1518 469L1518 479L1518 489L1518 499L1518 510L1518 520L1518 530L1518 540L1518 550L1518 560L1518 569L1518 579L1517 588L1517 596L1517 605L1516 613L1516 622L1515 630L1515 638L1514 646L1514 654L1514 661L1513 668L1512 675L1512 681L1511 687L1510 692L1510 697L1509 701L1508 707L1508 713L1507 720L1506 726L1505 724L1503 723L1502 722M1507.2 719.8L1507.2 741.5M1505 679L1508 683L1506 668L1505 663L1505 642L1505 621L1505 600L1505 579L1505 557L1505 536L1505 515L1505 493L1505 472L1505 450L1505 429L1505 407L1505 385L1506 364L1506 342L1506 320L1506 298L1506 276L1507 262L1508 248L1508 234L1509 226L1511 220L1512 217L1513 215L1514 215L1516 216L1517 218L1519 220L1520 223L1521 227L1523 232L1524 238L1525 245L1526 252L1527 260L1528 267L1530 275L1531 282L1532 290L1533 298L1534 306L1535 314L1536 323L1536 332L1537 341L1538 351L1539 360L1539 370L1540 379L1541 389L1541 399L1542 408L1543 418L1543 428L1544 438L1544 448L1544 458L1544 468L1544 478L1544 488L1544 499L1544 509L1544 519L1544 529L1544 539L1544 549L1544 559L1544 568L1543 578L1543 587L1542 596L1542 604L1541 613L1541 621L1540 629L1539 637L1539 645L1538 653L1537 660L1536 667L1535 674L1534 680L1533 686L1532 691L1531 696L1530 701L1529 706L1528 712L1527 719L1526 725L1524 724L1521 723L1519 721M1527.3 719.1L1527.2 740.8M1517 679L1521 682L1519 668L1517 663L1517 642L1517 620L1517 599L1517 578L1517 557L1517 535L1517 514L1517 493L1517 471L1517 450L1518 428L1518 406L1518 385L1518 363L1518 341L1518 319L1518 298L1518 276L1519 262L1520 247L1522 233L1523 225L1525 220L1526 216L1528 214L1530 214L1532 215L1534 217L1536 220L1537 223L1539 227L1541 231L1543 238L1544 244L1546 252L1547 259L1549 267L1550 274L1552 281L1553 289L1555 297L1556 305L1557 313L1558 322L1559 331L1560 340L1561 350L1562 359L1563 369L1564 378L1565 388L1566 398L1567 407L1568 417L1568 427L1569 437L1569 447L1570 457L1570 467L1570 477L1570 487L1570 497L1570 508L1570 518L1570 528L1570 538L1570 548L1570 558L1569 567L1569 577L1568 586L1568 594L1567 603L1566 611L1565 620L1564 628L1563 636L1562 644L1561 652L1560 659L1559 666L1558 673L1557 679L1555 685L1554 690L1552 695L1551 700L1549 705L1548 711L1547 718L1545 724L1542 723L1539 722L1536 721M1547.1 718.1L1547 739.8M1529 678L1534 681L1531 667L1529 662L1529 641L1529 620L1529 599L1529 577L1529 556L1529 535L1529 513L1529 492L1529 471L1529 449L1529 427L1530 406L1530 384L1530 362L1530 341L1530 319L1530 297L1530 275L1532 261L1533 247L1535 233L1536 225L1538 219L1540 215L1543 214L1545 213L1547 214L1550 216L1552 219L1554 222L1557 226L1559 231L1561 237L1563 243L1565 251L1567 258L1569 266L1570 273L1572 280L1574 288L1576 296L1578 304L1579 312L1581 321L1582 330L1583 339L1585 349L1586 358L1587 368L1588 377L1589 387L1590 396L1591 406L1592 416L1593 426L1594 435L1595 445L1595 455L1595 465L1595 476L1595 486L1595 496L1595 506L1595 516L1595 527L1595 537L1595 546L1595 556L1594 566L1594 575L1593 584L1592 593L1591 601L1590 610L1589 618L1588 626L1587 634L1586 642L1584 650L1583 658L1582 665L1580 671L1579 678L1577 683L1575 689L1573 693L1571 698L1570 703L1568 709L1567 717L1564 723L1561 722L1557 721L1553 719M1566.6 716.8L1566.5 738.5M1541 677L1547 680L1543 666L1540 661L1540 640L1540 619L1540 598L1540 576L1541 555L1541 534L1541 513L1541 491L1541 470L1541 448L1541 427L1541 405L1541 383L1542 362L1542 340L1542 318L1542 296L1542 274L1544 260L1546 246L1547 232L1549 224L1552 218L1554 215L1557 213L1560 213L1562 213L1565 215L1568 218L1571 221L1574 225L1576 230L1579 236L1581 242L1584 250L1586 257L1588 264L1590 272L1593 279L1595 287L1597 294L1599 302L1601 311L1602 320L1604 329L1606 338L1607 347L1608 357L1610 366L1611 376L1613 385L1614 395L1615 404L1617 414L1618 424L1618 434L1619 444L1620 454L1620 464L1620 474L1620 484L1620 494L1620 504L1620 515L1620 525L1620 535L1620 545L1619 554L1619 564L1618 573L1617 582L1616 591L1615 600L1614 608L1613 616L1611 625L1610 633L1608 641L1607 648L1605 656L1604 663L1602 670L1600 676L1598 682L1596 687L1594 692L1591 697L1589 702L1587 708L1586 715L1583 721L1578 720L1574 719L1569 718M1585.7 715.3L1585.6 736.9M1552 676L1559 679L1555 665L1551 660L1551 639L1552 618L1552 597L1552 575L1552 554L1552 533L1552 512L1552 490L1552 469L1553 447L1553 426L1553 404L1553 382L1553 361L1553 339L1553 317L1553 295L1553 273L1556 259L1558 245L1560 231L1562 223L1565 217L1568 214L1571 212L1574 211L1577 212L1581 214L1584 217L1587 220L1591 223L1594 228L1596 234L1599 241L1602 248L1604 256L1607 263L1610 270L1612 277L1615 285L1617 293L1619 301L1622 309L1624 318L1626 327L1627 336L1629 345L1631 355L1632 364L1634 374L1635 383L1637 393L1639 402L1640 412L1641 422L1642 432L1643 442L1644 452L1644 462L1644 472L1644 482L1644 492L1644 502L1644 512L1644 523L1644 533L1644 542L1643 552L1643 562L1642 571L1641 580L1640 589L1639 597L1637 606L1636 614L1634 622L1632 631L1631 639L1629 646L1627 654L1625 661L1623 668L1621 674L1619 680L1616 685L1613 690L1611 695L1608 700L1606 706L1604 713L1601 719L1596 718L1591 717L1585 717M1604.3 713.4L1604.1 735M1563 674L1571 678L1566 663L1562 659L1562 638L1562 617L1563 595L1563 574L1563 553L1563 532L1563 510L1563 489L1563 468L1564 446L1564 425L1564 403L1564 381L1564 360L1564 338L1564 316L1565 294L1565 272L1567 258L1569 244L1572 230L1575 222L1578 216L1581 213L1584 211L1588 210L1592 211L1595 213L1599 215L1603 218L1607 222L1610 227L1613 233L1616 239L1619 247L1622 254L1625 261L1628 268L1631 276L1634 283L1637 291L1639 299L1642 307L1644 316L1646 325L1648 334L1650 343L1652 353L1654 362L1656 372L1658 381L1659 391L1661 400L1663 410L1664 420L1665 429L1666 439L1667 449L1667 459L1667 469L1667 479L1667 490L1667 500L1667 510L1667 520L1667 530L1667 540L1666 550L1666 559L1665 568L1664 578L1663 586L1661 595L1660 603L1658 612L1656 620L1654 628L1652 636L1650 644L1648 651L1646 659L1644 665L1641 672L1638 677L1636 683L1633 688L1630 693L1627 698L1624 704L1622 711L1619 717L1613 716L1607 716L1601 715M1622.3 711.3L1622.1 732.9M1574 673L1583 676L1577 662L1573 657L1573 636L1573 615L1573 594L1573 573L1573 552L1574 530L1574 509L1574 488L1574 466L1574 445L1574 423L1575 402L1575 380L1575 358L1575 337L1575 315L1575 293L1575 271L1578 257L1581 243L1583 229L1586 221L1590 215L1593 211L1597 209L1601 209L1606 210L1610 211L1614 214L1618 217L1622 220L1626 225L1630 231L1633 238L1636 245L1640 252L1643 259L1646 267L1650 274L1653 281L1656 289L1659 297L1661 305L1664 314L1666 323L1669 332L1671 341L1673 350L1675 360L1677 369L1679 379L1681 388L1683 398L1685 407L1686 417L1688 427L1688 437L1689 447L1689 457L1690 467L1690 477L1690 487L1689 497L1689 507L1689 517L1689 527L1689 537L1689 547L1688 556L1687 566L1686 575L1685 584L1683 592L1681 601L1679 609L1677 617L1675 625L1673 633L1671 641L1668 649L1666 656L1663 663L1661 669L1658 675L1654 680L1651 685L1648 690L1645 695L1642 702L1640 709L1636 715L1629 714L1622 713L1616 713M1639.6 709L1639.4 730.5M1584 671L1594 675L1588 660L1583 656L1583 635L1583 614L1583 593L1583 571L1584 550L1584 529L1584 508L1584 486L1584 465L1584 443L1585 422L1585 400L1585 379L1585 357L1585 335L1586 314L1586 292L1586 270L1589 256L1592 242L1595 227L1598 219L1602 214L1606 210L1610 208L1614 207L1619 208L1624 210L1628 212L1633 215L1637 219L1641 223L1645 229L1649 236L1653 243L1656 250L1660 257L1664 264L1667 272L1671 279L1674 287L1677 295L1680 303L1683 312L1686 320L1688 329L1690 339L1693 348L1695 357L1697 367L1699 376L1701 386L1704 395L1706 405L1707 414L1709 424L1710 434L1710 444L1711 454L1711 464L1711 474L1711 484L1711 494L1711 504L1711 514L1711 524L1710 534L1710 544L1709 553L1708 563L1707 572L1705 580L1704 589L1702 598L1699 606L1697 614L1695 622L1693 630L1690 638L1688 646L1685 653L1682 660L1679 666L1676 672L1672 677L1669 682L1665 687L1662 693L1659 699L1656 706L1652 712L1645 712L1637 711L1630 710M1656.2 706.4L1656 727.9M1594 670L1604 673L1598 659L1592 654L1593 633L1593 612L1593 591L1593 570L1593 549L1594 527L1594 506L1594 485L1594 463L1594 442L1594 421L1595 399L1595 377L1595 356L1595 334L1595 312L1596 290L1596 269L1599 254L1602 240L1605 226L1609 218L1613 212L1617 208L1622 206L1627 206L1632 206L1637 208L1642 210L1647 213L1651 217L1656 221L1660 227L1664 234L1668 241L1672 248L1676 255L1680 262L1684 269L1688 277L1691 284L1695 292L1698 300L1701 309L1704 318L1707 327L1709 336L1712 345L1714 354L1716 364L1719 373L1721 383L1723 392L1725 402L1727 411L1729 421L1730 431L1731 440L1731 450L1731 461L1731 471L1731 481L1731 491L1731 501L1731 511L1731 521L1731 531L1730 540L1730 550L1728 559L1727 568L1725 577L1723 586L1721 594L1719 603L1717 611L1714 619L1712 627L1709 635L1706 643L1703 650L1700 657L1697 663L1693 669L1690 674L1686 679L1682 685L1678 690L1675 696L1672 704L1667 710L1659 709L1652 709L1644 708M1672 703.6L1671.8 725.1M1603 668L1614 671L1607 657L1602 652L1602 631L1602 610L1602 589L1602 568L1603 547L1603 526L1603 504L1603 483L1603 462L1604 440L1604 419L1604 397L1604 376L1604 354L1605 333L1605 311L1605 289L1605 267L1608 253L1612 239L1615 224L1619 216L1623 210L1628 207L1633 205L1638 204L1644 205L1649 206L1654 208L1660 211L1665 215L1670 219L1674 225L1679 231L1683 238L1687 246L1691 253L1695 260L1700 267L1704 274L1707 282L1711 290L1715 298L1718 306L1721 315L1724 324L1727 333L1729 342L1732 351L1734 361L1737 370L1739 379L1742 389L1744 398L1746 408L1748 417L1749 427L1750 437L1750 447L1751 457L1751 467L1751 477L1750 487L1750 497L1750 507L1750 517L1750 527L1749 537L1749 546L1747 556L1746 565L1744 574L1742 582L1740 591L1737 599L1735 607L1732 616L1729 624L1727 632L1724 639L1721 646L1717 653L1714 660L1710 666L1706 671L1702 676L1697 681L1693 687L1690 693L1687 701L1682 707L1673 706L1665 706L1657 705M1686.9 700.5L1686.7 722M1612 666L1624 669L1616 655L1610 650L1610 629L1611 608L1611 587L1611 566L1611 545L1611 524L1612 503L1612 481L1612 460L1612 439L1612 417L1613 396L1613 374L1613 353L1613 331L1613 309L1614 287L1614 266L1617 251L1621 237L1625 223L1629 215L1633 209L1638 205L1644 203L1649 202L1655 203L1661 204L1666 206L1672 209L1677 213L1683 217L1687 223L1692 229L1697 236L1701 243L1706 250L1710 257L1714 264L1719 271L1723 279L1727 287L1731 295L1734 303L1737 312L1740 321L1743 330L1746 339L1749 348L1751 357L1754 367L1757 376L1759 385L1762 395L1764 404L1766 414L1767 424L1768 433L1768 443L1769 453L1769 463L1769 474L1768 484L1768 494L1768 504L1768 514L1768 523L1767 533L1766 543L1765 552L1764 561L1762 570L1759 578L1757 587L1754 595L1752 604L1749 612L1746 620L1743 628L1740 635L1737 643L1733 650L1729 656L1725 662L1721 668L1717 673L1712 678L1708 683L1704 690L1701 697L1696 703L1687 703L1678 703L1669 703M1701 697.3L1700.7 718.7M1620 664L1633 666L1624 653L1618 648L1618 627L1619 606L1619 585L1619 564L1619 543L1619 522L1620 501L1620 480L1620 458L1620 437L1621 415L1621 394L1621 372L1621 351L1621 329L1622 307L1622 286L1622 264L1626 250L1630 235L1634 221L1638 213L1643 207L1648 203L1654 201L1659 200L1665 201L1671 202L1677 204L1683 207L1689 210L1695 215L1700 220L1705 227L1709 233L1714 240L1719 247L1724 254L1728 261L1733 268L1737 276L1741 284L1745 292L1749 300L1752 309L1756 317L1759 326L1761 336L1764 345L1767 354L1770 363L1773 372L1776 382L1778 391L1780 401L1782 410L1784 420L1785 430L1785 440L1785 449L1785 460L1785 470L1785 480L1785 490L1785 500L1785 510L1785 519L1784 529L1783 538L1782 548L1780 557L1778 566L1776 574L1773 583L1770 591L1767 600L1765 608L1762 616L1758 624L1755 632L1752 639L1748 646L1744 652L1740 658L1735 664L1730 669L1726 674L1721 680L1717 686L1714 694L1708 700L1699 700L1689 700L1680 700M1714 693.9L1713.7 715.2M1627 662L1641 664L1632 650L1626 646L1626 625L1626 604L1626 583L1626 562L1627 541L1627 520L1627 499L1627 478L1628 456L1628 435L1628 413L1628 392L1629 370L1629 349L1629 327L1629 306L1629 284L1630 262L1634 248L1638 233L1642 219L1646 211L1651 205L1657 201L1663 199L1669 198L1675 198L1681 200L1688 202L1694 204L1700 208L1706 212L1711 218L1716 224L1721 231L1726 238L1731 245L1736 251L1741 258L1746 265L1750 273L1755 280L1759 288L1763 297L1766 305L1770 314L1773 323L1776 332L1779 341L1782 350L1785 360L1788 369L1791 378L1793 387L1796 397L1798 406L1799 416L1800 426L1800 435L1801 445L1801 455L1801 465L1801 475L1800 485L1800 495L1800 505L1800 515L1799 525L1798 534L1797 543L1795 553L1793 561L1791 570L1788 579L1785 587L1782 595L1779 604L1776 612L1773 620L1769 627L1765 635L1762 642L1757 648L1753 654L1748 660L1743 665L1738 671L1734 676L1729 683L1726 690L1720 697L1710 697L1700 697L1690 697M1726 690.3L1725.7 711.6M1634 659L1648 661L1639 648L1632 644L1633 623L1633 602L1633 581L1633 560L1633 539L1634 518L1634 497L1634 475L1634 454L1635 433L1635 411L1635 390L1635 369L1636 347L1636 325L1636 304L1636 282L1637 260L1641 246L1645 232L1649 217L1654 209L1659 203L1665 199L1671 197L1677 196L1684 196L1690 197L1697 199L1704 202L1710 205L1716 209L1721 215L1727 221L1732 228L1737 235L1742 242L1747 248L1752 255L1757 262L1762 269L1767 277L1771 285L1775 293L1779 302L1782 310L1786 319L1789 328L1792 337L1795 347L1798 356L1801 365L1804 374L1807 383L1809 393L1811 402L1813 412L1814 421L1814 431L1815 441L1815 451L1815 461L1814 471L1814 481L1814 491L1814 501L1814 511L1813 520L1812 530L1811 539L1809 548L1807 557L1804 566L1801 574L1798 583L1795 591L1792 599L1789 608L1785 616L1782 623L1778 631L1774 638L1770 644L1765 650L1760 656L1755 661L1750 667L1745 672L1741 679L1737 686L1731 693L1720 693L1710 693L1700 693M1737 686.5L1736.7 707.8M1640 657L1655 659L1646 646L1638 642L1639 621L1639 600L1639 579L1639 558L1640 537L1640 516L1640 495L1640 473L1641 452L1641 431L1641 409L1641 388L1642 366L1642 345L1642 323L1642 302L1643 280L1643 258L1647 244L1652 230L1656 215L1661 207L1666 201L1672 197L1678 194L1685 194L1692 194L1699 195L1705 197L1712 199L1719 202L1725 207L1731 212L1736 218L1742 225L1747 232L1752 238L1758 245L1763 252L1768 259L1773 266L1777 274L1782 282L1786 290L1790 298L1794 307L1797 316L1800 324L1803 334L1807 343L1810 352L1813 361L1816 370L1819 379L1822 388L1824 398L1825 407L1826 417L1827 427L1827 437L1827 447L1827 457L1827 467L1827 477L1827 487L1827 496L1826 506L1826 516L1825 525L1823 534L1821 543L1819 552L1816 561L1813 570L1810 578L1807 587L1804 595L1800 603L1797 611L1793 619L1789 626L1785 633L1781 640L1776 646L1771 652L1765 657L1760 663L1755 668L1750 675L1747 683L1740 689L1730 689L1719 690L1708 690M1746.8 682.6L1746.5 703.9M1646 655L1661 656L1651 643L1644 639L1644 618L1644 598L1645 577L1645 556L1645 535L1645 513L1646 492L1646 471L1646 450L1646 429L1647 407L1647 386L1647 364L1647 343L1648 321L1648 300L1648 278L1648 256L1653 242L1657 228L1662 213L1667 205L1672 199L1679 195L1685 192L1692 191L1699 191L1706 193L1713 194L1720 197L1727 200L1733 204L1739 209L1745 215L1750 222L1756 229L1761 235L1767 242L1772 249L1777 255L1782 263L1787 270L1792 278L1796 286L1800 294L1804 303L1807 312L1811 321L1814 330L1817 339L1820 348L1824 357L1827 366L1830 375L1833 384L1835 393L1836 403L1837 413L1838 422L1838 432L1838 442L1838 452L1838 462L1838 472L1838 482L1838 492L1837 501L1837 511L1836 520L1834 530L1832 539L1830 548L1827 556L1824 565L1821 573L1818 582L1814 590L1811 598L1807 606L1803 614L1799 622L1795 629L1790 636L1785 642L1780 648L1775 653L1769 659L1764 664L1759 671L1756 679L1749 685L1738 686L1727 686L1716 686M1755.5 678.6L1755.2 699.8M1651 652L1666 654L1656 641L1649 637L1649 616L1649 595L1649 574L1650 553L1650 532L1650 511L1650 490L1651 469L1651 448L1651 426L1651 405L1652 384L1652 362L1652 341L1652 319L1653 298L1653 276L1653 254L1658 240L1662 225L1667 211L1672 203L1678 196L1684 192L1691 190L1698 189L1705 189L1712 190L1719 192L1726 194L1733 197L1740 201L1746 206L1752 212L1758 219L1763 225L1769 232L1774 239L1780 245L1785 252L1790 259L1795 266L1800 274L1804 282L1809 290L1812 299L1816 308L1819 316L1823 325L1826 334L1829 343L1833 352L1836 361L1839 370L1842 379L1844 389L1846 398L1847 408L1847 418L1848 427L1848 437L1847 447L1847 457L1847 467L1847 477L1847 487L1847 497L1846 506L1845 516L1843 525L1841 534L1839 543L1836 551L1833 560L1830 569L1827 577L1823 585L1819 594L1816 602L1812 610L1808 617L1803 624L1799 631L1794 637L1788 643L1783 649L1777 654L1772 660L1767 667L1763 674L1756 681L1745 682L1734 682L1723 683M1763 674.4L1762.7 695.6M1655 650L1670 651L1660 638L1653 634L1653 613L1653 593L1653 572L1654 551L1654 530L1654 509L1654 488L1655 466L1655 445L1655 424L1655 403L1656 381L1656 360L1656 339L1657 317L1657 296L1657 274L1657 252L1662 238L1667 223L1671 209L1677 200L1683 194L1689 190L1696 187L1703 186L1710 186L1717 187L1725 189L1732 191L1739 194L1746 198L1752 203L1758 209L1764 216L1770 222L1775 229L1781 235L1787 242L1792 248L1797 255L1802 263L1807 270L1812 278L1816 287L1820 295L1823 304L1827 312L1830 321L1834 330L1837 339L1840 348L1844 357L1847 366L1850 375L1852 384L1854 394L1855 403L1855 413L1855 423L1855 433L1855 443L1855 452L1855 462L1855 472L1855 482L1855 492L1854 501L1853 511L1851 520L1849 529L1847 538L1844 547L1841 555L1837 564L1834 572L1831 581L1827 589L1823 597L1819 605L1815 612L1810 620L1806 626L1800 633L1795 639L1789 644L1784 650L1778 656L1773 662L1769 670L1762 677L1751 678L1739 678L1728 679M1769.3 670.2L1769 691.4M1658 647L1674 648L1664 635L1656 632L1656 611L1656 590L1657 569L1657 548L1657 527L1657 506L1658 485L1658 464L1658 443L1659 422L1659 400L1659 379L1659 358L1660 336L1660 315L1660 293L1660 272L1661 250L1665 236L1670 221L1675 207L1680 198L1686 192L1693 188L1700 185L1707 184L1714 184L1722 185L1729 186L1737 188L1744 191L1751 195L1757 200L1763 206L1769 212L1775 219L1780 225L1786 232L1792 238L1797 245L1803 252L1808 259L1813 266L1817 274L1822 283L1826 291L1829 299L1833 308L1836 317L1840 326L1843 335L1847 343L1850 352L1853 361L1856 370L1858 379L1860 389L1861 398L1862 408L1862 418L1862 428L1862 438L1862 448L1862 457L1862 467L1861 477L1861 487L1860 496L1859 506L1858 515L1856 524L1853 533L1850 542L1847 550L1844 559L1840 567L1836 576L1833 584L1829 592L1825 600L1821 608L1816 615L1811 622L1806 628L1800 634L1795 640L1789 645L1783 651L1778 658L1774 666L1767 673L1756 674L1744 675L1733 676M1774.5 665.9L1774.1 687.1M1661 644L1676 645L1666 632L1658 629L1659 608L1659 588L1659 567L1659 546L1660 525L1660 504L1660 483L1661 462L1661 441L1661 419L1661 398L1662 377L1662 355L1662 334L1662 313L1663 291L1663 270L1663 248L1668 233L1673 219L1678 204L1683 196L1689 189L1696 185L1703 182L1710 181L1718 181L1725 182L1733 183L1740 185L1747 188L1754 192L1761 197L1767 203L1773 209L1779 215L1784 222L1790 228L1796 234L1802 241L1807 248L1812 255L1817 263L1822 270L1826 278L1830 287L1834 295L1837 304L1841 313L1844 321L1848 330L1851 339L1855 348L1858 357L1861 366L1863 375L1865 384L1866 394L1866 403L1867 413L1867 423L1866 433L1866 443L1866 452L1866 462L1866 472L1866 481L1865 491L1864 500L1862 510L1860 519L1858 528L1855 536L1852 545L1848 554L1845 562L1841 571L1837 579L1833 587L1829 595L1825 603L1820 610L1816 617L1810 623L1805 629L1799 635L1793 641L1787 647L1782 654L1778 662L1771 669L1759 670L1748 671L1736 672M1778.3 661.6L1778 682.7M1662 642L1678 642L1668 630L1660 626L1660 606L1661 585L1661 564L1661 543L1661 522L1662 501L1662 480L1662 459L1663 438L1663 417L1663 396L1663 374L1664 353L1664 332L1664 310L1665 289L1665 267L1665 246L1670 231L1675 217L1680 202L1685 193L1691 187L1698 183L1705 180L1712 179L1720 178L1727 179L1735 180L1742 182L1750 185L1757 189L1763 194L1769 199L1775 206L1781 212L1787 218L1793 225L1799 231L1804 237L1810 244L1815 251L1820 259L1825 266L1829 274L1833 283L1837 291L1840 300L1844 308L1847 317L1851 326L1854 334L1858 343L1861 352L1864 361L1866 370L1868 379L1869 389L1869 398L1870 408L1870 418L1870 428L1870 438L1870 447L1869 457L1869 467L1869 476L1868 486L1867 495L1865 504L1863 514L1861 522L1858 531L1855 540L1851 549L1848 557L1844 566L1840 574L1836 582L1832 590L1828 598L1823 605L1818 612L1813 619L1807 625L1802 631L1796 636L1790 642L1785 649L1781 657L1774 664L1762 665L1750 667L1738 668M1781 657.2L1780.6 678.3M1663 639L1679 639L1669 627L1661 624L1661 603L1662 582L1662 562L1662 541L1663 520L1663 499L1663 478L1663 457L1664 436L1664 415L1664 393L1664 372L1665 351L1665 329L1665 308L1666 287L1666 265L1666 244L1671 229L1676 214L1681 200L1686 191L1692 185L1699 180L1706 177L1713 176L1721 176L1729 176L1736 178L1744 179L1751 182L1758 186L1764 191L1771 196L1777 202L1783 209L1788 215L1794 221L1800 227L1806 234L1811 240L1816 247L1821 255L1826 262L1830 270L1834 278L1838 287L1842 295L1845 304L1849 313L1852 321L1856 330L1859 338L1862 347L1865 356L1868 365L1869 374L1870 384L1871 393L1871 403L1871 413L1871 423L1871 432L1871 442L1871 452L1871 462L1870 471L1870 481L1869 490L1867 499L1865 508L1862 517L1859 526L1856 535L1853 544L1849 552L1846 561L1842 569L1838 577L1834 585L1829 593L1825 600L1820 607L1815 614L1809 620L1803 626L1797 632L1792 638L1786 645L1782 653L1775 660L1763 661L1751 663L1740 664M1782.4 652.8L1782 673.8M1664 636L1680 636L1669 624L1661 621L1662 601L1662 580L1662 559L1662 538L1663 517L1663 496L1663 475L1664 454L1664 433L1664 412L1664 391L1665 370L1665 349L1665 327L1666 306L1666 284L1666 263L1666 241L1671 227L1676 212L1681 197L1686 189L1693 182L1699 178L1706 175L1714 173L1721 173L1729 174L1737 175L1744 176L1751 179L1758 183L1765 187L1771 193L1777 199L1783 205L1789 211L1795 217L1800 223L1806 230L1811 236L1817 243L1821 251L1826 258L1830 266L1834 274L1838 283L1842 291L1845 300L1849 308L1852 317L1856 325L1859 334L1862 343L1865 351L1868 360L1869 370L1870 379L1871 388L1871 398L1871 408L1871 418L1871 427L1871 437L1871 447L1871 457L1870 466L1870 476L1869 485L1867 494L1865 503L1862 512L1859 521L1856 530L1853 538L1849 547L1846 556L1842 564L1838 572L1834 580L1830 588L1825 595L1820 603L1815 609L1809 615L1803 621L1797 627L1792 634L1787 640L1783 648L1775 656L1764 657L1752 659L1740 660M1782.5 648.4L1782.2 669.4M1663 634L1679 633L1669 621L1661 619L1661 598L1661 577L1662 556L1662 536L1662 515L1663 494L1663 473L1663 452L1663 431L1664 410L1664 389L1664 367L1665 346L1665 325L1665 304L1665 282L1666 261L1666 239L1671 225L1676 210L1680 195L1686 186L1692 180L1699 175L1706 172L1713 171L1720 170L1728 171L1736 172L1743 174L1750 176L1757 180L1764 184L1770 190L1776 196L1782 202L1788 208L1793 214L1799 220L1805 226L1810 233L1815 240L1820 247L1825 254L1829 262L1833 270L1837 278L1840 287L1844 295L1847 304L1851 312L1854 321L1858 329L1861 338L1864 347L1866 356L1868 365L1869 374L1869 384L1870 393L1870 403L1870 413L1869 422L1869 432L1869 442L1869 451L1869 461L1868 470L1867 480L1865 489L1863 498L1861 507L1858 516L1855 525L1851 533L1848 542L1844 551L1840 559L1837 567L1833 575L1828 583L1824 591L1819 598L1813 604L1808 611L1802 617L1796 623L1791 629L1786 636L1781 644L1774 651L1763 653L1751 655L1739 657M1781.5 644L1781.1 665M1662 631L1678 630L1668 619L1660 616L1660 595L1660 575L1660 554L1661 533L1661 512L1661 491L1662 470L1662 449L1662 428L1662 407L1663 386L1663 365L1663 344L1664 323L1664 301L1664 280L1664 259L1665 237L1669 222L1674 208L1679 193L1684 184L1691 177L1697 173L1704 170L1711 168L1719 168L1726 168L1734 169L1741 171L1748 173L1755 176L1762 181L1768 186L1774 192L1779 198L1785 204L1791 210L1797 216L1802 222L1808 229L1813 236L1818 243L1822 250L1826 258L1830 266L1834 274L1838 282L1841 291L1844 299L1848 308L1851 316L1855 325L1858 333L1861 342L1863 351L1865 360L1866 369L1866 379L1866 388L1866 398L1866 408L1866 418L1866 427L1866 437L1866 446L1866 456L1865 465L1864 475L1862 484L1860 493L1858 502L1855 511L1852 520L1848 528L1845 537L1841 546L1838 554L1834 562L1830 570L1825 578L1821 586L1816 593L1811 600L1805 606L1800 612L1794 618L1788 625L1783 632L1779 640L1772 647L1760 649L1749 651L1737 653M1779.2 639.7L1778.9 660.6M1660 628L1676 628L1666 616L1658 613L1658 593L1658 572L1659 551L1659 531L1659 510L1659 489L1660 468L1660 447L1660 426L1660 405L1661 384L1661 363L1661 342L1662 320L1662 299L1662 278L1662 256L1663 235L1667 220L1672 205L1677 191L1682 182L1688 175L1695 170L1702 167L1709 166L1716 165L1724 165L1731 166L1738 168L1745 170L1752 173L1758 178L1764 183L1770 189L1776 195L1782 201L1787 207L1793 213L1798 219L1804 225L1809 232L1814 239L1818 246L1822 254L1826 262L1830 270L1833 278L1837 287L1840 295L1843 303L1847 312L1850 320L1853 329L1856 337L1858 346L1860 355L1861 365L1862 374L1862 384L1862 393L1862 403L1862 413L1862 422L1862 432L1861 441L1861 451L1860 460L1859 470L1858 479L1856 488L1853 497L1850 506L1847 515L1844 523L1840 532L1837 541L1833 549L1830 558L1826 566L1821 574L1817 581L1812 588L1807 595L1801 602L1796 608L1790 614L1785 620L1780 627L1776 635L1769 643L1757 645L1746 647L1734 649M1775.7 635.4L1775.4 656.2M1657 626L1673 625L1663 613L1655 611L1655 590L1656 570L1656 549L1656 528L1656 507L1657 486L1657 466L1657 445L1657 424L1658 403L1658 382L1658 360L1658 339L1659 318L1659 297L1659 276L1660 254L1660 233L1664 218L1669 203L1674 188L1679 180L1685 173L1691 168L1698 165L1705 163L1712 162L1720 163L1727 163L1734 165L1741 167L1748 170L1754 175L1760 180L1766 186L1771 192L1777 198L1782 203L1788 209L1793 215L1799 221L1804 228L1808 235L1813 242L1817 250L1821 258L1824 266L1828 274L1831 282L1834 291L1838 299L1841 307L1844 316L1847 324L1850 333L1852 342L1854 351L1855 360L1855 369L1856 379L1856 388L1856 398L1855 408L1855 417L1855 427L1855 437L1855 446L1854 455L1853 465L1852 474L1850 483L1847 492L1844 501L1841 510L1838 518L1835 527L1831 536L1828 544L1824 553L1820 561L1816 569L1812 576L1807 584L1802 590L1796 597L1791 603L1785 609L1780 616L1775 623L1771 631L1764 639L1753 641L1742 643L1730 645M1771.1 631.2L1770.7 652M1654 623L1669 622L1659 611L1652 608L1652 588L1652 567L1652 546L1653 526L1653 505L1653 484L1653 463L1654 442L1654 421L1654 400L1654 379L1655 358L1655 337L1655 316L1656 295L1656 273L1656 252L1656 231L1661 216L1665 201L1670 186L1675 177L1681 171L1687 166L1694 162L1701 161L1708 160L1715 160L1722 161L1729 162L1736 164L1742 167L1749 172L1754 177L1760 183L1765 188L1771 194L1776 200L1782 206L1787 212L1792 218L1797 224L1802 231L1806 239L1810 246L1814 254L1817 262L1821 270L1824 278L1827 287L1830 295L1834 303L1837 311L1840 320L1842 328L1845 337L1846 346L1847 355L1848 365L1848 374L1848 384L1848 393L1848 403L1848 413L1848 422L1848 432L1847 441L1846 451L1845 460L1844 469L1842 478L1840 487L1837 496L1834 505L1831 514L1827 522L1824 531L1821 540L1817 548L1813 556L1809 564L1805 572L1800 579L1795 586L1790 593L1785 599L1779 605L1774 612L1769 619L1765 627L1759 635L1747 637L1736 639L1725 642M1765.3 627L1764.9 647.8" fill="none" stroke="#004800" stroke-opacity="0.30" stroke-width="1.3"/>
<g fill="none" stroke-linecap="butt" stroke-linejoin="round">
<path d="M1143 247C1144.2 244.8 1147.2 238 1150 234C1152.8 230 1156.3 226 1160 223C1163.7 220 1165.9 219.5 1172.4 216C1178.9 212.5 1189.7 205.8 1199 202C1208.3 198.2 1218.2 196.1 1228 193.5C1237.8 190.9 1242.7 189.4 1258 186.5C1273.3 183.6 1309.7 177.8 1320 176" stroke="#ff0000" stroke-width="10"/>
<path d="M1310 177.5C1321 176.1 1355.2 171 1376 168.8C1396.8 166.6 1425.2 165.1 1435 164.3" stroke="#ff0000" stroke-width="7.5"/>
<path d="M1425 164.8C1434.2 164.4 1464.3 163 1480 162.5C1495.7 162 1512.5 162.1 1519 162" stroke="#ff0000" stroke-width="5.5"/>
<path d="M1519 162C1532.5 162.2 1576.5 161.9 1600 163C1623.5 164.1 1643.3 166.1 1660 168.5C1676.7 170.9 1690 174.2 1700 177.5C1710 180.8 1715.9 185.1 1720 188.5C1724.1 191.9 1725.2 194.7 1724.5 198C1723.8 201.3 1721.4 204.8 1716 208.5C1710.6 212.2 1702.2 216.9 1692 220.5C1681.8 224.1 1667.5 227.4 1655 230C1642.5 232.6 1626.3 235 1617 236C1607.7 237 1608.7 235.4 1599 236C1589.3 236.6 1579 238.3 1559 239.6C1539 240.9 1505.5 243.4 1479 244C1452.5 244.6 1426.5 244 1400 243C1373.5 242 1339.6 239.5 1320 238C1300.4 236.5 1291.8 235.3 1282.5 234C1273.2 232.7 1269.8 231.8 1264 230C1258.2 228.2 1251.7 225.4 1248 223C1244.3 220.6 1241 218.3 1242 215.6C1243 212.9 1247.2 209.5 1254 207C1260.8 204.5 1277.8 201.6 1282.5 200.5" stroke="#ff0000" stroke-width="4.5"/>
<path d="M1672 172C1676.7 173.2 1692.2 176.2 1700 179C1707.8 181.8 1715 185.8 1719 189C1723 192.2 1724.5 195.3 1724 198.5C1723.5 201.7 1720.3 204.9 1716 208C1711.7 211.1 1701 215.5 1698 217" stroke="#ff0000" stroke-width="8"/>
<path d="M1254 207C1258.8 205.9 1271.5 201.7 1282.5 200.5C1293.5 199.3 1300.4 199.8 1320 199.7C1339.6 199.6 1373.5 199.1 1400 199.7C1426.5 200.3 1465.8 202.9 1479 203.5" stroke="#ff0000" stroke-width="13"/>
<path d="M1400 203C1413.2 203.5 1459.2 204.6 1479 206C1498.8 207.4 1506.7 209.5 1519 211.5C1531.3 213.5 1547.3 216.9 1553 218" stroke="#ff0000" stroke-width="8"/>
<path d="M1479 205C1485.7 205.9 1506.7 208.6 1519 210.7C1531.3 212.8 1543 215.9 1553 217.7C1563 219.5 1571.3 220.2 1579 221.7C1586.7 223.2 1592.2 225 1599 226.6C1605.8 228.2 1616.5 230.7 1620 231.5" stroke="#ff0000" stroke-width="3.4"/>
<path d="M1151.6 234.6C1150.4 236 1146.3 240.1 1144.5 242.9C1142.8 245.8 1141.6 248.6 1140.8 251.5C1140 254.3 1139.8 257.2 1139.9 260.1C1139.9 263 1140.4 265.9 1141.1 268.7C1141.8 271.6 1142.9 274.4 1144.1 277.2C1145.2 280 1146.7 282.7 1148.2 285.4C1149.6 288.1 1151.3 290.7 1152.9 293.3C1154.5 295.8 1156.3 298.3 1158 300.8C1159.8 303.2 1161.6 305.6 1163.5 307.9C1165.4 310.3 1167.4 312.5 1169.4 314.8C1171.4 317 1173.5 319.1 1175.6 321.3C1177.7 323.4 1179.8 325.5 1182 327.5C1184.2 329.5 1186.5 331.5 1188.8 333.4C1191.1 335.4 1193.4 337.3 1195.8 339.1C1198.1 341 1200.5 342.8 1203 344.6C1205.4 346.4 1207.9 348.2 1210.4 349.9C1212.9 351.6 1215.4 353.3 1217.9 355C1220.5 356.7 1223.1 358.3 1225.6 360C1228.2 361.6 1230.8 363.2 1233.5 364.8C1236.1 366.4 1238.7 367.9 1241.4 369.5C1244 371.1 1246.7 372.6 1249.4 374.1C1252.1 375.7 1254.7 377.2 1257.4 378.7C1260.1 380.2 1262.8 381.7 1265.5 383.2C1268.2 384.7 1270.8 386.2 1273.5 387.6C1276.2 389.1 1278.9 390.6 1281.6 392.1C1284.3 393.5 1287 395 1289.7 396.5C1292.4 397.9 1295.1 399.4 1297.8 400.8C1300.5 402.3 1303.2 403.7 1305.9 405.1C1308.6 406.6 1311.3 408 1314 409.4C1316.7 410.8 1319.4 412.2 1322.1 413.6C1324.9 415 1327.6 416.4 1330.3 417.8C1333 419.2 1335.7 420.6 1338.4 422C1341.2 423.4 1343.9 424.7 1346.6 426.1C1349.3 427.5 1352.1 428.8 1354.8 430.2C1357.5 431.5 1360.2 432.9 1363 434.2C1365.7 435.6 1368.4 436.9 1371.2 438.2C1373.9 439.6 1376.6 440.9 1379.4 442.2C1382.1 443.5 1384.9 444.8 1387.6 446.1C1390.4 447.4 1393.1 448.7 1395.9 450C1398.6 451.3 1401.4 452.6 1404.1 453.9C1406.9 455.1 1409.6 456.4 1412.4 457.7C1415.1 458.9 1417.9 460.2 1420.7 461.5C1423.4 462.7 1426.2 464 1429 465.2C1431.7 466.4 1434.5 467.7 1437.3 468.9C1440 470.1 1442.8 471.3 1445.6 472.6C1448.4 473.8 1451.1 475 1453.9 476.2C1456.7 477.4 1459.5 478.6 1462.3 479.8C1465.1 481 1467.8 482.2 1470.6 483.3C1473.4 484.5 1476.2 485.7 1479 486.8C1481.8 488 1484.6 489.2 1487.4 490.3C1490.2 491.5 1493 492.6 1495.8 493.8C1498.6 494.9 1501.4 496 1504.2 497.2C1507.1 498.3 1509.9 499.4 1512.7 500.5C1515.5 501.7 1518.3 502.8 1521.1 503.9C1524 505 1526.8 506.1 1529.6 507.2C1532.4 508.2 1535.3 509.3 1538.1 510.4C1540.9 511.5 1543.8 512.6 1546.6 513.6C1549.4 514.7 1552.3 515.8 1555.1 516.8C1558 517.9 1560.8 518.9 1563.7 520C1566.5 521 1569.4 522 1572.2 523.1C1575.1 524.1 1577.9 525.1 1580.8 526.1C1583.6 527.2 1586.5 528.2 1589.4 529.2C1592.2 530.2 1595.1 531.2 1598 532.2C1600.8 533.2 1603.7 534.2 1606.6 535.1C1609.5 536.1 1612.3 537.1 1615.2 538.1C1618.1 539 1621 540 1623.9 541C1626.8 541.9 1629.7 542.9 1632.6 543.8C1635.4 544.8 1638.3 545.7 1641.2 546.6C1644.1 547.6 1647 548.5 1650 549.4C1652.9 550.3 1655.8 551.3 1658.7 552.2C1661.6 553.1 1664.5 554 1667.4 554.9C1670.3 555.8 1673.3 556.7 1676.2 557.6C1679.1 558.4 1682 559.3 1685 560.2C1687.9 561.1 1690.8 561.9 1693.8 562.8C1696.7 563.7 1699.7 564.5 1702.6 565.4C1705.5 566.2 1708.5 567.1 1711.4 567.9C1714.4 568.8 1717.3 569.6 1720.3 570.5C1723.2 571.3 1726.2 572.1 1729.1 573C1732.1 573.8 1735 574.7 1737.9 575.5C1740.9 576.4 1743.8 577.3 1746.7 578.1C1749.7 579 1752.6 579.9 1755.5 580.8C1758.4 581.7 1761.3 582.6 1764.2 583.5C1767.1 584.4 1770 585.3 1772.9 586.3C1775.7 587.2 1778.6 588.2 1781.4 589.2C1784.3 590.2 1787.1 591.2 1790 592.2C1792.8 593.3 1795.6 594.3 1798.4 595.4C1801.2 596.5 1804 597.6 1806.7 598.7C1809.4 599.8 1813.8 601.3 1814.3 602.1C1814.8 603 1812.4 603.9 1809.8 604C1807.1 604.2 1802.2 603.4 1798.6 603C1794.9 602.6 1791.2 602.1 1787.9 601.8C1784.6 601.4 1781.5 601.1 1778.5 600.8C1775.6 600.5 1772.8 600.3 1770.1 600.1C1767.3 599.8 1764.6 599.6 1761.9 599.4C1759.2 599.2 1756.5 599 1753.7 598.7C1750.9 598.5 1748 598.3 1745 598C1742.1 597.8 1739.1 597.6 1736.1 597.3C1733.1 597.1 1730 596.8 1726.9 596.6C1723.8 596.4 1720.7 596.2 1717.6 596C1714.4 595.8 1711.3 595.6 1708.1 595.4C1705 595.2 1701.9 595.1 1698.7 595C1695.6 594.8 1692.5 594.7 1689.4 594.7C1686.3 594.6 1683.2 594.5 1680.1 594.5C1677 594.5 1674 594.4 1670.9 594.4C1667.9 594.4 1664.8 594.4 1661.8 594.5C1658.7 594.5 1655.7 594.5 1652.7 594.6C1649.6 594.6 1646.6 594.7 1643.6 594.8C1640.6 594.8 1637.5 594.9 1634.5 595C1631.5 595.1 1628.5 595.1 1625.5 595.2C1622.5 595.3 1619.5 595.4 1616.5 595.5C1613.4 595.6 1610.4 595.7 1607.4 595.8C1604.4 595.8 1601.4 595.9 1598.4 596C1595.3 596.1 1592.3 596.1 1589.3 596.2C1586.3 596.3 1583.2 596.3 1580.2 596.4C1577.2 596.5 1574.1 596.5 1571.1 596.6C1568.1 596.6 1565 596.7 1562 596.8C1558.9 596.8 1555.9 596.9 1552.8 597C1549.8 597 1546.8 597.1 1543.7 597.2C1540.7 597.3 1537.6 597.4 1534.6 597.5C1531.5 597.6 1528.5 597.7 1525.4 597.8C1522.4 597.9 1519.3 598.1 1516.3 598.2C1513.2 598.4 1510.2 598.5 1507.2 598.7C1504.1 598.9 1501.1 599.1 1498 599.3C1495 599.5 1492 599.7 1488.9 599.9C1485.9 600.2 1482.8 600.4 1479.8 600.7C1476.8 601 1473.8 601.3 1470.7 601.6C1467.7 602 1464.7 602.3 1461.7 602.7C1458.6 603.1 1455.6 603.5 1452.6 603.9C1449.6 604.4 1446.6 604.8 1443.6 605.3C1440.6 605.8 1437.6 606.3 1434.6 606.9C1431.6 607.4 1428.6 608 1425.6 608.6C1422.7 609.2 1418.2 610.2 1416.7 610.5" stroke="#ff0000" stroke-width="5"/>
<path d="M1148.8 234C1147.7 235.1 1143.7 238.1 1142.3 240.6C1140.9 243.1 1141.5 246.1 1140.2 248.9C1139 251.7 1136.5 254.6 1134.9 257.4C1133.2 260.3 1131.4 263.1 1130.2 266C1129 268.9 1128.2 271.9 1127.6 274.8C1127.1 277.7 1126.9 280.7 1126.9 283.6C1126.9 286.6 1127.2 289.5 1127.7 292.5C1128.2 295.4 1129 298.3 1129.9 301.2C1130.8 304.1 1131.9 306.9 1133.1 309.7C1134.3 312.6 1135.6 315.3 1137 318.1C1138.4 320.8 1139.9 323.4 1141.5 326C1143 328.6 1144.6 331.2 1146.3 333.7C1148 336.2 1149.7 338.6 1151.5 341C1153.3 343.4 1155.2 345.8 1157.1 348.1C1159 350.4 1161 352.7 1163 354.9C1165.1 357.1 1167.1 359.3 1169.2 361.4C1171.3 363.5 1173.5 365.6 1175.7 367.7C1177.9 369.8 1180.1 371.8 1182.4 373.8C1184.7 375.8 1187 377.7 1189.3 379.7C1191.7 381.6 1194 383.5 1196.4 385.4C1198.8 387.3 1201.2 389.1 1203.7 391C1206.1 392.8 1208.6 394.6 1211.1 396.4C1213.5 398.2 1216 400 1218.5 401.8C1221 403.5 1223.6 405.3 1226.1 407C1228.6 408.7 1231.1 410.5 1233.7 412.2C1236.2 413.9 1238.8 415.6 1241.3 417.3C1243.8 419 1246.4 420.6 1249 422.3C1251.5 424 1254.1 425.6 1256.6 427.3C1259.2 428.9 1261.8 430.6 1264.4 432.2C1267 433.8 1269.5 435.4 1272.1 437.1C1274.7 438.7 1277.3 440.3 1279.9 441.8C1282.5 443.4 1285.1 445 1287.7 446.6C1290.3 448.1 1293 449.7 1295.6 451.2C1298.2 452.8 1300.8 454.3 1303.5 455.8C1306.1 457.3 1308.7 458.9 1311.4 460.4C1314 461.9 1316.6 463.4 1319.3 464.8C1322 466.3 1324.6 467.8 1327.3 469.3C1329.9 470.7 1332.6 472.2 1335.3 473.6C1337.9 475.1 1340.6 476.5 1343.3 477.9C1346 479.3 1348.7 480.7 1351.3 482.1C1354 483.5 1356.7 484.9 1359.4 486.3C1362.1 487.7 1364.8 489.1 1367.5 490.4C1370.2 491.8 1373 493.1 1375.7 494.5C1378.4 495.8 1381.1 497.2 1383.8 498.5C1386.6 499.8 1389.3 501.1 1392 502.4C1394.8 503.7 1397.5 505 1400.2 506.3C1403 507.6 1405.7 508.9 1408.5 510.1C1411.2 511.4 1414 512.7 1416.8 513.9C1419.5 515.2 1422.3 516.4 1425.1 517.6C1427.8 518.8 1430.6 520.1 1433.4 521.3C1436.1 522.5 1438.9 523.7 1441.7 524.9C1444.5 526.1 1447.3 527.2 1450.1 528.4C1452.9 529.6 1455.7 530.8 1458.5 531.9C1461.3 533.1 1464.1 534.2 1466.9 535.3C1469.7 536.5 1472.5 537.6 1475.3 538.7C1478.2 539.8 1481 540.9 1483.8 542C1486.6 543.1 1489.5 544.2 1492.3 545.3C1495.1 546.4 1498 547.5 1500.8 548.5C1503.6 549.6 1506.5 550.6 1509.3 551.7C1512.2 552.7 1515 553.8 1517.9 554.8C1520.7 555.8 1523.6 556.8 1526.5 557.8C1529.3 558.8 1532.2 559.9 1535.1 560.8C1537.9 561.8 1540.8 562.8 1543.7 563.8C1546.6 564.8 1549.4 565.7 1552.3 566.7C1555.2 567.6 1558.1 568.6 1561 569.5C1563.9 570.5 1566.8 571.4 1569.7 572.3C1572.6 573.3 1575.5 574.2 1578.4 575.1C1581.3 576 1584.2 576.9 1587.1 577.8C1590 578.7 1592.9 579.5 1595.8 580.4C1598.7 581.3 1601.6 582.1 1604.6 583C1607.5 583.9 1610.4 584.7 1613.3 585.5C1616.3 586.4 1619.2 587.2 1622.1 588C1625.1 588.9 1628 589.7 1630.9 590.5C1633.9 591.3 1636.8 592.1 1639.8 592.9C1642.7 593.7 1645.7 594.4 1648.6 595.2C1651.6 596 1654.5 596.8 1657.5 597.5C1660.4 598.3 1663.4 599 1666.4 599.7C1669.3 600.5 1672.3 601.2 1675.2 601.9C1678.2 602.6 1681.2 603.2 1684.1 603.9C1687.1 604.5 1690.1 605.2 1693.1 605.7C1696 606.3 1699 606.9 1702 607.4C1705 608 1707.9 608.5 1710.9 608.9C1713.9 609.4 1716.9 609.8 1719.8 610.2C1722.8 610.6 1725.8 610.9 1728.8 611.2C1731.8 611.5 1734.7 611.7 1737.7 611.9C1740.7 612.1 1743.7 612.3 1746.7 612.4C1749.6 612.5 1752.6 612.5 1755.6 612.5C1758.6 612.5 1761.5 612.3 1764.6 612.4C1767.6 612.4 1770.7 612.4 1773.9 612.9C1777.1 613.3 1780.6 613.9 1783.9 615C1787.3 616.1 1791.9 618 1794 619.3C1796.2 620.5 1797.3 621.9 1796.8 622.6C1796.2 623.3 1793.2 623.5 1790.6 623.6C1788 623.8 1784.4 623.8 1781.3 623.8C1778.2 623.8 1775.1 623.7 1772 623.7C1768.9 623.6 1765.7 623.5 1762.6 623.4C1759.6 623.3 1756.5 623.1 1753.4 623C1750.3 622.8 1747.2 622.6 1744.2 622.4C1741.1 622.2 1738 622 1735 621.7C1731.9 621.5 1728.9 621.2 1725.8 620.9C1722.8 620.6 1719.7 620.3 1716.7 620C1713.6 619.7 1710.6 619.4 1707.6 619.1C1704.6 618.7 1701.5 618.4 1698.5 618.1C1695.5 617.7 1692.5 617.3 1689.4 617C1686.4 616.6 1683.4 616.3 1680.4 615.9C1677.4 615.5 1674.4 615.1 1671.4 614.8C1668.4 614.4 1665.4 614 1662.4 613.7C1659.4 613.3 1656.4 612.9 1653.4 612.6C1650.3 612.2 1647.3 611.9 1644.3 611.5C1641.3 611.2 1638.3 610.8 1635.3 610.5C1632.3 610.2 1629.3 609.8 1626.3 609.5C1623.3 609.2 1620.3 608.9 1617.3 608.7C1614.3 608.4 1611.3 608.1 1608.3 607.9C1605.3 607.7 1602.2 607.4 1599.2 607.2C1596.2 607 1593.2 606.8 1590.2 606.7C1587.1 606.5 1584.1 606.4 1581.1 606.3C1578 606.1 1575 606 1572 605.9C1569 605.9 1565.9 605.8 1562.9 605.7C1559.8 605.7 1556.8 605.7 1553.8 605.7C1550.7 605.7 1547.7 605.7 1544.6 605.7C1541.6 605.7 1538.6 605.7 1535.5 605.8C1532.5 605.9 1529.4 605.9 1526.4 606C1523.3 606.1 1520.3 606.2 1517.2 606.4C1514.2 606.5 1511.2 606.6 1508.1 606.8C1505.1 606.9 1502 607.1 1499 607.3C1495.9 607.5 1492.9 607.7 1489.8 607.9C1486.8 608.1 1483.8 608.3 1480.7 608.6C1477.7 608.8 1474.6 609 1471.6 609.3C1468.5 609.6 1465.5 609.9 1462.5 610.1C1459.4 610.4 1456.4 610.7 1453.4 611.1C1450.3 611.4 1447.3 611.7 1444.3 612C1441.3 612.4 1438.2 612.7 1435.2 613.1C1432.2 613.4 1429.2 613.8 1426.1 614.2C1423.1 614.6 1420.1 615 1417.1 615.4C1414.1 615.8 1411.1 616.2 1408.1 616.6C1405.1 617 1402.1 617.5 1399.1 617.9C1396.1 618.3 1393.1 618.8 1390.1 619.2C1387.1 619.7 1384.1 620.1 1381.2 620.6C1378.2 621.1 1375.2 621.6 1372.2 622C1369.3 622.5 1364.8 623.3 1363.3 623.5" stroke="#ff0000" stroke-width="5"/>
<path d="M1146.4 231.9C1145.5 232.9 1142.9 235.8 1141 237.9C1139.2 240.1 1137.3 242.4 1135.4 244.8C1133.6 247.1 1131.7 249.6 1129.9 252.2C1128.1 254.8 1126.3 257.5 1124.6 260.2C1123 262.9 1121.4 265.8 1119.9 268.6C1118.5 271.5 1117.1 274.4 1115.9 277.3C1114.8 280.3 1113.8 283.2 1113 286.2C1112.2 289.2 1111.7 292.2 1111.3 295.2C1111 298.2 1110.9 301.2 1110.9 304.2C1111 307.2 1111.2 310.1 1111.6 313.1C1112.1 316.1 1112.7 319 1113.4 322C1114.1 324.9 1115 327.8 1115.9 330.7C1116.9 333.6 1118 336.5 1119.1 339.3C1120.3 342.1 1121.6 344.9 1122.9 347.7C1124.2 350.4 1125.6 353.1 1127 355.8C1128.4 358.5 1129.9 361.1 1131.4 363.7C1132.9 366.3 1134.5 368.9 1136.1 371.4C1137.8 373.9 1139.4 376.4 1141.2 378.8C1142.9 381.3 1144.6 383.7 1146.5 386.1C1148.3 388.4 1150.1 390.8 1152 393.1C1153.9 395.4 1155.8 397.7 1157.8 399.9C1159.8 402.1 1161.8 404.3 1163.9 406.5C1165.9 408.7 1168 410.8 1170.1 412.9C1172.2 415.1 1174.4 417.1 1176.6 419.2C1178.8 421.3 1181 423.3 1183.3 425.3C1185.5 427.3 1187.8 429.3 1190.1 431.2C1192.4 433.1 1194.8 435.1 1197.2 437C1199.5 438.9 1201.9 440.7 1204.4 442.6C1206.8 444.4 1209.2 446.3 1211.7 448.1C1214.2 449.9 1216.6 451.6 1219.2 453.4C1221.7 455.2 1224.2 456.9 1226.7 458.6C1229.3 460.4 1231.9 462.1 1234.4 463.7C1237 465.4 1239.6 467.1 1242.2 468.7C1244.8 470.4 1247.5 472 1250.1 473.6C1252.7 475.3 1255.4 476.9 1258 478.5C1260.7 480 1263.4 481.6 1266 483.2C1268.7 484.7 1271.4 486.3 1274.1 487.8C1276.8 489.4 1279.5 490.9 1282.1 492.4C1284.8 493.9 1287.5 495.4 1290.2 496.9C1292.9 498.4 1295.6 499.9 1298.3 501.4C1301 502.9 1303.7 504.4 1306.4 505.9C1309.1 507.3 1311.8 508.8 1314.5 510.2C1317.2 511.7 1319.9 513.1 1322.5 514.6C1325.2 516 1327.9 517.4 1330.6 518.9C1333.3 520.3 1336 521.7 1338.7 523.1C1341.3 524.5 1344 525.9 1346.7 527.3C1349.4 528.7 1352.1 530 1354.8 531.4C1357.5 532.8 1360.2 534.1 1362.9 535.5C1365.6 536.8 1368.3 538.2 1371 539.5C1373.7 540.8 1376.4 542.1 1379.1 543.4C1381.8 544.7 1384.5 546 1387.2 547.3C1389.9 548.5 1392.6 549.8 1395.4 551.1C1398.1 552.3 1400.8 553.6 1403.5 554.8C1406.3 556 1409 557.2 1411.8 558.4C1414.5 559.6 1417.2 560.8 1420 562C1422.7 563.1 1425.5 564.3 1428.3 565.4C1431 566.6 1433.8 567.7 1436.6 568.8C1439.4 569.9 1442.2 571 1445 572.1C1447.7 573.2 1450.5 574.3 1453.4 575.3C1456.2 576.4 1459 577.4 1461.8 578.4C1464.6 579.4 1467.5 580.4 1470.3 581.4C1473.2 582.4 1476 583.4 1478.9 584.3C1481.8 585.3 1484.6 586.2 1487.5 587.1C1490.4 588 1493.3 588.9 1496.2 589.8C1499.1 590.7 1502 591.6 1504.9 592.4C1507.8 593.3 1510.8 594.1 1513.7 594.9C1516.6 595.7 1519.6 596.5 1522.5 597.3C1525.5 598.1 1528.4 598.9 1531.4 599.6C1534.3 600.4 1537.3 601.1 1540.3 601.8C1543.2 602.5 1546.2 603.2 1549.2 603.9C1552.2 604.6 1555.2 605.3 1558.1 605.9C1561.1 606.6 1564.1 607.2 1567.1 607.9C1570.1 608.5 1573.1 609.1 1576.1 609.7C1579.1 610.3 1582.2 610.8 1585.2 611.4C1588.2 612 1591.2 612.5 1594.2 613C1597.2 613.6 1600.2 614.1 1603.3 614.6C1606.3 615.1 1609.3 615.6 1612.3 616.1C1615.3 616.5 1618.4 617 1621.4 617.4C1624.4 617.9 1627.4 618.3 1630.5 618.7C1633.5 619.1 1636.5 619.5 1639.5 619.9C1642.6 620.3 1645.6 620.7 1648.6 621C1651.6 621.4 1654.7 621.7 1657.7 622C1660.7 622.4 1663.7 622.7 1666.7 623C1669.7 623.3 1672.7 623.6 1675.8 623.8C1678.8 624.1 1681.8 624.4 1684.8 624.6C1687.8 624.9 1690.8 625.1 1693.8 625.3C1696.8 625.5 1699.8 625.7 1702.7 625.9C1705.7 626.1 1708.7 626.3 1711.7 626.5C1714.7 626.7 1717.7 626.9 1720.7 627.1C1723.7 627.3 1726.7 627.5 1729.7 627.7C1732.7 627.9 1735.7 628.2 1738.8 628.5C1741.8 628.7 1744.9 629.1 1748 629.4C1751.1 629.8 1754.2 630.2 1757.3 630.6C1760.4 631.1 1763.6 631.6 1766.8 632.2C1770 632.7 1773.6 633.4 1776.4 634.1C1779.2 634.8 1782.3 635.6 1783.4 636.4C1784.5 637.3 1784.4 638.3 1782.9 639.2C1781.5 640 1777.9 640.9 1774.9 641.5C1771.9 642.2 1768.1 642.7 1764.8 643C1761.4 643.4 1758.2 643.6 1754.9 643.7C1751.7 643.8 1748.5 643.8 1745.4 643.6C1742.3 643.5 1739.2 643.3 1736.1 643C1733 642.7 1730 642.3 1727 641.9C1724 641.5 1721 641 1718 640.4C1715.1 639.9 1712.1 639.3 1709.2 638.7C1706.2 638.2 1703.3 637.6 1700.3 637C1697.4 636.4 1694.4 635.8 1691.5 635.2C1688.5 634.6 1685.5 634 1682.6 633.5C1679.6 632.9 1676.6 632.3 1673.7 631.8C1670.7 631.2 1667.7 630.7 1664.8 630.2C1661.8 629.6 1658.8 629.1 1655.8 628.6C1652.8 628.1 1649.8 627.5 1646.9 627C1643.9 626.6 1640.9 626.1 1637.9 625.6C1634.9 625.1 1631.9 624.7 1628.9 624.2C1625.9 623.8 1622.9 623.3 1619.9 622.9C1616.9 622.5 1613.9 622.1 1610.9 621.7C1607.9 621.3 1604.9 620.9 1601.9 620.5C1598.8 620.2 1595.8 619.8 1592.8 619.5C1589.8 619.1 1586.8 618.8 1583.8 618.5C1580.7 618.2 1577.7 617.9 1574.7 617.7C1571.7 617.4 1568.7 617.2 1565.6 616.9C1562.6 616.7 1559.6 616.5 1556.6 616.3C1553.5 616.1 1550.5 615.9 1547.5 615.8C1544.4 615.6 1541.4 615.5 1538.4 615.4C1535.4 615.3 1532.3 615.2 1529.3 615.2C1526.3 615.1 1523.2 615.1 1520.2 615C1517.2 615 1514.1 615 1511.1 615.1C1508.1 615.1 1505 615.2 1502 615.3C1499 615.3 1495.9 615.4 1492.9 615.6C1489.9 615.7 1486.8 615.9 1483.8 616.1C1480.8 616.2 1477.8 616.4 1474.7 616.7C1471.7 616.9 1468.7 617.1 1465.6 617.4C1462.6 617.7 1459.6 618 1456.5 618.3C1453.5 618.6 1450.5 618.9 1447.5 619.2C1444.4 619.6 1441.4 620 1438.4 620.3C1435.4 620.7 1432.3 621.1 1429.3 621.5C1426.3 621.9 1423.3 622.3 1420.3 622.8C1417.2 623.2 1414.2 623.7 1411.2 624.1C1408.2 624.6 1405.2 625.1 1402.2 625.5C1399.2 626 1396.2 626.5 1393.2 627C1390.1 627.5 1387.1 628 1384.1 628.6C1381.1 629.1 1378.1 629.6 1375.2 630.1C1372.2 630.7 1369.2 631.2 1366.2 631.8C1363.2 632.3 1360.2 632.9 1357.2 633.4C1354.2 634 1351.2 634.5 1348.3 635.1C1345.3 635.6 1342.3 636.2 1339.3 636.8C1336.4 637.3 1333.4 637.9 1330.4 638.5C1327.5 639 1324.5 639.6 1321.6 640.1C1318.6 640.7 1314.2 641.5 1312.7 641.8" stroke="#ff0000" stroke-width="5"/>
<path d="M1150 236C1151.2 234 1153.7 228.3 1157 224C1160.3 219.7 1165 214.3 1170 210C1175 205.7 1180.2 201.5 1187 198C1193.8 194.5 1202.2 192 1211 189C1219.8 186 1229.3 183 1240 180C1250.7 177 1261.7 173.7 1275 171C1288.3 168.3 1299.2 166.4 1320 164C1340.8 161.6 1376.7 158.1 1400 156.5C1423.3 154.9 1440 154.5 1460 154.5C1480 154.5 1503.3 155.6 1520 156.5C1536.7 157.4 1543.8 158.7 1560 160C1576.2 161.3 1600.3 162.6 1617 164.5C1633.7 166.4 1648.2 169.2 1660 171.5C1671.8 173.8 1680.2 175.8 1688 178.5C1695.8 181.2 1702.8 184.9 1707 188C1711.2 191.1 1713.4 194.1 1713.4 197C1713.4 199.9 1711.2 202.4 1707 205.6C1702.8 208.8 1695.8 212.7 1688 216C1680.2 219.3 1671.8 222.5 1660 225.5C1648.2 228.5 1633.7 230.9 1617 234C1600.3 237.1 1576.3 241.3 1560 244C1543.7 246.7 1535.8 248.6 1519 250C1502.2 251.4 1478.8 252.2 1459 252.5C1439.2 252.8 1419.8 252 1400 251.5C1380.2 251 1356.7 250.3 1340 249.5C1323.3 248.7 1312 247.9 1300 246.5C1288 245.1 1275.7 242.9 1268 241C1260.3 239.1 1257.2 237.5 1254 235C1250.8 232.5 1248.5 228.8 1248.5 226C1248.5 223.2 1250.8 220.4 1254 218.5C1257.2 216.6 1260.8 215.7 1268 214.5C1275.2 213.3 1284.7 211.9 1297 211.4C1309.3 210.9 1334.5 211.5 1342 211.5" stroke="#ffa500" stroke-width="9.2"/>
<path d="M1342 212.5C1351.7 212.9 1382 213.9 1400 214.7C1418 215.5 1434.7 216.5 1450 217.5C1465.3 218.5 1485 220.2 1492 220.7" stroke="#ffa500" stroke-width="4"/>
<path d="M1330 215.5C1336.7 215.8 1356.2 216.6 1370 217.5C1383.8 218.4 1405.5 220.2 1412.6 220.7" stroke="#ffa500" stroke-width="4"/>
<path d="M1183 207.1C1182.1 208 1179.1 210.3 1177.3 212.8C1175.5 215.2 1173.6 218.8 1172.3 222C1171.1 225.2 1170.1 228.8 1169.9 231.9C1169.7 235 1170.2 237.9 1171.1 240.6C1172.1 243.2 1173.6 245.5 1175.4 247.8C1177.1 250 1179.4 252.1 1181.6 254.1C1183.8 256 1186.3 257.9 1188.8 259.8C1191.2 261.6 1193.6 263.4 1196.1 265.2C1198.6 267 1201.1 268.7 1203.6 270.4C1206.1 272.1 1208.6 273.8 1211.2 275.4C1213.7 277.1 1216.3 278.6 1218.9 280.2C1221.4 281.8 1224 283.3 1226.6 284.8C1229.3 286.3 1231.9 287.8 1234.5 289.2C1237.2 290.7 1239.8 292.1 1242.5 293.5C1245.2 294.9 1247.9 296.2 1250.6 297.6C1253.3 298.9 1256 300.2 1258.7 301.5C1261.4 302.8 1264.2 304 1266.9 305.2C1269.7 306.5 1272.5 307.7 1275.2 308.9C1278 310.1 1280.8 311.2 1283.6 312.4C1286.4 313.5 1289.2 314.7 1292 315.8C1294.8 316.9 1297.6 318 1300.5 319.1C1303.3 320.1 1306.1 321.2 1309 322.3C1311.8 323.3 1314.7 324.3 1317.5 325.4C1320.4 326.4 1323.2 327.4 1326.1 328.4C1329 329.4 1331.9 330.4 1334.7 331.3C1337.6 332.3 1340.5 333.3 1343.4 334.2C1346.3 335.2 1349.2 336.1 1352.1 337.1C1354.9 338 1357.8 339 1360.7 339.9C1363.6 340.8 1366.5 341.8 1369.4 342.7C1372.3 343.6 1375.2 344.5 1378.1 345.5C1381 346.4 1383.9 347.3 1386.8 348.2C1389.7 349.1 1392.6 350 1395.5 351C1398.4 351.9 1401.3 352.8 1404.2 353.7C1407.1 354.6 1410 355.6 1412.9 356.5C1415.8 357.4 1418.6 358.3 1421.5 359.3C1424.4 360.2 1427.3 361.1 1430.2 362C1433.1 363 1435.9 363.9 1438.8 364.8C1441.7 365.8 1444.6 366.7 1447.5 367.6C1450.3 368.6 1453.2 369.5 1456.1 370.4C1459 371.4 1461.9 372.3 1464.7 373.2C1467.6 374.2 1470.5 375.1 1473.4 376C1476.2 377 1479.1 377.9 1482 378.8C1484.8 379.8 1487.7 380.7 1490.6 381.7C1493.5 382.6 1496.3 383.6 1499.2 384.5C1502.1 385.4 1504.9 386.4 1507.8 387.3C1510.7 388.3 1513.5 389.2 1516.4 390.2C1519.3 391.1 1522.1 392.1 1525 393C1527.8 394 1530.7 394.9 1533.6 395.9C1536.4 396.8 1539.3 397.8 1542.2 398.7C1545 399.7 1547.9 400.7 1550.8 401.6C1553.6 402.6 1556.5 403.5 1559.3 404.5C1562.2 405.5 1565.1 406.4 1567.9 407.4C1570.8 408.3 1573.6 409.3 1576.5 410.3C1579.4 411.2 1582.2 412.2 1585.1 413.2C1587.9 414.1 1590.8 415.1 1593.7 416.1C1596.5 417 1599.4 418 1602.3 419C1605.1 419.9 1608 420.9 1610.8 421.9C1613.7 422.9 1616.6 423.8 1619.4 424.8C1622.3 425.8 1625.1 426.8 1628 427.8C1630.9 428.7 1633.7 429.7 1636.6 430.7C1639.5 431.7 1642.3 432.7 1645.2 433.6C1648.1 434.6 1650.9 435.6 1653.8 436.6C1656.7 437.6 1659.5 438.6 1662.4 439.6C1665.2 440.5 1668.1 441.5 1671 442.5C1673.9 443.5 1676.7 444.5 1679.6 445.5C1682.5 446.5 1685.3 447.5 1688.2 448.5C1691.1 449.5 1693.9 450.5 1696.8 451.5C1699.7 452.5 1702.6 453.5 1705.4 454.5C1708.3 455.5 1711.2 456.5 1714 457.5C1716.9 458.5 1719.8 459.6 1722.6 460.6C1725.5 461.6 1728.4 462.6 1731.2 463.7C1734.1 464.7 1736.9 465.8 1739.8 466.8C1742.6 467.9 1745.4 468.9 1748.3 470C1751.1 471.1 1753.9 472.2 1756.7 473.3C1759.5 474.4 1762.4 475.5 1765.2 476.6C1767.9 477.8 1770.7 478.9 1773.5 480.1C1776.3 481.2 1779 482.4 1781.8 483.6C1784.5 484.8 1787.3 486 1790 487.2C1792.7 488.4 1795.4 489.7 1798.1 490.9C1800.8 492.2 1803.5 493.5 1806.2 494.8C1808.9 496.1 1811.5 497.4 1814.1 498.7C1816.8 500.1 1819.4 501.5 1822 502.9C1824.7 504.3 1827.3 505.8 1830.1 507.4C1832.8 509 1835.6 510.6 1838.5 512.4C1841.4 514.2 1844.9 516.1 1847.4 518.1C1849.9 520.1 1852.8 522.2 1853.4 524.3C1854.1 526.4 1852.8 528.7 1851.3 530.6C1849.8 532.6 1846.7 534.6 1844.2 536.2C1841.8 537.9 1839.3 539.4 1836.7 540.7C1834.1 542.1 1831.4 543.2 1828.7 544.2C1826 545.2 1823.2 546.1 1820.4 546.9C1817.6 547.6 1814.7 548.3 1811.8 548.8C1808.9 549.3 1805.9 549.8 1803 550.1C1800 550.5 1797 550.8 1794 551C1790.9 551.3 1787.9 551.4 1784.8 551.6C1781.8 551.8 1778.7 551.9 1775.6 552C1772.5 552.1 1769.5 552.2 1766.4 552.3C1763.3 552.4 1760.2 552.5 1757.2 552.6C1754.1 552.7 1751 552.8 1748 552.9C1744.9 553 1741.8 553.1 1738.8 553.2C1735.7 553.3 1732.6 553.5 1729.6 553.6C1726.5 553.7 1723.5 553.8 1720.4 553.9C1717.3 554 1714.3 554.1 1711.2 554.2C1708.2 554.3 1705.1 554.5 1702.1 554.6C1699 554.7 1695.9 554.8 1692.9 554.9C1689.8 555.1 1686.8 555.2 1683.7 555.3C1680.7 555.5 1677.7 555.6 1674.6 555.7C1671.6 555.9 1668.5 556 1665.5 556.1C1662.4 556.3 1659.4 556.4 1656.4 556.6C1653.3 556.7 1650.3 556.9 1647.2 557C1644.2 557.2 1641.2 557.3 1638.1 557.5C1635.1 557.7 1632.1 557.8 1629 558C1626 558.2 1623 558.4 1620 558.5C1616.9 558.7 1613.9 558.9 1610.9 559.1C1607.9 559.3 1604.8 559.5 1601.8 559.7C1598.8 559.9 1595.8 560.1 1592.8 560.3C1589.7 560.6 1586.7 560.8 1583.7 561C1580.7 561.2 1577.7 561.5 1574.7 561.7C1571.7 562 1568.7 562.2 1565.6 562.5C1562.6 562.7 1559.6 563 1556.6 563.3C1553.6 563.5 1550.6 563.8 1547.6 564.1C1544.6 564.4 1541.6 564.7 1538.6 565C1535.6 565.3 1532.6 565.6 1529.6 565.9C1526.6 566.2 1523.6 566.5 1520.6 566.8C1517.7 567.2 1514.7 567.5 1511.7 567.9C1508.7 568.2 1505.7 568.6 1502.7 568.9C1499.7 569.3 1496.7 569.7 1493.8 570.1C1490.8 570.5 1487.8 570.9 1484.8 571.3C1481.8 571.7 1478.9 572.1 1475.9 572.5C1472.9 572.9 1469.9 573.4 1467 573.8C1464 574.3 1461 574.7 1458.1 575.2C1455.1 575.7 1452.1 576.1 1449.2 576.6C1446.2 577.1 1443.2 577.6 1440.3 578.1C1437.3 578.6 1434.4 579.2 1431.4 579.7C1428.4 580.2 1425.5 580.8 1422.5 581.3C1419.6 581.9 1416.6 582.5 1413.7 583C1410.7 583.6 1407.8 584.2 1404.8 584.8C1401.9 585.4 1398.9 586 1396 586.7C1393.1 587.3 1390.1 588 1387.2 588.6C1384.2 589.3 1381.3 589.9 1378.4 590.6C1375.4 591.3 1372.5 592 1369.6 592.7C1366.6 593.4 1363.7 594.2 1360.8 594.9C1357.8 595.7 1354.9 596.4 1352 597.2C1349.1 597.9 1346.1 598.7 1343.2 599.5C1340.3 600.3 1337.4 601.1 1334.5 602C1331.5 602.8 1328.6 603.6 1325.7 604.5C1322.8 605.4 1319.9 606.2 1317 607.1C1314.1 608 1311.2 608.9 1308.3 609.9C1305.4 610.8 1302.4 611.7 1299.5 612.7C1296.6 613.6 1293.7 614.6 1290.8 615.6C1287.9 616.6 1285.1 617.6 1282.2 618.6C1279.3 619.6 1276.4 620.7 1273.5 621.7C1270.6 622.8 1267.7 623.9 1264.8 625C1261.9 626 1257.6 627.7 1256.2 628.3" stroke="#ffa500" stroke-width="4.6"/>
<path d="M1170.1 219.1C1169.1 220.2 1165.8 223 1164.2 225.6C1162.7 228.2 1161.4 231.4 1160.6 234.5C1159.7 237.6 1159.3 241.1 1159.2 244.2C1159.1 247.4 1159.4 250.4 1160.1 253.3C1160.7 256.1 1161.7 258.7 1163 261.2C1164.2 263.8 1165.9 266.1 1167.6 268.4C1169.4 270.6 1171.4 272.8 1173.6 274.8C1175.7 276.9 1178 278.8 1180.4 280.7C1182.8 282.6 1185.4 284.4 1187.9 286.2C1190.5 288 1193.1 289.8 1195.6 291.5C1198.2 293.2 1200.8 295 1203.4 296.6C1206 298.3 1208.6 300 1211.2 301.7C1213.9 303.3 1216.5 304.9 1219.1 306.6C1221.7 308.2 1224.4 309.8 1227 311.3C1229.7 312.9 1232.3 314.4 1235 316C1237.6 317.5 1240.3 319 1242.9 320.5C1245.6 322 1248.3 323.5 1251 324.9C1253.7 326.4 1256.3 327.8 1259 329.3C1261.7 330.7 1264.4 332.1 1267.1 333.5C1269.8 334.9 1272.6 336.3 1275.3 337.6C1278 339 1280.7 340.3 1283.4 341.7C1286.2 343 1288.9 344.3 1291.6 345.6C1294.4 346.9 1297.1 348.2 1299.9 349.5C1302.6 350.8 1305.4 352 1308.1 353.3C1310.9 354.5 1313.6 355.8 1316.4 357C1319.2 358.2 1321.9 359.5 1324.7 360.7C1327.5 361.9 1330.3 363.1 1333 364.3C1335.8 365.5 1338.6 366.6 1341.4 367.8C1344.2 369 1347 370.1 1349.8 371.3C1352.6 372.4 1355.4 373.6 1358.2 374.7C1361 375.9 1363.8 377 1366.6 378.1C1369.4 379.2 1372.2 380.3 1375 381.5C1377.8 382.6 1380.6 383.7 1383.4 384.8C1386.2 385.9 1389.1 387 1391.9 388C1394.7 389.1 1397.5 390.2 1400.3 391.3C1403.2 392.4 1406 393.5 1408.8 394.5C1411.6 395.6 1414.5 396.7 1417.3 397.7C1420.1 398.8 1422.9 399.9 1425.8 400.9C1428.6 402 1431.4 403.1 1434.3 404.1C1437.1 405.2 1439.9 406.2 1442.8 407.3C1445.6 408.3 1448.5 409.4 1451.3 410.4C1454.1 411.5 1457 412.5 1459.8 413.6C1462.7 414.6 1465.5 415.6 1468.3 416.7C1471.2 417.7 1474 418.8 1476.9 419.8C1479.7 420.8 1482.6 421.9 1485.4 422.9C1488.3 423.9 1491.1 425 1494 426C1496.8 427 1499.7 428.1 1502.5 429.1C1505.4 430.1 1508.2 431.2 1511.1 432.2C1513.9 433.2 1516.8 434.3 1519.6 435.3C1522.5 436.3 1525.3 437.4 1528.2 438.4C1531 439.4 1533.9 440.5 1536.7 441.5C1539.6 442.5 1542.4 443.6 1545.3 444.6C1548.1 445.6 1551 446.7 1553.9 447.7C1556.7 448.7 1559.6 449.8 1562.4 450.8C1565.3 451.9 1568.1 452.9 1571 454C1573.8 455 1576.7 456 1579.5 457.1C1582.4 458.1 1585.3 459.2 1588.1 460.2C1591 461.3 1593.8 462.3 1596.7 463.4C1599.5 464.5 1602.4 465.5 1605.2 466.6C1608.1 467.6 1610.9 468.7 1613.8 469.8C1616.6 470.8 1619.5 471.9 1622.3 473C1625.2 474.1 1628 475.1 1630.9 476.2C1633.7 477.3 1636.6 478.4 1639.4 479.5C1642.3 480.5 1645.1 481.6 1647.9 482.7C1650.8 483.8 1653.6 484.9 1656.4 486C1659.3 487.1 1662.1 488.2 1664.9 489.3C1667.8 490.4 1670.6 491.5 1673.4 492.6C1676.2 493.7 1679.1 494.8 1681.9 495.9C1684.7 497 1687.5 498.2 1690.3 499.3C1693.1 500.4 1695.9 501.5 1698.7 502.6C1701.5 503.8 1704.3 504.9 1707.1 506C1709.9 507.2 1712.7 508.3 1715.5 509.4C1718.3 510.6 1721.1 511.7 1723.8 512.8C1726.6 514 1729.4 515.1 1732.2 516.3C1734.9 517.4 1737.7 518.6 1740.4 519.7C1743.2 520.9 1745.9 522 1748.7 523.2C1751.4 524.3 1754.1 525.5 1756.9 526.7C1759.6 527.8 1762.3 529 1765.1 530.2C1767.8 531.3 1770.5 532.5 1773.3 533.7C1776.1 534.9 1778.9 536.1 1781.7 537.3C1784.5 538.5 1787.4 539.6 1790.3 540.9C1793.2 542.1 1796.2 543.3 1799.2 544.5C1802.2 545.7 1805.4 546.9 1808.4 548.2C1811.4 549.4 1814.5 550.7 1817.3 552.1C1820.1 553.4 1822.9 554.8 1825.4 556.3C1827.8 557.8 1830.4 559.3 1831.9 561C1833.3 562.7 1834.6 564.8 1833.9 566.6C1833.2 568.4 1830.1 570.4 1827.7 571.7C1825.3 572.9 1822.4 573.7 1819.4 574.3C1816.4 574.9 1813 575 1809.7 575.2C1806.4 575.4 1803 575.3 1799.6 575.3C1796.3 575.3 1793.1 575.3 1789.9 575.2C1786.7 575.2 1783.6 575.2 1780.5 575.2C1777.4 575.2 1774.4 575.1 1771.4 575.1C1768.4 575.1 1765.4 575.1 1762.5 575.1C1759.5 575 1756.5 575 1753.6 575C1750.6 575 1747.6 575 1744.6 574.9C1741.7 574.9 1738.7 574.9 1735.7 574.9C1732.7 574.9 1729.7 574.9 1726.7 574.8C1723.7 574.8 1720.7 574.8 1717.7 574.8C1714.7 574.8 1711.7 574.8 1708.7 574.8C1705.7 574.7 1702.7 574.7 1699.7 574.7C1696.7 574.7 1693.7 574.7 1690.6 574.7C1687.6 574.7 1684.6 574.7 1681.6 574.7C1678.5 574.8 1675.5 574.8 1672.5 574.8C1669.5 574.8 1666.4 574.8 1663.4 574.8C1660.4 574.9 1657.3 574.9 1654.3 574.9C1651.2 575 1648.2 575 1645.2 575.1C1642.1 575.1 1639.1 575.2 1636 575.2C1633 575.3 1630 575.3 1626.9 575.4C1623.9 575.5 1620.8 575.6 1617.8 575.7C1614.7 575.7 1611.7 575.8 1608.6 575.9C1605.6 576 1602.6 576.1 1599.5 576.3C1596.5 576.4 1593.4 576.5 1590.4 576.6C1587.3 576.8 1584.3 576.9 1581.2 577.1C1578.2 577.2 1575.2 577.4 1572.1 577.5C1569.1 577.7 1566 577.9 1563 578.1C1560 578.3 1556.9 578.5 1553.9 578.7C1550.8 578.9 1547.8 579.1 1544.8 579.3C1541.7 579.6 1538.7 579.8 1535.7 580.1C1532.7 580.3 1529.6 580.6 1526.6 580.9C1523.6 581.1 1520.6 581.4 1517.5 581.7C1514.5 582 1511.5 582.4 1508.5 582.7C1505.5 583 1502.5 583.4 1499.5 583.7C1496.5 584.1 1493.5 584.4 1490.5 584.8C1487.5 585.2 1484.5 585.6 1481.5 586C1478.5 586.4 1475.5 586.8 1472.5 587.3C1469.5 587.7 1466.5 588.2 1463.5 588.6C1460.6 589.1 1457.6 589.5 1454.6 590C1451.6 590.5 1448.6 591 1445.7 591.5C1442.7 591.9 1439.7 592.5 1436.7 593C1433.8 593.5 1430.8 594 1427.8 594.5C1424.9 595.1 1421.9 595.6 1418.9 596.1C1416 596.7 1413 597.2 1410 597.8C1407.1 598.4 1404.1 598.9 1401.1 599.5C1398.2 600.1 1395.2 600.7 1392.2 601.2C1389.3 601.8 1386.3 602.4 1383.3 603C1380.4 603.6 1377.4 604.2 1374.4 604.8C1371.5 605.4 1368.5 606 1365.5 606.6C1362.6 607.2 1359.6 607.9 1356.6 608.5C1353.7 609.1 1350.7 609.7 1347.7 610.3C1344.7 611 1341.8 611.6 1338.8 612.2C1335.8 612.8 1332.8 613.5 1329.9 614.1C1326.9 614.7 1323.9 615.3 1320.9 616C1317.9 616.6 1315 617.2 1312 617.9C1309 618.5 1306 619.1 1303 619.7C1300 620.4 1297 621 1294 621.6C1291 622.3 1288 622.9 1285.1 623.6C1282.1 624.3 1279.1 625 1276.2 625.8C1273.2 626.6 1270.3 627.5 1267.4 628.4C1264.6 629.4 1261.7 630.4 1258.9 631.5C1256.1 632.7 1253.3 633.9 1250.6 635.4C1247.9 636.8 1245.3 638.3 1242.7 640C1240.1 641.7 1237.6 643.6 1235.1 645.6C1232.7 647.7 1229.2 651.3 1228 652.4" stroke="#ffa500" stroke-width="4.6"/>
<path d="M1161 221.3C1159.7 222.7 1155.3 226.9 1153.1 229.6C1151 232.4 1149.4 235.2 1148.3 238C1147.1 240.8 1146.4 243.6 1146 246.4C1145.6 249.2 1145.7 252 1146 254.7C1146.3 257.5 1147 260.2 1147.9 263C1148.8 265.7 1150 268.4 1151.3 271C1152.7 273.7 1154.2 276.3 1155.9 278.8C1157.5 281.4 1159.4 283.9 1161.2 286.4C1163.1 288.9 1165 291.3 1167 293.6C1168.9 296 1170.9 298.3 1173 300.5C1175 302.7 1177.1 304.9 1179.3 307.1C1181.4 309.2 1183.6 311.3 1185.8 313.3C1188 315.4 1190.3 317.4 1192.5 319.3C1194.8 321.3 1197.1 323.2 1199.5 325.1C1201.8 326.9 1204.2 328.8 1206.6 330.5C1209.1 332.3 1211.5 334.1 1214 335.8C1216.4 337.5 1218.9 339.2 1221.5 340.9C1224 342.5 1226.5 344.2 1229.1 345.8C1231.6 347.4 1234.2 348.9 1236.8 350.5C1239.4 352 1242.1 353.5 1244.7 355C1247.3 356.5 1250 358 1252.7 359.5C1255.3 361 1258 362.4 1260.7 363.8C1263.4 365.3 1266.1 366.7 1268.8 368.1C1271.5 369.5 1274.2 370.9 1276.9 372.3C1279.6 373.6 1282.4 375 1285.1 376.4C1287.8 377.8 1290.5 379.1 1293.3 380.5C1296 381.9 1298.7 383.2 1301.4 384.6C1304.2 385.9 1306.9 387.3 1309.6 388.7C1312.3 390 1315.1 391.4 1317.8 392.7C1320.5 394.1 1323.2 395.4 1326 396.8C1328.7 398.1 1331.4 399.4 1334.1 400.8C1336.9 402.1 1339.6 403.4 1342.3 404.8C1345.1 406.1 1347.8 407.4 1350.5 408.8C1353.2 410.1 1356 411.4 1358.7 412.7C1361.4 414 1364.1 415.3 1366.9 416.7C1369.6 418 1372.3 419.3 1375.1 420.6C1377.8 421.9 1380.5 423.2 1383.3 424.5C1386 425.8 1388.7 427.1 1391.5 428.4C1394.2 429.6 1396.9 430.9 1399.7 432.2C1402.4 433.5 1405.1 434.8 1407.9 436C1410.6 437.3 1413.4 438.6 1416.1 439.8C1418.9 441.1 1421.6 442.3 1424.3 443.6C1427.1 444.9 1429.8 446.1 1432.6 447.3C1435.3 448.6 1438.1 449.8 1440.8 451.1C1443.6 452.3 1446.3 453.5 1449.1 454.8C1451.8 456 1454.6 457.2 1457.4 458.4C1460.1 459.6 1462.9 460.8 1465.7 462.1C1468.4 463.3 1471.2 464.5 1473.9 465.7C1476.7 466.9 1479.5 468 1482.3 469.2C1485 470.4 1487.8 471.6 1490.6 472.8C1493.4 473.9 1496.1 475.1 1498.9 476.3C1501.7 477.4 1504.5 478.6 1507.3 479.7C1510.1 480.9 1512.9 482 1515.7 483.2C1518.4 484.3 1521.2 485.5 1524 486.6C1526.8 487.7 1529.6 488.8 1532.5 490C1535.3 491.1 1538.1 492.2 1540.9 493.3C1543.7 494.4 1546.5 495.5 1549.3 496.6C1552.1 497.7 1555 498.8 1557.8 499.8C1560.6 500.9 1563.4 502 1566.3 503.1C1569.1 504.1 1571.9 505.2 1574.8 506.2C1577.6 507.3 1580.5 508.3 1583.3 509.4C1586.2 510.4 1589 511.4 1591.9 512.5C1594.7 513.5 1597.6 514.5 1600.4 515.5C1603.3 516.5 1606.2 517.5 1609 518.5C1611.9 519.5 1614.8 520.5 1617.6 521.5C1620.5 522.5 1623.4 523.5 1626.3 524.5C1629.2 525.4 1632 526.4 1634.9 527.4C1637.8 528.3 1640.7 529.3 1643.6 530.2C1646.5 531.2 1649.4 532.2 1652.2 533.1C1655.1 534.1 1658 535 1660.9 535.9C1663.8 536.9 1666.7 537.8 1669.6 538.8C1672.5 539.7 1675.4 540.7 1678.2 541.6C1681.1 542.5 1684 543.5 1686.9 544.4C1689.8 545.3 1692.6 546.3 1695.5 547.2C1698.4 548.1 1701.3 549.1 1704.1 550C1707 550.9 1709.9 551.9 1712.7 552.8C1715.6 553.7 1718.5 554.7 1721.3 555.6C1724.2 556.5 1727 557.5 1729.9 558.4C1732.7 559.4 1735.6 560.3 1738.4 561.3C1741.2 562.2 1744.1 563.2 1746.9 564.1C1749.7 565.1 1752.6 566 1755.4 567C1758.2 568 1761 569 1763.9 570C1766.7 570.9 1769.6 571.9 1772.4 573C1775.3 574 1778.2 575 1781.1 576.1C1784 577.1 1786.9 578.2 1789.8 579.3C1792.8 580.3 1795.7 581.4 1798.7 582.5C1801.6 583.7 1804.6 584.8 1807.5 585.9C1810.5 587 1814.6 588.1 1816.3 589.3C1817.9 590.5 1818.4 592 1817.4 593C1816.4 594 1812.9 594.9 1810.4 595.5C1807.8 596 1804.9 596.2 1802 596.2C1799 596.2 1795.9 595.9 1792.7 595.6C1789.5 595.3 1786.2 594.8 1782.9 594.4C1779.6 593.9 1776.3 593.3 1773.1 592.9C1769.8 592.5 1766.6 592.1 1763.5 591.8C1760.4 591.4 1757.3 591.2 1754.3 591C1751.2 590.8 1748.3 590.7 1745.3 590.6C1742.3 590.4 1739.4 590.4 1736.5 590.3C1733.5 590.2 1730.6 590.1 1727.7 590.1C1724.7 590 1721.8 589.9 1718.8 589.8C1715.9 589.7 1712.9 589.6 1709.9 589.5C1706.9 589.4 1703.9 589.3 1700.9 589.2C1697.9 589.1 1694.9 589 1691.9 588.9C1688.9 588.8 1685.9 588.7 1682.9 588.6C1679.8 588.5 1676.8 588.4 1673.8 588.3C1670.7 588.2 1667.7 588.1 1664.7 588C1661.6 587.9 1658.6 587.8 1655.5 587.8C1652.5 587.7 1649.4 587.6 1646.4 587.5C1643.3 587.5 1640.2 587.4 1637.2 587.3C1634.1 587.3 1631.1 587.2 1628 587.2C1625 587.2 1621.9 587.2 1618.9 587.1C1615.8 587.1 1612.8 587.1 1609.7 587.2C1606.7 587.2 1603.6 587.2 1600.6 587.2C1597.5 587.3 1594.5 587.4 1591.5 587.4C1588.4 587.5 1585.4 587.6 1582.4 587.7C1579.4 587.8 1576.3 587.9 1573.3 588.1C1570.3 588.2 1567.3 588.3 1564.3 588.5C1561.3 588.7 1558.3 588.8 1555.2 589C1552.2 589.2 1549.2 589.4 1546.2 589.6C1543.2 589.8 1540.2 590.1 1537.2 590.3C1534.3 590.5 1531.3 590.8 1528.3 591C1525.3 591.3 1522.3 591.6 1519.3 591.9C1516.3 592.1 1513.3 592.4 1510.3 592.7C1507.3 593.1 1504.4 593.4 1501.4 593.7C1498.4 594 1495.4 594.4 1492.4 594.7C1489.4 595 1486.5 595.4 1483.5 595.8C1480.5 596.1 1477.5 596.5 1474.5 596.9C1471.6 597.3 1468.6 597.6 1465.6 598C1462.6 598.4 1459.6 598.8 1456.6 599.3C1453.7 599.7 1450.7 600.1 1447.7 600.5C1444.7 600.9 1441.7 601.4 1438.7 601.8C1435.7 602.3 1432.7 602.7 1429.7 603.1C1426.7 603.6 1423.8 604.1 1420.8 604.5C1417.8 605 1414.8 605.4 1411.8 605.9C1408.8 606.4 1405.8 606.9 1402.8 607.4C1399.7 607.8 1396.7 608.3 1393.7 608.8C1390.7 609.3 1387.7 609.8 1384.7 610.3C1381.7 610.8 1378.7 611.3 1375.6 611.9C1372.6 612.4 1369.6 612.9 1366.6 613.5C1363.6 614 1360.6 614.6 1357.6 615.2C1354.6 615.7 1351.6 616.3 1348.6 617C1345.6 617.6 1342.6 618.2 1339.6 618.9C1336.7 619.5 1333.7 620.2 1330.7 620.9C1327.8 621.6 1324.8 622.3 1321.9 623.1C1318.9 623.8 1316 624.6 1313.1 625.4C1310.2 626.2 1307.3 627.1 1304.4 628C1301.5 628.8 1298.6 629.7 1295.7 630.7C1292.9 631.6 1290 632.6 1287.2 633.6C1284.4 634.6 1281.5 635.6 1278.7 636.7C1275.9 637.8 1273.2 638.9 1270.4 640.1C1267.7 641.3 1264.9 642.5 1262.2 643.8C1259.5 645 1256.8 646.3 1254.1 647.7C1251.4 649 1248.8 650.4 1246.2 651.9C1243.5 653.3 1240.9 654.8 1238.4 656.4C1235.8 657.9 1233.2 659.5 1230.7 661.2C1228.2 662.8 1225.7 664.6 1223.2 666.3C1220.8 668.1 1218.3 669.9 1215.9 671.8C1213.5 673.7 1210 676.7 1208.8 677.7" stroke="#ffa500" stroke-width="4.6"/>
</g>
<circle cx="1420" cy="462" r="7.2" fill="#ff0000"/>
<circle cx="1420" cy="514.8" r="7.2" fill="#ff0000"/>
<circle cx="1420" cy="560.3" r="7.2" fill="#ff0000"/>
<circle cx="1692.8" cy="449.3" r="7.2" fill="#ffc000"/>
<circle cx="1692.8" cy="502" r="7.2" fill="#ffc000"/>
<circle cx="1692.8" cy="547.5" r="7.2" fill="#ffc000"/>
<path d="M1436.4 449L1516.6 447.5L1516.6 575.5Q1476 578 1436.4 575.5Z" fill="none" stroke="#0a0ae6" stroke-width="4"/>
<path d="M1708.5 433.8L1768 422.5Q1773.5 487 1768 548.6L1708.5 560Z" fill="none" stroke="#0a0ae6" stroke-width="4"/>
<path d="M878.1 118.4L894.8 641.8M894.8 641.8L1187.3 845.9M1187.3 845.9L2077.8 761.5" stroke="#333" stroke-width="2.4" fill="none" stroke-linecap="round"/>
<path d="M878.3 592.1L902.2 590.1M876.4 533.2L900.3 531.3M874.5 473.9L898.4 472.1M872.6 414.3L896.5 412.5M870.7 354.2L894.6 352.5M868.7 293.8L892.7 292.1M866.8 232.9L890.7 231.3M864.8 171.7L888.8 170.2M1138.3 821.9L1162.2 819.7M1098.3 793.9L1122.2 791.7M1059.2 766.7L1083.1 764.5M1021.1 740.1L1045.1 738M984 714.2L1007.9 712.1M947.7 688.8L971.6 686.8M912.3 664.1L936.3 662.1M1289.7 834.3L1298.8 840.4M1407.5 823.1L1416.8 829.1M1524.1 812.1L1533.4 818M1639.4 801.3L1648.8 806.9M1753.4 790.5L1762.9 796M1866.2 779.8L1875.8 785.2M1977.9 769.3L1987.5 774.5" stroke="#333" stroke-width="2.2" fill="none"/>
<text transform="translate(824 188.5)" font-family="'DejaVu Sans','Liberation Sans',sans-serif" font-size="29" fill="#1a1a1a" text-anchor="middle">4</text>
<text transform="translate(826 251.5)" font-family="'DejaVu Sans','Liberation Sans',sans-serif" font-size="29" fill="#1a1a1a" text-anchor="middle">3</text>
<text transform="translate(828 312.2)" font-family="'DejaVu Sans','Liberation Sans',sans-serif" font-size="29" fill="#1a1a1a" text-anchor="middle">2</text>
<text transform="translate(833 373.5)" font-family="'DejaVu Sans','Liberation Sans',sans-serif" font-size="29" fill="#1a1a1a" text-anchor="middle">1</text>
<text transform="translate(835 432.2)" font-family="'DejaVu Sans','Liberation Sans',sans-serif" font-size="29" fill="#1a1a1a" text-anchor="middle">0</text>
<text transform="translate(836 493.5)" font-family="'DejaVu Sans','Liberation Sans',sans-serif" font-size="29" fill="#1a1a1a" text-anchor="middle">−1</text>
<text transform="translate(838 552.2)" font-family="'DejaVu Sans','Liberation Sans',sans-serif" font-size="29" fill="#1a1a1a" text-anchor="middle">−2</text>
<text transform="translate(841 608.5)" font-family="'DejaVu Sans','Liberation Sans',sans-serif" font-size="29" fill="#1a1a1a" text-anchor="middle">−3</text>
<text transform="translate(885 715.5)" font-family="'DejaVu Sans','Liberation Sans',sans-serif" font-size="29" fill="#1a1a1a" text-anchor="middle">7.5</text>
<text transform="translate(920 740.5)" font-family="'DejaVu Sans','Liberation Sans',sans-serif" font-size="29" fill="#1a1a1a" text-anchor="middle">5.0</text>
<text transform="translate(956 765.5)" font-family="'DejaVu Sans','Liberation Sans',sans-serif" font-size="29" fill="#1a1a1a" text-anchor="middle">2.5</text>
<text transform="translate(994 792.2)" font-family="'DejaVu Sans','Liberation Sans',sans-serif" font-size="29" fill="#1a1a1a" text-anchor="middle">0.0</text>
<text transform="translate(1031.7 818.5)" font-family="'DejaVu Sans','Liberation Sans',sans-serif" font-size="29" fill="#1a1a1a" text-anchor="middle">−2.5</text>
<text transform="translate(1071.7 847.2)" font-family="'DejaVu Sans','Liberation Sans',sans-serif" font-size="29" fill="#1a1a1a" text-anchor="middle">−5.0</text>
<text transform="translate(1110 873.5)" font-family="'DejaVu Sans','Liberation Sans',sans-serif" font-size="29" fill="#1a1a1a" text-anchor="middle">−7.5</text>
<text transform="translate(1309 895.5)" font-family="'DejaVu Sans','Liberation Sans',sans-serif" font-size="29" fill="#1a1a1a" text-anchor="middle">−7.5</text>
<text transform="translate(1427 885.5)" font-family="'DejaVu Sans','Liberation Sans',sans-serif" font-size="29" fill="#1a1a1a" text-anchor="middle">−5.0</text>
<text transform="translate(1542 875.5)" font-family="'DejaVu Sans','Liberation Sans',sans-serif" font-size="29" fill="#1a1a1a" text-anchor="middle">−2.5</text>
<text transform="translate(1658 863.5)" font-family="'DejaVu Sans','Liberation Sans',sans-serif" font-size="29" fill="#1a1a1a" text-anchor="middle">0.0</text>
<text transform="translate(1773 853.5)" font-family="'DejaVu Sans','Liberation Sans',sans-serif" font-size="29" fill="#1a1a1a" text-anchor="middle">2.5</text>
<text transform="translate(1885 842.5)" font-family="'DejaVu Sans','Liberation Sans',sans-serif" font-size="29" fill="#1a1a1a" text-anchor="middle">5.0</text>
<text transform="translate(2000 832.5)" font-family="'DejaVu Sans','Liberation Sans',sans-serif" font-size="29" fill="#1a1a1a" text-anchor="middle">7.5</text>
<text transform="translate(1683 903) rotate(-5.3)" font-family="'DejaVu Sans','Liberation Sans',sans-serif" font-size="55" fill="#111" text-anchor="middle">x [m]</text>
<text transform="translate(936 818) rotate(35)" font-family="'DejaVu Sans','Liberation Sans',sans-serif" font-size="52" fill="#111" text-anchor="middle">y [m]</text>
<text transform="translate(753 377) rotate(88)" font-family="'DejaVu Sans','Liberation Sans',sans-serif" font-size="55" fill="#111" text-anchor="middle">z [m]</text>
<text transform="translate(1493.6 511.7) rotate(-90) scale(0.86 1)" font-family="'Liberation Sans','DejaVu Sans',sans-serif" font-size="38.5" fill="#28f4ec" text-anchor="middle" font-weight="bold">ICRFA</text>
<text transform="translate(1755 491) rotate(-88) scale(0.86 1)" font-family="'Liberation Sans','DejaVu Sans',sans-serif" font-size="38.5" fill="#28f4ec" text-anchor="middle" font-weight="bold">ICRFB</text>
<text transform="translate(819.5 58)" font-family="'DejaVu Sans','Liberation Sans',sans-serif" font-size="68.5" fill="#000" text-anchor="start">(b)</text>
</g>
</svg></body></html>
